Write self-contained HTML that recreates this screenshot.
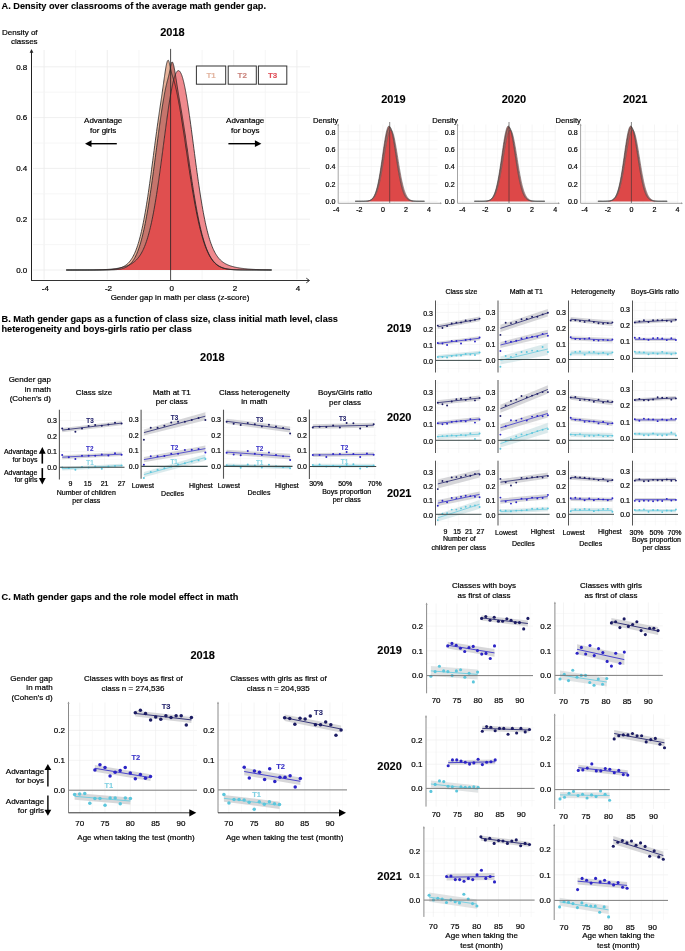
<!DOCTYPE html>
<html><head><meta charset="utf-8"><style>
html,body{margin:0;padding:0;background:#fff;}
svg{display:block;will-change:transform;}
text{font-family:"Liberation Sans", sans-serif;}
</style></head><body>
<svg width="685" height="951" viewBox="0 0 685 951">
<rect width="685" height="951" fill="#fff"/>
<text x="1.5" y="8.7" font-size="9.2" text-anchor="start" fill="#000" font-weight="bold" stroke="#000" stroke-width="0.1">A. Density over classrooms of the average math gender gap.</text>
<line x1="44.1" y1="50" x2="44.1" y2="279.5" stroke="#ebebeb" stroke-width="0.8"/>
<line x1="75.7" y1="50" x2="75.7" y2="279.5" stroke="#f4f4f4" stroke-width="0.8"/>
<line x1="107.3" y1="50" x2="107.3" y2="279.5" stroke="#ebebeb" stroke-width="0.8"/>
<line x1="138.9" y1="50" x2="138.9" y2="279.5" stroke="#f4f4f4" stroke-width="0.8"/>
<line x1="170.5" y1="50" x2="170.5" y2="279.5" stroke="#ebebeb" stroke-width="0.8"/>
<line x1="202.1" y1="50" x2="202.1" y2="279.5" stroke="#f4f4f4" stroke-width="0.8"/>
<line x1="233.7" y1="50" x2="233.7" y2="279.5" stroke="#ebebeb" stroke-width="0.8"/>
<line x1="265.3" y1="50" x2="265.3" y2="279.5" stroke="#f4f4f4" stroke-width="0.8"/>
<line x1="296.9" y1="50" x2="296.9" y2="279.5" stroke="#ebebeb" stroke-width="0.8"/>
<line x1="33" y1="270" x2="310" y2="270" stroke="#ebebeb" stroke-width="0.8"/>
<line x1="33" y1="244.6" x2="310" y2="244.6" stroke="#f4f4f4" stroke-width="0.8"/>
<line x1="33" y1="219.2" x2="310" y2="219.2" stroke="#ebebeb" stroke-width="0.8"/>
<line x1="33" y1="193.8" x2="310" y2="193.8" stroke="#f4f4f4" stroke-width="0.8"/>
<line x1="33" y1="168.4" x2="310" y2="168.4" stroke="#ebebeb" stroke-width="0.8"/>
<line x1="33" y1="143" x2="310" y2="143" stroke="#f4f4f4" stroke-width="0.8"/>
<line x1="33" y1="117.6" x2="310" y2="117.6" stroke="#ebebeb" stroke-width="0.8"/>
<line x1="33" y1="92.2" x2="310" y2="92.2" stroke="#f4f4f4" stroke-width="0.8"/>
<line x1="33" y1="66.8" x2="310" y2="66.8" stroke="#ebebeb" stroke-width="0.8"/>
<path d="M66.22,270 L66.85,270 L67.48,270 L68.12,270 L68.75,270 L69.38,270 L70.01,270 L70.64,270 L71.28,270 L71.91,270 L72.54,270 L73.17,270 L73.8,270 L74.44,270 L75.07,270 L75.7,270 L76.33,270 L76.96,270 L77.6,270 L78.23,270 L78.86,270 L79.49,270 L80.12,270 L80.76,270 L81.39,270 L82.02,270 L82.65,270 L83.28,270 L83.92,270 L84.55,270 L85.18,270 L85.81,270 L86.44,270 L87.08,270 L87.71,269.99 L88.34,269.99 L88.97,269.99 L89.6,269.99 L90.24,269.99 L90.87,269.99 L91.5,269.99 L92.13,269.99 L92.76,269.98 L93.4,269.98 L94.03,269.98 L94.66,269.98 L95.29,269.97 L95.92,269.97 L96.56,269.97 L97.19,269.96 L97.82,269.96 L98.45,269.95 L99.08,269.94 L99.72,269.94 L100.35,269.93 L100.98,269.92 L101.61,269.91 L102.24,269.9 L102.88,269.89 L103.51,269.87 L104.14,269.86 L104.77,269.84 L105.4,269.82 L106.04,269.8 L106.67,269.77 L107.3,269.75 L107.93,269.72 L108.56,269.69 L109.2,269.65 L109.83,269.61 L110.46,269.57 L111.09,269.52 L111.72,269.46 L112.36,269.4 L112.99,269.34 L113.62,269.27 L114.25,269.19 L114.88,269.1 L115.52,269 L116.15,268.9 L116.78,268.78 L117.41,268.65 L118.04,268.51 L118.68,268.36 L119.31,268.19 L119.94,268 L120.57,267.79 L121.2,267.57 L121.84,267.32 L122.47,267.05 L123.1,266.76 L123.73,266.43 L124.36,266.08 L125,265.69 L125.63,265.27 L126.26,264.81 L126.89,264.31 L127.52,263.76 L128.16,263.16 L128.79,262.51 L129.42,261.81 L130.05,261.04 L130.68,260.21 L131.32,259.31 L131.95,258.34 L132.58,257.29 L133.21,256.15 L133.84,254.92 L134.48,253.61 L135.11,252.19 L135.74,250.67 L136.37,249.04 L137,247.29 L137.64,245.43 L138.27,243.44 L138.9,241.32 L139.53,239.07 L140.16,236.68 L140.8,234.15 L141.43,231.48 L142.06,228.66 L142.69,225.7 L143.32,222.59 L143.96,219.32 L144.59,215.91 L145.22,212.35 L145.85,208.65 L146.48,204.81 L147.12,200.83 L147.75,196.72 L148.38,192.49 L149.01,188.14 L149.64,183.68 L150.28,179.13 L150.91,174.49 L151.54,169.79 L152.17,165.02 L152.8,160.22 L153.44,155.39 L154.07,150.55 L154.7,145.72 L155.33,140.91 L155.96,136.15 L156.6,131.46 L157.23,126.84 L157.86,122.31 L158.02,121.19 L158.18,120.07 L158.33,118.97 L158.49,117.87 L158.65,116.77 L158.81,115.68 L158.97,114.59 L159.12,113.51 L159.28,112.44 L159.44,111.37 L159.6,110.3 L159.76,109.23 L159.91,108.17 L160.07,107.11 L160.23,106.06 L160.39,105 L160.55,103.95 L160.7,102.89 L160.86,101.84 L161.02,100.78 L161.18,99.72 L161.34,98.66 L161.49,97.59 L161.65,96.52 L161.81,95.45 L161.97,94.37 L162.13,93.29 L162.28,92.2 L162.44,91.1 L162.6,90 L162.76,88.89 L162.92,87.77 L163.07,86.65 L163.23,85.53 L163.39,84.4 L163.55,83.27 L163.71,82.13 L163.86,81 L164.02,79.86 L164.18,78.73 L164.34,77.61 L164.5,76.49 L164.65,75.38 L164.81,74.28 L164.97,73.2 L165.13,72.14 L165.29,71.1 L165.44,70.09 L165.6,69.1 L165.76,68.15 L165.92,67.24 L166.08,66.37 L166.23,65.54 L166.39,64.76 L166.55,64.03 L166.71,63.35 L166.87,62.74 L167.02,62.18 L167.18,61.69 L167.34,61.27 L167.5,60.91 L167.66,60.62 L167.81,60.41 L167.97,60.27 L168.13,60.2 L168.29,60.22 L168.45,60.35 L168.6,60.6 L168.76,60.95 L168.92,61.41 L169.08,61.96 L169.24,62.59 L169.39,63.27 L169.55,64.01 L169.71,64.78 L169.87,65.57 L170.03,66.37 L170.18,67.17 L170.34,67.95 L170.5,68.71 L170.66,69.45 L170.82,70.16 L170.97,70.84 L171.13,71.48 L171.29,72.1 L171.45,72.68 L171.61,73.24 L171.76,73.78 L171.92,74.3 L172.08,74.8 L172.24,75.29 L172.4,75.78 L172.55,76.25 L172.71,76.73 L172.87,77.21 L173.03,77.7 L173.19,78.18 L173.34,78.68 L173.5,79.19 L173.66,79.7 L173.82,80.23 L173.98,80.76 L174.13,81.31 L174.29,81.87 L174.45,82.44 L174.61,83.02 L174.77,83.62 L174.92,84.23 L175.08,84.85 L175.24,85.48 L175.4,86.12 L175.56,86.78 L175.71,87.45 L175.87,88.13 L176.03,88.82 L176.19,89.52 L176.35,90.24 L176.5,90.96 L176.66,91.7 L176.82,92.44 L176.98,93.2 L177.14,93.97 L177.29,94.74 L177.45,95.53 L177.61,96.33 L177.77,97.14 L177.93,97.95 L178.08,98.78 L178.24,99.62 L178.4,100.46 L178.56,101.31 L178.72,102.18 L178.87,103.05 L179.03,103.92 L179.19,104.81 L179.35,105.71 L179.51,106.61 L179.66,107.52 L179.82,108.44 L179.98,109.36 L180.14,110.3 L180.3,111.24 L180.45,112.18 L180.61,113.13 L180.77,114.09 L180.93,115.06 L181.09,116.03 L181.24,117 L181.4,117.99 L181.56,118.97 L181.72,119.97 L181.88,120.96 L182.03,121.97 L182.19,122.97 L182.35,123.99 L182.51,125 L182.67,126.02 L182.82,127.04 L182.98,128.07 L183.14,129.1 L183.3,130.14 L183.46,131.18 L183.61,132.22 L183.77,133.26 L183.93,134.3 L184.09,135.35 L184.25,136.4 L184.4,137.46 L184.56,138.51 L184.72,139.57 L184.88,140.62 L185.04,141.68 L185.19,142.74 L185.35,143.8 L185.51,144.87 L185.67,145.93 L185.83,146.99 L185.98,148.05 L186.14,149.12 L186.3,150.18 L186.46,151.24 L186.62,152.31 L186.77,153.37 L186.93,154.43 L187.09,155.49 L187.25,156.55 L187.41,157.61 L187.56,158.67 L187.72,159.72 L187.88,160.78 L188.04,161.83 L188.2,162.88 L188.35,163.93 L188.51,164.98 L188.67,166.02 L188.83,167.06 L188.99,168.1 L189.14,169.14 L189.3,170.17 L189.46,171.2 L190.09,175.29 L190.72,179.33 L191.36,183.29 L191.99,187.19 L192.62,191.01 L193.25,194.75 L193.88,198.39 L194.52,201.95 L195.15,205.4 L195.78,208.76 L196.41,212.01 L197.04,215.16 L197.68,218.2 L198.31,221.13 L198.94,223.95 L199.57,226.67 L200.2,229.27 L200.84,231.76 L201.47,234.14 L202.1,236.42 L202.73,238.59 L203.36,240.66 L204,242.62 L204.63,244.48 L205.26,246.25 L205.89,247.92 L206.52,249.5 L207.16,250.98 L207.79,252.38 L208.42,253.7 L209.05,254.94 L209.68,256.1 L210.32,257.19 L210.95,258.2 L211.58,259.15 L212.21,260.03 L212.84,260.86 L213.48,261.62 L214.11,262.33 L214.74,262.99 L215.37,263.6 L216,264.16 L216.64,264.68 L217.27,265.16 L217.9,265.61 L218.53,266.01 L219.16,266.38 L219.8,266.73 L220.43,267.04 L221.06,267.33 L221.69,267.59 L222.32,267.83 L222.96,268.04 L223.59,268.24 L224.22,268.42 L224.85,268.58 L225.48,268.73 L226.12,268.86 L226.75,268.98 L227.38,269.09 L228.01,269.19 L228.64,269.28 L229.28,269.36 L229.91,269.43 L230.54,269.49 L231.17,269.55 L231.8,269.6 L232.44,269.65 L233.07,269.69 L233.7,269.73 L234.33,269.76 L234.96,269.79 L235.6,269.81 L236.23,269.84 L236.86,269.86 L237.49,269.87 L238.12,269.89 L238.76,269.9 L239.39,269.92 L240.02,269.93 L240.65,269.94 L241.28,269.94 L241.92,269.95 L242.55,269.96 L243.18,269.96 L243.81,269.97 L244.44,269.97 L245.08,269.98 L245.71,269.98 L246.34,269.98 L246.97,269.98 L247.6,269.99 L248.24,269.99 L248.87,269.99 L249.5,269.99 L250.13,269.99 L250.76,269.99 L251.4,269.99 L252.03,270 L252.66,270 L253.29,270 L253.92,270 L254.56,270 L255.19,270 L255.82,270 L256.45,270 L257.08,270 L257.72,270 L258.35,270 L258.98,270 L259.61,270 L260.24,270 L260.88,270 L261.51,270 L262.14,270 L262.77,270 L263.4,270 L264.04,270 L264.67,270 L265.3,270 L265.93,270 L266.56,270 L267.2,270 L267.83,270 L268.46,270 L269.09,270 L269.72,270 L270.36,270 L270.99,270 L271.62,270 L271.62,270 L66.22,270 Z" fill="#e8b39b" stroke="none" stroke-width="1"/>
<path d="M66.22,270 L66.85,270 L67.48,270 L68.12,270 L68.75,270 L69.38,270 L70.01,270 L70.64,270 L71.28,270 L71.91,270 L72.54,270 L73.17,270 L73.8,270 L74.44,270 L75.07,270 L75.7,270 L76.33,270 L76.96,270 L77.6,270 L78.23,270 L78.86,270 L79.49,270 L80.12,270 L80.76,270 L81.39,270 L82.02,270 L82.65,270 L83.28,270 L83.92,270 L84.55,270 L85.18,270 L85.81,270 L86.44,270 L87.08,270 L87.71,270 L88.34,270 L88.97,270 L89.6,270 L90.24,270 L90.87,270 L91.5,270 L92.13,270 L92.76,270 L93.4,270 L94.03,270 L94.66,270 L95.29,270 L95.92,270 L96.56,270 L97.19,270 L97.82,270 L98.45,270 L99.08,270 L99.72,269.99 L100.35,269.99 L100.98,269.99 L101.61,269.99 L102.24,269.99 L102.88,269.99 L103.51,269.98 L104.14,269.98 L104.77,269.98 L105.4,269.97 L106.04,269.97 L106.67,269.96 L107.3,269.96 L107.93,269.95 L108.56,269.94 L109.2,269.93 L109.83,269.92 L110.46,269.9 L111.09,269.89 L111.72,269.87 L112.36,269.84 L112.99,269.82 L113.62,269.79 L114.25,269.76 L114.88,269.72 L115.52,269.67 L116.15,269.62 L116.78,269.57 L117.41,269.5 L118.04,269.43 L118.68,269.35 L119.31,269.25 L119.94,269.15 L120.57,269.03 L121.2,268.89 L121.84,268.74 L122.47,268.57 L123.1,268.38 L123.73,268.17 L124.36,267.93 L125,267.67 L125.63,267.38 L126.26,267.05 L126.89,266.69 L127.52,266.29 L128.16,265.85 L128.79,265.37 L129.42,264.84 L130.05,264.25 L130.68,263.61 L131.32,262.91 L131.95,262.15 L132.58,261.32 L133.21,260.41 L133.84,259.43 L134.48,258.36 L135.11,257.21 L135.74,255.97 L136.37,254.63 L137,253.19 L137.64,251.64 L138.27,249.98 L138.9,248.21 L139.53,246.32 L140.16,244.31 L140.8,242.17 L141.43,239.9 L142.06,237.5 L142.69,234.96 L143.32,232.28 L143.96,229.46 L144.59,226.51 L145.22,223.41 L145.85,220.17 L146.48,216.79 L147.12,213.28 L147.75,209.63 L148.38,205.84 L149.01,201.93 L149.64,197.89 L150.28,193.74 L150.91,189.47 L151.54,185.11 L152.17,180.65 L152.8,176.11 L153.44,171.49 L154.07,166.81 L154.7,162.08 L155.33,157.32 L155.96,152.53 L156.6,147.74 L157.23,142.95 L157.86,138.19 L158.02,137 L158.18,135.82 L158.33,134.64 L158.49,133.47 L158.65,132.29 L158.81,131.13 L158.97,129.96 L159.12,128.8 L159.28,127.65 L159.44,126.5 L159.6,125.35 L159.76,124.21 L159.91,123.08 L160.07,121.95 L160.23,120.83 L160.39,119.71 L160.55,118.6 L160.7,117.5 L160.86,116.4 L161.02,115.32 L161.18,114.24 L161.34,113.17 L161.49,112.11 L161.65,111.05 L161.81,110.01 L161.97,108.97 L162.13,107.95 L162.28,106.93 L162.44,105.93 L162.6,104.93 L162.76,103.94 L162.92,102.97 L163.07,102.01 L163.23,101.06 L163.39,100.12 L163.55,99.19 L163.71,98.27 L163.86,97.37 L164.02,96.48 L164.18,95.6 L164.34,94.73 L164.5,93.88 L164.65,93.04 L164.81,92.22 L164.97,91.4 L165.13,90.61 L165.29,89.83 L165.44,89.06 L165.6,88.3 L165.76,87.57 L165.92,86.84 L166.08,86.13 L166.23,85.44 L166.39,84.76 L166.55,84.09 L166.71,83.44 L166.87,82.8 L167.02,82.18 L167.18,81.56 L167.34,80.96 L167.5,80.36 L167.66,79.77 L167.81,79.18 L167.97,78.59 L168.13,78 L168.29,77.4 L168.45,76.8 L168.6,76.18 L168.76,75.54 L168.92,74.88 L169.08,74.2 L169.24,73.49 L169.39,72.76 L169.55,72 L169.71,71.21 L169.87,70.4 L170.03,69.57 L170.18,68.73 L170.34,67.89 L170.5,67.05 L170.66,66.24 L170.82,65.45 L170.97,64.72 L171.13,64.04 L171.29,63.44 L171.45,62.93 L171.61,62.52 L171.76,62.22 L171.92,62.04 L172.08,61.97 L172.24,62.01 L172.4,62.11 L172.55,62.29 L172.71,62.53 L172.87,62.84 L173.03,63.21 L173.19,63.65 L173.34,64.14 L173.5,64.7 L173.66,65.31 L173.82,65.97 L173.98,66.68 L174.13,67.44 L174.29,68.24 L174.45,69.07 L174.61,69.94 L174.77,70.85 L174.92,71.77 L175.08,72.73 L175.24,73.7 L175.4,74.69 L175.56,75.69 L175.71,76.71 L175.87,77.73 L176.03,78.75 L176.19,79.78 L176.35,80.81 L176.5,81.84 L176.66,82.87 L176.82,83.89 L176.98,84.91 L177.14,85.92 L177.29,86.92 L177.45,87.92 L177.61,88.9 L177.77,89.88 L177.93,90.85 L178.08,91.81 L178.24,92.77 L178.4,93.71 L178.56,94.65 L178.72,95.58 L178.87,96.51 L179.03,97.43 L179.19,98.35 L179.35,99.26 L179.51,100.17 L179.66,101.07 L179.82,101.98 L179.98,102.88 L180.14,103.79 L180.3,104.69 L180.45,105.6 L180.61,106.51 L180.77,107.42 L180.93,108.33 L181.09,109.25 L181.24,110.17 L181.4,111.09 L181.56,112.02 L181.72,112.96 L181.88,113.9 L182.03,114.85 L182.19,115.8 L182.35,116.75 L182.51,117.72 L182.67,118.69 L182.82,119.66 L182.98,120.64 L183.14,121.63 L183.3,122.63 L183.46,123.62 L183.61,124.63 L183.77,125.64 L183.93,126.66 L184.09,127.68 L184.25,128.71 L184.4,129.74 L184.56,130.78 L184.72,131.82 L184.88,132.87 L185.04,133.92 L185.19,134.97 L185.35,136.03 L185.51,137.1 L185.67,138.16 L185.83,139.23 L185.98,140.31 L186.14,141.38 L186.3,142.46 L186.46,143.54 L186.62,144.63 L186.77,145.71 L186.93,146.8 L187.09,147.89 L187.25,148.98 L187.41,150.07 L187.56,151.16 L187.72,152.25 L187.88,153.35 L188.04,154.44 L188.2,155.53 L188.35,156.63 L188.51,157.72 L188.67,158.81 L188.83,159.91 L188.99,161 L189.14,162.09 L189.3,163.17 L189.46,164.26 L190.09,168.59 L190.72,172.88 L191.36,177.11 L191.99,181.29 L192.62,185.4 L193.25,189.43 L193.88,193.37 L194.52,197.21 L195.15,200.96 L195.78,204.6 L196.41,208.14 L197.04,211.55 L197.68,214.86 L198.31,218.04 L198.94,221.1 L199.57,224.04 L200.2,226.86 L200.84,229.55 L201.47,232.12 L202.1,234.58 L202.73,236.91 L203.36,239.12 L204,241.23 L204.63,243.22 L205.26,245.1 L205.89,246.87 L206.52,248.54 L207.16,250.12 L207.79,251.59 L208.42,252.98 L209.05,254.28 L209.68,255.49 L210.32,256.63 L210.95,257.69 L211.58,258.67 L212.21,259.59 L212.84,260.44 L213.48,261.23 L214.11,261.97 L214.74,262.64 L215.37,263.27 L216,263.85 L216.64,264.39 L217.27,264.88 L217.9,265.33 L218.53,265.75 L219.16,266.13 L219.8,266.48 L220.43,266.81 L221.06,267.1 L221.69,267.37 L222.32,267.62 L222.96,267.84 L223.59,268.05 L224.22,268.24 L224.85,268.41 L225.48,268.56 L226.12,268.71 L226.75,268.83 L227.38,268.95 L228.01,269.06 L228.64,269.15 L229.28,269.24 L229.91,269.32 L230.54,269.39 L231.17,269.45 L231.8,269.51 L232.44,269.56 L233.07,269.61 L233.7,269.65 L234.33,269.69 L234.96,269.72 L235.6,269.75 L236.23,269.78 L236.86,269.8 L237.49,269.83 L238.12,269.85 L238.76,269.86 L239.39,269.88 L240.02,269.89 L240.65,269.91 L241.28,269.92 L241.92,269.93 L242.55,269.93 L243.18,269.94 L243.81,269.95 L244.44,269.96 L245.08,269.96 L245.71,269.97 L246.34,269.97 L246.97,269.97 L247.6,269.98 L248.24,269.98 L248.87,269.98 L249.5,269.98 L250.13,269.99 L250.76,269.99 L251.4,269.99 L252.03,269.99 L252.66,269.99 L253.29,269.99 L253.92,269.99 L254.56,270 L255.19,270 L255.82,270 L256.45,270 L257.08,270 L257.72,270 L258.35,270 L258.98,270 L259.61,270 L260.24,270 L260.88,270 L261.51,270 L262.14,270 L262.77,270 L263.4,270 L264.04,270 L264.67,270 L265.3,270 L265.93,270 L266.56,270 L267.2,270 L267.83,270 L268.46,270 L269.09,270 L269.72,270 L270.36,270 L270.99,270 L271.62,270 L271.62,270 L66.22,270 Z" fill="#c6756c" stroke="none" stroke-width="1"/>
<path d="M66.22,270 L66.85,270 L67.48,270 L68.12,270 L68.75,270 L69.38,270 L70.01,270 L70.64,270 L71.28,270 L71.91,270 L72.54,270 L73.17,269.99 L73.8,269.99 L74.44,269.99 L75.07,269.99 L75.7,269.99 L76.33,269.99 L76.96,269.99 L77.6,269.99 L78.23,269.99 L78.86,269.99 L79.49,269.99 L80.12,269.98 L80.76,269.98 L81.39,269.98 L82.02,269.98 L82.65,269.98 L83.28,269.97 L83.92,269.97 L84.55,269.97 L85.18,269.97 L85.81,269.96 L86.44,269.96 L87.08,269.96 L87.71,269.95 L88.34,269.95 L88.97,269.94 L89.6,269.94 L90.24,269.93 L90.87,269.93 L91.5,269.92 L92.13,269.91 L92.76,269.9 L93.4,269.9 L94.03,269.89 L94.66,269.88 L95.29,269.87 L95.92,269.85 L96.56,269.84 L97.19,269.83 L97.82,269.81 L98.45,269.8 L99.08,269.78 L99.72,269.76 L100.35,269.75 L100.98,269.72 L101.61,269.7 L102.24,269.68 L102.88,269.65 L103.51,269.63 L104.14,269.6 L104.77,269.57 L105.4,269.54 L106.04,269.5 L106.67,269.47 L107.3,269.43 L107.93,269.38 L108.56,269.34 L109.2,269.29 L109.83,269.24 L110.46,269.19 L111.09,269.13 L111.72,269.07 L112.36,269.01 L112.99,268.94 L113.62,268.87 L114.25,268.79 L114.88,268.71 L115.52,268.63 L116.15,268.54 L116.78,268.45 L117.41,268.35 L118.04,268.24 L118.68,268.13 L119.31,268.01 L119.94,267.88 L120.57,267.75 L121.2,267.61 L121.84,267.47 L122.47,267.31 L123.1,267.14 L123.73,266.97 L124.36,266.79 L125,266.59 L125.63,266.38 L126.26,266.16 L126.89,265.93 L127.52,265.68 L128.16,265.42 L128.79,265.14 L129.42,264.84 L130.05,264.53 L130.68,264.19 L131.32,263.83 L131.95,263.44 L132.58,263.03 L133.21,262.6 L133.84,262.13 L134.48,261.63 L135.11,261.09 L135.74,260.51 L136.37,259.9 L137,259.24 L137.64,258.53 L138.27,257.77 L138.9,256.95 L139.53,256.08 L140.16,255.14 L140.8,254.14 L141.43,253.06 L142.06,251.91 L142.69,250.68 L143.32,249.36 L143.96,247.95 L144.59,246.44 L145.22,244.84 L145.85,243.13 L146.48,241.3 L147.12,239.37 L147.75,237.31 L148.38,235.13 L149.01,232.83 L149.64,230.39 L150.28,227.82 L150.91,225.1 L151.54,222.25 L152.17,219.26 L152.8,216.13 L153.44,212.85 L154.07,209.43 L154.7,205.87 L155.33,202.16 L155.96,198.33 L156.6,194.36 L157.23,190.26 L157.86,186.05 L158.02,184.98 L158.18,183.9 L158.33,182.81 L158.49,181.72 L158.65,180.62 L158.81,179.51 L158.97,178.4 L159.12,177.29 L159.28,176.16 L159.44,175.03 L159.6,173.9 L159.76,172.76 L159.91,171.61 L160.07,170.46 L160.23,169.31 L160.39,168.15 L160.55,166.98 L160.7,165.81 L160.86,164.64 L161.02,163.46 L161.18,162.28 L161.34,161.09 L161.49,159.91 L161.65,158.72 L161.81,157.52 L161.97,156.33 L162.13,155.13 L162.28,153.93 L162.44,152.72 L162.6,151.52 L162.76,150.31 L162.92,149.11 L163.07,147.9 L163.23,146.69 L163.39,145.48 L163.55,144.27 L163.71,143.06 L163.86,141.85 L164.02,140.64 L164.18,139.44 L164.34,138.23 L164.5,137.03 L164.65,135.82 L164.81,134.62 L164.97,133.43 L165.13,132.23 L165.29,131.04 L165.44,129.85 L165.6,128.66 L165.76,127.48 L165.92,126.3 L166.08,125.13 L166.23,123.96 L166.39,122.8 L166.55,121.64 L166.71,120.48 L166.87,119.34 L167.02,118.2 L167.18,117.06 L167.34,115.94 L167.5,114.82 L167.66,113.7 L167.81,112.6 L167.97,111.5 L168.13,110.41 L168.29,109.33 L168.45,108.26 L168.6,107.2 L168.76,106.15 L168.92,105.11 L169.08,104.08 L169.24,103.06 L169.39,102.05 L169.55,101.05 L169.71,100.06 L169.87,99.08 L170.03,98.12 L170.18,97.17 L170.34,96.23 L170.5,95.3 L170.66,94.39 L170.82,93.49 L170.97,92.61 L171.13,91.74 L171.29,90.88 L171.45,90.04 L171.61,89.21 L171.76,88.39 L171.92,87.6 L172.08,86.82 L172.24,86.05 L172.4,85.3 L172.55,84.57 L172.71,83.85 L172.87,83.15 L173.03,82.47 L173.19,81.8 L173.34,81.15 L173.5,80.52 L173.66,79.91 L173.82,79.31 L173.98,78.73 L174.13,78.18 L174.29,77.64 L174.45,77.12 L174.61,76.61 L174.77,76.13 L174.92,75.67 L175.08,75.22 L175.24,74.8 L175.4,74.4 L175.56,74.01 L175.71,73.65 L175.87,73.3 L176.03,72.98 L176.19,72.68 L176.35,72.39 L176.5,72.13 L176.66,71.89 L176.82,71.67 L176.98,71.47 L177.14,71.29 L177.29,71.13 L177.45,70.99 L177.61,70.87 L177.77,70.78 L177.93,70.71 L178.08,70.65 L178.24,70.62 L178.4,70.61 L178.56,70.62 L178.72,70.65 L178.87,70.7 L179.03,70.78 L179.19,70.87 L179.35,70.99 L179.51,71.12 L179.66,71.28 L179.82,71.46 L179.98,71.65 L180.14,71.87 L180.3,72.11 L180.45,72.37 L180.61,72.65 L180.77,72.95 L180.93,73.27 L181.09,73.61 L181.24,73.97 L181.4,74.35 L181.56,74.75 L181.72,75.17 L181.88,75.61 L182.03,76.06 L182.19,76.54 L182.35,77.04 L182.51,77.55 L182.67,78.09 L182.82,78.64 L182.98,79.21 L183.14,79.8 L183.3,80.4 L183.46,81.03 L183.61,81.67 L183.77,82.33 L183.93,83 L184.09,83.69 L184.25,84.4 L184.4,85.13 L184.56,85.87 L184.72,86.63 L184.88,87.4 L185.04,88.19 L185.19,89 L185.35,89.82 L185.51,90.65 L185.67,91.5 L185.83,92.36 L185.98,93.24 L186.14,94.13 L186.3,95.04 L186.46,95.95 L186.62,96.89 L186.77,97.83 L186.93,98.78 L187.09,99.75 L187.25,100.73 L187.41,101.72 L187.56,102.72 L187.72,103.74 L187.88,104.76 L188.04,105.79 L188.2,106.84 L188.35,107.89 L188.51,108.96 L188.67,110.03 L188.83,111.11 L188.99,112.2 L189.14,113.3 L189.3,114.4 L189.46,115.52 L190.09,120.04 L190.72,124.66 L191.36,129.37 L191.99,134.13 L192.62,138.93 L193.25,143.76 L193.88,148.59 L194.52,153.42 L195.15,158.21 L195.78,162.97 L196.41,167.67 L197.04,172.3 L197.68,176.86 L198.31,181.32 L198.94,185.67 L199.57,189.92 L200.2,194.05 L200.84,198.06 L201.47,201.93 L202.1,205.68 L202.73,209.28 L203.36,212.74 L204,216.06 L204.63,219.23 L205.26,222.26 L205.89,225.15 L206.52,227.9 L207.16,230.5 L207.79,232.97 L208.42,235.31 L209.05,237.51 L209.68,239.59 L210.32,241.55 L210.95,243.38 L211.58,245.11 L212.21,246.72 L212.84,248.23 L213.48,249.65 L214.11,250.96 L214.74,252.19 L215.37,253.34 L216,254.4 L216.64,255.4 L217.27,256.32 L217.9,257.18 L218.53,257.97 L219.16,258.71 L219.8,259.4 L220.43,260.03 L221.06,260.63 L221.69,261.18 L222.32,261.69 L222.96,262.16 L223.59,262.6 L224.22,263.02 L224.85,263.4 L225.48,263.76 L226.12,264.09 L226.75,264.4 L227.38,264.69 L228.01,264.97 L228.64,265.23 L229.28,265.47 L229.91,265.69 L230.54,265.91 L231.17,266.11 L231.8,266.3 L232.44,266.48 L233.07,266.65 L233.7,266.81 L234.33,266.97 L234.96,267.11 L235.6,267.25 L236.23,267.39 L236.86,267.51 L237.49,267.63 L238.12,267.75 L238.76,267.86 L239.39,267.96 L240.02,268.06 L240.65,268.16 L241.28,268.25 L241.92,268.33 L242.55,268.42 L243.18,268.5 L243.81,268.57 L244.44,268.65 L245.08,268.72 L245.71,268.78 L246.34,268.85 L246.97,268.91 L247.6,268.96 L248.24,269.02 L248.87,269.07 L249.5,269.12 L250.13,269.17 L250.76,269.22 L251.4,269.26 L252.03,269.3 L252.66,269.34 L253.29,269.38 L253.92,269.41 L254.56,269.45 L255.19,269.48 L255.82,269.51 L256.45,269.54 L257.08,269.57 L257.72,269.59 L258.35,269.62 L258.98,269.64 L259.61,269.66 L260.24,269.68 L260.88,269.7 L261.51,269.72 L262.14,269.74 L262.77,269.76 L263.4,269.77 L264.04,269.79 L264.67,269.8 L265.3,269.81 L265.93,269.83 L266.56,269.84 L267.2,269.85 L267.83,269.86 L268.46,269.87 L269.09,269.88 L269.72,269.89 L270.36,269.89 L270.99,269.9 L271.62,269.91 L271.62,270 L66.22,270 Z" fill="#f08a8e" stroke="none" stroke-width="1"/>
<path d="M66.22,270 L66.85,270 L67.48,270 L68.12,270 L68.75,270 L69.38,270 L70.01,270 L70.64,270 L71.28,270 L71.91,270 L72.54,270 L73.17,270 L73.8,270 L74.44,270 L75.07,270 L75.7,270 L76.33,270 L76.96,270 L77.6,270 L78.23,270 L78.86,270 L79.49,270 L80.12,270 L80.76,270 L81.39,270 L82.02,270 L82.65,270 L83.28,270 L83.92,270 L84.55,270 L85.18,270 L85.81,270 L86.44,270 L87.08,270 L87.71,270 L88.34,270 L88.97,270 L89.6,270 L90.24,270 L90.87,270 L91.5,270 L92.13,270 L92.76,270 L93.4,270 L94.03,270 L94.66,270 L95.29,270 L95.92,270 L96.56,270 L97.19,270 L97.82,270 L98.45,270 L99.08,270 L99.72,269.99 L100.35,269.99 L100.98,269.99 L101.61,269.99 L102.24,269.99 L102.88,269.99 L103.51,269.98 L104.14,269.98 L104.77,269.98 L105.4,269.97 L106.04,269.97 L106.67,269.96 L107.3,269.96 L107.93,269.95 L108.56,269.94 L109.2,269.93 L109.83,269.92 L110.46,269.9 L111.09,269.89 L111.72,269.87 L112.36,269.84 L112.99,269.82 L113.62,269.79 L114.25,269.76 L114.88,269.72 L115.52,269.67 L116.15,269.62 L116.78,269.57 L117.41,269.5 L118.04,269.43 L118.68,269.35 L119.31,269.25 L119.94,269.15 L120.57,269.03 L121.2,268.89 L121.84,268.74 L122.47,268.57 L123.1,268.38 L123.73,268.17 L124.36,267.93 L125,267.67 L125.63,267.38 L126.26,267.05 L126.89,266.69 L127.52,266.29 L128.16,265.85 L128.79,265.37 L129.42,264.84 L130.05,264.53 L130.68,264.19 L131.32,263.83 L131.95,263.44 L132.58,263.03 L133.21,262.6 L133.84,262.13 L134.48,261.63 L135.11,261.09 L135.74,260.51 L136.37,259.9 L137,259.24 L137.64,258.53 L138.27,257.77 L138.9,256.95 L139.53,256.08 L140.16,255.14 L140.8,254.14 L141.43,253.06 L142.06,251.91 L142.69,250.68 L143.32,249.36 L143.96,247.95 L144.59,246.44 L145.22,244.84 L145.85,243.13 L146.48,241.3 L147.12,239.37 L147.75,237.31 L148.38,235.13 L149.01,232.83 L149.64,230.39 L150.28,227.82 L150.91,225.1 L151.54,222.25 L152.17,219.26 L152.8,216.13 L153.44,212.85 L154.07,209.43 L154.7,205.87 L155.33,202.16 L155.96,198.33 L156.6,194.36 L157.23,190.26 L157.86,186.05 L158.02,184.98 L158.18,183.9 L158.33,182.81 L158.49,181.72 L158.65,180.62 L158.81,179.51 L158.97,178.4 L159.12,177.29 L159.28,176.16 L159.44,175.03 L159.6,173.9 L159.76,172.76 L159.91,171.61 L160.07,170.46 L160.23,169.31 L160.39,168.15 L160.55,166.98 L160.7,165.81 L160.86,164.64 L161.02,163.46 L161.18,162.28 L161.34,161.09 L161.49,159.91 L161.65,158.72 L161.81,157.52 L161.97,156.33 L162.13,155.13 L162.28,153.93 L162.44,152.72 L162.6,151.52 L162.76,150.31 L162.92,149.11 L163.07,147.9 L163.23,146.69 L163.39,145.48 L163.55,144.27 L163.71,143.06 L163.86,141.85 L164.02,140.64 L164.18,139.44 L164.34,138.23 L164.5,137.03 L164.65,135.82 L164.81,134.62 L164.97,133.43 L165.13,132.23 L165.29,131.04 L165.44,129.85 L165.6,128.66 L165.76,127.48 L165.92,126.3 L166.08,125.13 L166.23,123.96 L166.39,122.8 L166.55,121.64 L166.71,120.48 L166.87,119.34 L167.02,118.2 L167.18,117.06 L167.34,115.94 L167.5,114.82 L167.66,113.7 L167.81,112.6 L167.97,111.5 L168.13,110.41 L168.29,109.33 L168.45,108.26 L168.6,107.2 L168.76,106.15 L168.92,105.11 L169.08,104.08 L169.24,103.06 L169.39,102.05 L169.55,101.05 L169.71,100.06 L169.87,99.08 L170.03,98.12 L170.18,97.17 L170.34,96.23 L170.5,95.3 L170.66,94.39 L170.82,93.49 L170.97,92.61 L171.13,91.74 L171.29,90.88 L171.45,90.04 L171.61,89.21 L171.76,88.39 L171.92,87.6 L172.08,86.82 L172.24,86.05 L172.4,85.3 L172.55,84.57 L172.71,83.85 L172.87,83.15 L173.03,82.47 L173.19,81.8 L173.34,81.15 L173.5,80.52 L173.66,79.91 L173.82,79.31 L173.98,78.73 L174.13,78.18 L174.29,77.64 L174.45,77.12 L174.61,76.61 L174.77,76.13 L174.92,75.67 L175.08,75.22 L175.24,74.8 L175.4,74.69 L175.56,75.69 L175.71,76.71 L175.87,77.73 L176.03,78.75 L176.19,79.78 L176.35,80.81 L176.5,81.84 L176.66,82.87 L176.82,83.89 L176.98,84.91 L177.14,85.92 L177.29,86.92 L177.45,87.92 L177.61,88.9 L177.77,89.88 L177.93,90.85 L178.08,91.81 L178.24,92.77 L178.4,93.71 L178.56,94.65 L178.72,95.58 L178.87,96.51 L179.03,97.43 L179.19,98.35 L179.35,99.26 L179.51,100.17 L179.66,101.07 L179.82,101.98 L179.98,102.88 L180.14,103.79 L180.3,104.69 L180.45,105.6 L180.61,106.51 L180.77,107.42 L180.93,108.33 L181.09,109.25 L181.24,110.17 L181.4,111.09 L181.56,112.02 L181.72,112.96 L181.88,113.9 L182.03,114.85 L182.19,115.8 L182.35,116.75 L182.51,117.72 L182.67,118.69 L182.82,119.66 L182.98,120.64 L183.14,121.63 L183.3,122.63 L183.46,123.62 L183.61,124.63 L183.77,125.64 L183.93,126.66 L184.09,127.68 L184.25,128.71 L184.4,129.74 L184.56,130.78 L184.72,131.82 L184.88,132.87 L185.04,133.92 L185.19,134.97 L185.35,136.03 L185.51,137.1 L185.67,138.16 L185.83,139.23 L185.98,140.31 L186.14,141.38 L186.3,142.46 L186.46,143.54 L186.62,144.63 L186.77,145.71 L186.93,146.8 L187.09,147.89 L187.25,148.98 L187.41,150.07 L187.56,151.16 L187.72,152.25 L187.88,153.35 L188.04,154.44 L188.2,155.53 L188.35,156.63 L188.51,157.72 L188.67,158.81 L188.83,159.91 L188.99,161 L189.14,162.09 L189.3,163.17 L189.46,164.26 L190.09,168.59 L190.72,172.88 L191.36,177.11 L191.99,181.29 L192.62,185.4 L193.25,189.43 L193.88,193.37 L194.52,197.21 L195.15,200.96 L195.78,204.6 L196.41,208.14 L197.04,211.55 L197.68,214.86 L198.31,218.04 L198.94,221.1 L199.57,224.04 L200.2,226.86 L200.84,229.55 L201.47,232.12 L202.1,234.58 L202.73,236.91 L203.36,239.12 L204,241.23 L204.63,243.22 L205.26,245.1 L205.89,246.87 L206.52,248.54 L207.16,250.12 L207.79,251.59 L208.42,252.98 L209.05,254.28 L209.68,255.49 L210.32,256.63 L210.95,257.69 L211.58,258.67 L212.21,259.59 L212.84,260.44 L213.48,261.23 L214.11,261.97 L214.74,262.64 L215.37,263.27 L216,263.85 L216.64,264.39 L217.27,264.88 L217.9,265.33 L218.53,265.75 L219.16,266.13 L219.8,266.48 L220.43,266.81 L221.06,267.1 L221.69,267.37 L222.32,267.62 L222.96,267.84 L223.59,268.05 L224.22,268.24 L224.85,268.41 L225.48,268.56 L226.12,268.71 L226.75,268.83 L227.38,268.95 L228.01,269.06 L228.64,269.15 L229.28,269.24 L229.91,269.32 L230.54,269.39 L231.17,269.45 L231.8,269.51 L232.44,269.56 L233.07,269.61 L233.7,269.65 L234.33,269.69 L234.96,269.72 L235.6,269.75 L236.23,269.78 L236.86,269.8 L237.49,269.83 L238.12,269.85 L238.76,269.86 L239.39,269.88 L240.02,269.89 L240.65,269.91 L241.28,269.92 L241.92,269.93 L242.55,269.93 L243.18,269.94 L243.81,269.95 L244.44,269.96 L245.08,269.96 L245.71,269.97 L246.34,269.97 L246.97,269.97 L247.6,269.98 L248.24,269.98 L248.87,269.98 L249.5,269.98 L250.13,269.99 L250.76,269.99 L251.4,269.99 L252.03,269.99 L252.66,269.99 L253.29,269.99 L253.92,269.99 L254.56,270 L255.19,270 L255.82,270 L256.45,270 L257.08,270 L257.72,270 L258.35,270 L258.98,270 L259.61,270 L260.24,270 L260.88,270 L261.51,270 L262.14,270 L262.77,270 L263.4,270 L264.04,270 L264.67,270 L265.3,270 L265.93,270 L266.56,270 L267.2,270 L267.83,270 L268.46,270 L269.09,270 L269.72,270 L270.36,270 L270.99,270 L271.62,270 L271.62,270 L66.22,270 Z" fill="#e04f4f" stroke="none" stroke-width="1"/>
<path d="M66.22,270 L66.85,270 L67.48,270 L68.12,270 L68.75,270 L69.38,270 L70.01,270 L70.64,270 L71.28,270 L71.91,270 L72.54,270 L73.17,270 L73.8,270 L74.44,270 L75.07,270 L75.7,270 L76.33,270 L76.96,270 L77.6,270 L78.23,270 L78.86,270 L79.49,270 L80.12,270 L80.76,270 L81.39,270 L82.02,270 L82.65,270 L83.28,270 L83.92,270 L84.55,270 L85.18,270 L85.81,270 L86.44,270 L87.08,270 L87.71,269.99 L88.34,269.99 L88.97,269.99 L89.6,269.99 L90.24,269.99 L90.87,269.99 L91.5,269.99 L92.13,269.99 L92.76,269.98 L93.4,269.98 L94.03,269.98 L94.66,269.98 L95.29,269.97 L95.92,269.97 L96.56,269.97 L97.19,269.96 L97.82,269.96 L98.45,269.95 L99.08,269.94 L99.72,269.94 L100.35,269.93 L100.98,269.92 L101.61,269.91 L102.24,269.9 L102.88,269.89 L103.51,269.87 L104.14,269.86 L104.77,269.84 L105.4,269.82 L106.04,269.8 L106.67,269.77 L107.3,269.75 L107.93,269.72 L108.56,269.69 L109.2,269.65 L109.83,269.61 L110.46,269.57 L111.09,269.52 L111.72,269.46 L112.36,269.4 L112.99,269.34 L113.62,269.27 L114.25,269.19 L114.88,269.1 L115.52,269 L116.15,268.9 L116.78,268.78 L117.41,268.65 L118.04,268.51 L118.68,268.36 L119.31,268.19 L119.94,268 L120.57,267.79 L121.2,267.57 L121.84,267.32 L122.47,267.05 L123.1,266.76 L123.73,266.43 L124.36,266.08 L125,265.69 L125.63,265.27 L126.26,264.81 L126.89,264.31 L127.52,263.76 L128.16,263.16 L128.79,262.51 L129.42,261.81 L130.05,261.04 L130.68,260.21 L131.32,259.31 L131.95,258.34 L132.58,257.29 L133.21,256.15 L133.84,254.92 L134.48,253.61 L135.11,252.19 L135.74,250.67 L136.37,249.04 L137,247.29 L137.64,245.43 L138.27,243.44 L138.9,241.32 L139.53,239.07 L140.16,236.68 L140.8,234.15 L141.43,231.48 L142.06,228.66 L142.69,225.7 L143.32,222.59 L143.96,219.32 L144.59,215.91 L145.22,212.35 L145.85,208.65 L146.48,204.81 L147.12,200.83 L147.75,196.72 L148.38,192.49 L149.01,188.14 L149.64,183.68 L150.28,179.13 L150.91,174.49 L151.54,169.79 L152.17,165.02 L152.8,160.22 L153.44,155.39 L154.07,150.55 L154.7,145.72 L155.33,140.91 L155.96,136.15 L156.6,131.46 L157.23,126.84 L157.86,122.31 L158.02,121.19 L158.18,120.07 L158.33,118.97 L158.49,117.87 L158.65,116.77 L158.81,115.68 L158.97,114.59 L159.12,113.51 L159.28,112.44 L159.44,111.37 L159.6,110.3 L159.76,109.23 L159.91,108.17 L160.07,107.11 L160.23,106.06 L160.39,105 L160.55,103.95 L160.7,102.89 L160.86,101.84 L161.02,100.78 L161.18,99.72 L161.34,98.66 L161.49,97.59 L161.65,96.52 L161.81,95.45 L161.97,94.37 L162.13,93.29 L162.28,92.2 L162.44,91.1 L162.6,90 L162.76,88.89 L162.92,87.77 L163.07,86.65 L163.23,85.53 L163.39,84.4 L163.55,83.27 L163.71,82.13 L163.86,81 L164.02,79.86 L164.18,78.73 L164.34,77.61 L164.5,76.49 L164.65,75.38 L164.81,74.28 L164.97,73.2 L165.13,72.14 L165.29,71.1 L165.44,70.09 L165.6,69.1 L165.76,68.15 L165.92,67.24 L166.08,66.37 L166.23,65.54 L166.39,64.76 L166.55,64.03 L166.71,63.35 L166.87,62.74 L167.02,62.18 L167.18,61.69 L167.34,61.27 L167.5,60.91 L167.66,60.62 L167.81,60.41 L167.97,60.27 L168.13,60.2 L168.29,60.22 L168.45,60.35 L168.6,60.6 L168.76,60.95 L168.92,61.41 L169.08,61.96 L169.24,62.59 L169.39,63.27 L169.55,64.01 L169.71,64.78 L169.87,65.57 L170.03,66.37 L170.18,67.17 L170.34,67.95 L170.5,68.71 L170.66,69.45 L170.82,70.16 L170.97,70.84 L171.13,71.48 L171.29,72.1 L171.45,72.68 L171.61,73.24 L171.76,73.78 L171.92,74.3 L172.08,74.8 L172.24,75.29 L172.4,75.78 L172.55,76.25 L172.71,76.73 L172.87,77.21 L173.03,77.7 L173.19,78.18 L173.34,78.68 L173.5,79.19 L173.66,79.7 L173.82,80.23 L173.98,80.76 L174.13,81.31 L174.29,81.87 L174.45,82.44 L174.61,83.02 L174.77,83.62 L174.92,84.23 L175.08,84.85 L175.24,85.48 L175.4,86.12 L175.56,86.78 L175.71,87.45 L175.87,88.13 L176.03,88.82 L176.19,89.52 L176.35,90.24 L176.5,90.96 L176.66,91.7 L176.82,92.44 L176.98,93.2 L177.14,93.97 L177.29,94.74 L177.45,95.53 L177.61,96.33 L177.77,97.14 L177.93,97.95 L178.08,98.78 L178.24,99.62 L178.4,100.46 L178.56,101.31 L178.72,102.18 L178.87,103.05 L179.03,103.92 L179.19,104.81 L179.35,105.71 L179.51,106.61 L179.66,107.52 L179.82,108.44 L179.98,109.36 L180.14,110.3 L180.3,111.24 L180.45,112.18 L180.61,113.13 L180.77,114.09 L180.93,115.06 L181.09,116.03 L181.24,117 L181.4,117.99 L181.56,118.97 L181.72,119.97 L181.88,120.96 L182.03,121.97 L182.19,122.97 L182.35,123.99 L182.51,125 L182.67,126.02 L182.82,127.04 L182.98,128.07 L183.14,129.1 L183.3,130.14 L183.46,131.18 L183.61,132.22 L183.77,133.26 L183.93,134.3 L184.09,135.35 L184.25,136.4 L184.4,137.46 L184.56,138.51 L184.72,139.57 L184.88,140.62 L185.04,141.68 L185.19,142.74 L185.35,143.8 L185.51,144.87 L185.67,145.93 L185.83,146.99 L185.98,148.05 L186.14,149.12 L186.3,150.18 L186.46,151.24 L186.62,152.31 L186.77,153.37 L186.93,154.43 L187.09,155.49 L187.25,156.55 L187.41,157.61 L187.56,158.67 L187.72,159.72 L187.88,160.78 L188.04,161.83 L188.2,162.88 L188.35,163.93 L188.51,164.98 L188.67,166.02 L188.83,167.06 L188.99,168.1 L189.14,169.14 L189.3,170.17 L189.46,171.2 L190.09,175.29 L190.72,179.33 L191.36,183.29 L191.99,187.19 L192.62,191.01 L193.25,194.75 L193.88,198.39 L194.52,201.95 L195.15,205.4 L195.78,208.76 L196.41,212.01 L197.04,215.16 L197.68,218.2 L198.31,221.13 L198.94,223.95 L199.57,226.67 L200.2,229.27 L200.84,231.76 L201.47,234.14 L202.1,236.42 L202.73,238.59 L203.36,240.66 L204,242.62 L204.63,244.48 L205.26,246.25 L205.89,247.92 L206.52,249.5 L207.16,250.98 L207.79,252.38 L208.42,253.7 L209.05,254.94 L209.68,256.1 L210.32,257.19 L210.95,258.2 L211.58,259.15 L212.21,260.03 L212.84,260.86 L213.48,261.62 L214.11,262.33 L214.74,262.99 L215.37,263.6 L216,264.16 L216.64,264.68 L217.27,265.16 L217.9,265.61 L218.53,266.01 L219.16,266.38 L219.8,266.73 L220.43,267.04 L221.06,267.33 L221.69,267.59 L222.32,267.83 L222.96,268.04 L223.59,268.24 L224.22,268.42 L224.85,268.58 L225.48,268.73 L226.12,268.86 L226.75,268.98 L227.38,269.09 L228.01,269.19 L228.64,269.28 L229.28,269.36 L229.91,269.43 L230.54,269.49 L231.17,269.55 L231.8,269.6 L232.44,269.65 L233.07,269.69 L233.7,269.73 L234.33,269.76 L234.96,269.79 L235.6,269.81 L236.23,269.84 L236.86,269.86 L237.49,269.87 L238.12,269.89 L238.76,269.9 L239.39,269.92 L240.02,269.93 L240.65,269.94 L241.28,269.94 L241.92,269.95 L242.55,269.96 L243.18,269.96 L243.81,269.97 L244.44,269.97 L245.08,269.98 L245.71,269.98 L246.34,269.98 L246.97,269.98 L247.6,269.99 L248.24,269.99 L248.87,269.99 L249.5,269.99 L250.13,269.99 L250.76,269.99 L251.4,269.99 L252.03,270 L252.66,270 L253.29,270 L253.92,270 L254.56,270 L255.19,270 L255.82,270 L256.45,270 L257.08,270 L257.72,270 L258.35,270 L258.98,270 L259.61,270 L260.24,270 L260.88,270 L261.51,270 L262.14,270 L262.77,270 L263.4,270 L264.04,270 L264.67,270 L265.3,270 L265.93,270 L266.56,270 L267.2,270 L267.83,270 L268.46,270 L269.09,270 L269.72,270 L270.36,270 L270.99,270 L271.62,270" fill="none" stroke="#222" stroke-width="0.8"/>
<path d="M66.22,270 L66.85,270 L67.48,270 L68.12,270 L68.75,270 L69.38,270 L70.01,270 L70.64,270 L71.28,270 L71.91,270 L72.54,270 L73.17,270 L73.8,270 L74.44,270 L75.07,270 L75.7,270 L76.33,270 L76.96,270 L77.6,270 L78.23,270 L78.86,270 L79.49,270 L80.12,270 L80.76,270 L81.39,270 L82.02,270 L82.65,270 L83.28,270 L83.92,270 L84.55,270 L85.18,270 L85.81,270 L86.44,270 L87.08,270 L87.71,270 L88.34,270 L88.97,270 L89.6,270 L90.24,270 L90.87,270 L91.5,270 L92.13,270 L92.76,270 L93.4,270 L94.03,270 L94.66,270 L95.29,270 L95.92,270 L96.56,270 L97.19,270 L97.82,270 L98.45,270 L99.08,270 L99.72,269.99 L100.35,269.99 L100.98,269.99 L101.61,269.99 L102.24,269.99 L102.88,269.99 L103.51,269.98 L104.14,269.98 L104.77,269.98 L105.4,269.97 L106.04,269.97 L106.67,269.96 L107.3,269.96 L107.93,269.95 L108.56,269.94 L109.2,269.93 L109.83,269.92 L110.46,269.9 L111.09,269.89 L111.72,269.87 L112.36,269.84 L112.99,269.82 L113.62,269.79 L114.25,269.76 L114.88,269.72 L115.52,269.67 L116.15,269.62 L116.78,269.57 L117.41,269.5 L118.04,269.43 L118.68,269.35 L119.31,269.25 L119.94,269.15 L120.57,269.03 L121.2,268.89 L121.84,268.74 L122.47,268.57 L123.1,268.38 L123.73,268.17 L124.36,267.93 L125,267.67 L125.63,267.38 L126.26,267.05 L126.89,266.69 L127.52,266.29 L128.16,265.85 L128.79,265.37 L129.42,264.84 L130.05,264.25 L130.68,263.61 L131.32,262.91 L131.95,262.15 L132.58,261.32 L133.21,260.41 L133.84,259.43 L134.48,258.36 L135.11,257.21 L135.74,255.97 L136.37,254.63 L137,253.19 L137.64,251.64 L138.27,249.98 L138.9,248.21 L139.53,246.32 L140.16,244.31 L140.8,242.17 L141.43,239.9 L142.06,237.5 L142.69,234.96 L143.32,232.28 L143.96,229.46 L144.59,226.51 L145.22,223.41 L145.85,220.17 L146.48,216.79 L147.12,213.28 L147.75,209.63 L148.38,205.84 L149.01,201.93 L149.64,197.89 L150.28,193.74 L150.91,189.47 L151.54,185.11 L152.17,180.65 L152.8,176.11 L153.44,171.49 L154.07,166.81 L154.7,162.08 L155.33,157.32 L155.96,152.53 L156.6,147.74 L157.23,142.95 L157.86,138.19 L158.02,137 L158.18,135.82 L158.33,134.64 L158.49,133.47 L158.65,132.29 L158.81,131.13 L158.97,129.96 L159.12,128.8 L159.28,127.65 L159.44,126.5 L159.6,125.35 L159.76,124.21 L159.91,123.08 L160.07,121.95 L160.23,120.83 L160.39,119.71 L160.55,118.6 L160.7,117.5 L160.86,116.4 L161.02,115.32 L161.18,114.24 L161.34,113.17 L161.49,112.11 L161.65,111.05 L161.81,110.01 L161.97,108.97 L162.13,107.95 L162.28,106.93 L162.44,105.93 L162.6,104.93 L162.76,103.94 L162.92,102.97 L163.07,102.01 L163.23,101.06 L163.39,100.12 L163.55,99.19 L163.71,98.27 L163.86,97.37 L164.02,96.48 L164.18,95.6 L164.34,94.73 L164.5,93.88 L164.65,93.04 L164.81,92.22 L164.97,91.4 L165.13,90.61 L165.29,89.83 L165.44,89.06 L165.6,88.3 L165.76,87.57 L165.92,86.84 L166.08,86.13 L166.23,85.44 L166.39,84.76 L166.55,84.09 L166.71,83.44 L166.87,82.8 L167.02,82.18 L167.18,81.56 L167.34,80.96 L167.5,80.36 L167.66,79.77 L167.81,79.18 L167.97,78.59 L168.13,78 L168.29,77.4 L168.45,76.8 L168.6,76.18 L168.76,75.54 L168.92,74.88 L169.08,74.2 L169.24,73.49 L169.39,72.76 L169.55,72 L169.71,71.21 L169.87,70.4 L170.03,69.57 L170.18,68.73 L170.34,67.89 L170.5,67.05 L170.66,66.24 L170.82,65.45 L170.97,64.72 L171.13,64.04 L171.29,63.44 L171.45,62.93 L171.61,62.52 L171.76,62.22 L171.92,62.04 L172.08,61.97 L172.24,62.01 L172.4,62.11 L172.55,62.29 L172.71,62.53 L172.87,62.84 L173.03,63.21 L173.19,63.65 L173.34,64.14 L173.5,64.7 L173.66,65.31 L173.82,65.97 L173.98,66.68 L174.13,67.44 L174.29,68.24 L174.45,69.07 L174.61,69.94 L174.77,70.85 L174.92,71.77 L175.08,72.73 L175.24,73.7 L175.4,74.69 L175.56,75.69 L175.71,76.71 L175.87,77.73 L176.03,78.75 L176.19,79.78 L176.35,80.81 L176.5,81.84 L176.66,82.87 L176.82,83.89 L176.98,84.91 L177.14,85.92 L177.29,86.92 L177.45,87.92 L177.61,88.9 L177.77,89.88 L177.93,90.85 L178.08,91.81 L178.24,92.77 L178.4,93.71 L178.56,94.65 L178.72,95.58 L178.87,96.51 L179.03,97.43 L179.19,98.35 L179.35,99.26 L179.51,100.17 L179.66,101.07 L179.82,101.98 L179.98,102.88 L180.14,103.79 L180.3,104.69 L180.45,105.6 L180.61,106.51 L180.77,107.42 L180.93,108.33 L181.09,109.25 L181.24,110.17 L181.4,111.09 L181.56,112.02 L181.72,112.96 L181.88,113.9 L182.03,114.85 L182.19,115.8 L182.35,116.75 L182.51,117.72 L182.67,118.69 L182.82,119.66 L182.98,120.64 L183.14,121.63 L183.3,122.63 L183.46,123.62 L183.61,124.63 L183.77,125.64 L183.93,126.66 L184.09,127.68 L184.25,128.71 L184.4,129.74 L184.56,130.78 L184.72,131.82 L184.88,132.87 L185.04,133.92 L185.19,134.97 L185.35,136.03 L185.51,137.1 L185.67,138.16 L185.83,139.23 L185.98,140.31 L186.14,141.38 L186.3,142.46 L186.46,143.54 L186.62,144.63 L186.77,145.71 L186.93,146.8 L187.09,147.89 L187.25,148.98 L187.41,150.07 L187.56,151.16 L187.72,152.25 L187.88,153.35 L188.04,154.44 L188.2,155.53 L188.35,156.63 L188.51,157.72 L188.67,158.81 L188.83,159.91 L188.99,161 L189.14,162.09 L189.3,163.17 L189.46,164.26 L190.09,168.59 L190.72,172.88 L191.36,177.11 L191.99,181.29 L192.62,185.4 L193.25,189.43 L193.88,193.37 L194.52,197.21 L195.15,200.96 L195.78,204.6 L196.41,208.14 L197.04,211.55 L197.68,214.86 L198.31,218.04 L198.94,221.1 L199.57,224.04 L200.2,226.86 L200.84,229.55 L201.47,232.12 L202.1,234.58 L202.73,236.91 L203.36,239.12 L204,241.23 L204.63,243.22 L205.26,245.1 L205.89,246.87 L206.52,248.54 L207.16,250.12 L207.79,251.59 L208.42,252.98 L209.05,254.28 L209.68,255.49 L210.32,256.63 L210.95,257.69 L211.58,258.67 L212.21,259.59 L212.84,260.44 L213.48,261.23 L214.11,261.97 L214.74,262.64 L215.37,263.27 L216,263.85 L216.64,264.39 L217.27,264.88 L217.9,265.33 L218.53,265.75 L219.16,266.13 L219.8,266.48 L220.43,266.81 L221.06,267.1 L221.69,267.37 L222.32,267.62 L222.96,267.84 L223.59,268.05 L224.22,268.24 L224.85,268.41 L225.48,268.56 L226.12,268.71 L226.75,268.83 L227.38,268.95 L228.01,269.06 L228.64,269.15 L229.28,269.24 L229.91,269.32 L230.54,269.39 L231.17,269.45 L231.8,269.51 L232.44,269.56 L233.07,269.61 L233.7,269.65 L234.33,269.69 L234.96,269.72 L235.6,269.75 L236.23,269.78 L236.86,269.8 L237.49,269.83 L238.12,269.85 L238.76,269.86 L239.39,269.88 L240.02,269.89 L240.65,269.91 L241.28,269.92 L241.92,269.93 L242.55,269.93 L243.18,269.94 L243.81,269.95 L244.44,269.96 L245.08,269.96 L245.71,269.97 L246.34,269.97 L246.97,269.97 L247.6,269.98 L248.24,269.98 L248.87,269.98 L249.5,269.98 L250.13,269.99 L250.76,269.99 L251.4,269.99 L252.03,269.99 L252.66,269.99 L253.29,269.99 L253.92,269.99 L254.56,270 L255.19,270 L255.82,270 L256.45,270 L257.08,270 L257.72,270 L258.35,270 L258.98,270 L259.61,270 L260.24,270 L260.88,270 L261.51,270 L262.14,270 L262.77,270 L263.4,270 L264.04,270 L264.67,270 L265.3,270 L265.93,270 L266.56,270 L267.2,270 L267.83,270 L268.46,270 L269.09,270 L269.72,270 L270.36,270 L270.99,270 L271.62,270" fill="none" stroke="#222" stroke-width="0.8"/>
<path d="M66.22,270 L66.85,270 L67.48,270 L68.12,270 L68.75,270 L69.38,270 L70.01,270 L70.64,270 L71.28,270 L71.91,270 L72.54,270 L73.17,269.99 L73.8,269.99 L74.44,269.99 L75.07,269.99 L75.7,269.99 L76.33,269.99 L76.96,269.99 L77.6,269.99 L78.23,269.99 L78.86,269.99 L79.49,269.99 L80.12,269.98 L80.76,269.98 L81.39,269.98 L82.02,269.98 L82.65,269.98 L83.28,269.97 L83.92,269.97 L84.55,269.97 L85.18,269.97 L85.81,269.96 L86.44,269.96 L87.08,269.96 L87.71,269.95 L88.34,269.95 L88.97,269.94 L89.6,269.94 L90.24,269.93 L90.87,269.93 L91.5,269.92 L92.13,269.91 L92.76,269.9 L93.4,269.9 L94.03,269.89 L94.66,269.88 L95.29,269.87 L95.92,269.85 L96.56,269.84 L97.19,269.83 L97.82,269.81 L98.45,269.8 L99.08,269.78 L99.72,269.76 L100.35,269.75 L100.98,269.72 L101.61,269.7 L102.24,269.68 L102.88,269.65 L103.51,269.63 L104.14,269.6 L104.77,269.57 L105.4,269.54 L106.04,269.5 L106.67,269.47 L107.3,269.43 L107.93,269.38 L108.56,269.34 L109.2,269.29 L109.83,269.24 L110.46,269.19 L111.09,269.13 L111.72,269.07 L112.36,269.01 L112.99,268.94 L113.62,268.87 L114.25,268.79 L114.88,268.71 L115.52,268.63 L116.15,268.54 L116.78,268.45 L117.41,268.35 L118.04,268.24 L118.68,268.13 L119.31,268.01 L119.94,267.88 L120.57,267.75 L121.2,267.61 L121.84,267.47 L122.47,267.31 L123.1,267.14 L123.73,266.97 L124.36,266.79 L125,266.59 L125.63,266.38 L126.26,266.16 L126.89,265.93 L127.52,265.68 L128.16,265.42 L128.79,265.14 L129.42,264.84 L130.05,264.53 L130.68,264.19 L131.32,263.83 L131.95,263.44 L132.58,263.03 L133.21,262.6 L133.84,262.13 L134.48,261.63 L135.11,261.09 L135.74,260.51 L136.37,259.9 L137,259.24 L137.64,258.53 L138.27,257.77 L138.9,256.95 L139.53,256.08 L140.16,255.14 L140.8,254.14 L141.43,253.06 L142.06,251.91 L142.69,250.68 L143.32,249.36 L143.96,247.95 L144.59,246.44 L145.22,244.84 L145.85,243.13 L146.48,241.3 L147.12,239.37 L147.75,237.31 L148.38,235.13 L149.01,232.83 L149.64,230.39 L150.28,227.82 L150.91,225.1 L151.54,222.25 L152.17,219.26 L152.8,216.13 L153.44,212.85 L154.07,209.43 L154.7,205.87 L155.33,202.16 L155.96,198.33 L156.6,194.36 L157.23,190.26 L157.86,186.05 L158.02,184.98 L158.18,183.9 L158.33,182.81 L158.49,181.72 L158.65,180.62 L158.81,179.51 L158.97,178.4 L159.12,177.29 L159.28,176.16 L159.44,175.03 L159.6,173.9 L159.76,172.76 L159.91,171.61 L160.07,170.46 L160.23,169.31 L160.39,168.15 L160.55,166.98 L160.7,165.81 L160.86,164.64 L161.02,163.46 L161.18,162.28 L161.34,161.09 L161.49,159.91 L161.65,158.72 L161.81,157.52 L161.97,156.33 L162.13,155.13 L162.28,153.93 L162.44,152.72 L162.6,151.52 L162.76,150.31 L162.92,149.11 L163.07,147.9 L163.23,146.69 L163.39,145.48 L163.55,144.27 L163.71,143.06 L163.86,141.85 L164.02,140.64 L164.18,139.44 L164.34,138.23 L164.5,137.03 L164.65,135.82 L164.81,134.62 L164.97,133.43 L165.13,132.23 L165.29,131.04 L165.44,129.85 L165.6,128.66 L165.76,127.48 L165.92,126.3 L166.08,125.13 L166.23,123.96 L166.39,122.8 L166.55,121.64 L166.71,120.48 L166.87,119.34 L167.02,118.2 L167.18,117.06 L167.34,115.94 L167.5,114.82 L167.66,113.7 L167.81,112.6 L167.97,111.5 L168.13,110.41 L168.29,109.33 L168.45,108.26 L168.6,107.2 L168.76,106.15 L168.92,105.11 L169.08,104.08 L169.24,103.06 L169.39,102.05 L169.55,101.05 L169.71,100.06 L169.87,99.08 L170.03,98.12 L170.18,97.17 L170.34,96.23 L170.5,95.3 L170.66,94.39 L170.82,93.49 L170.97,92.61 L171.13,91.74 L171.29,90.88 L171.45,90.04 L171.61,89.21 L171.76,88.39 L171.92,87.6 L172.08,86.82 L172.24,86.05 L172.4,85.3 L172.55,84.57 L172.71,83.85 L172.87,83.15 L173.03,82.47 L173.19,81.8 L173.34,81.15 L173.5,80.52 L173.66,79.91 L173.82,79.31 L173.98,78.73 L174.13,78.18 L174.29,77.64 L174.45,77.12 L174.61,76.61 L174.77,76.13 L174.92,75.67 L175.08,75.22 L175.24,74.8 L175.4,74.4 L175.56,74.01 L175.71,73.65 L175.87,73.3 L176.03,72.98 L176.19,72.68 L176.35,72.39 L176.5,72.13 L176.66,71.89 L176.82,71.67 L176.98,71.47 L177.14,71.29 L177.29,71.13 L177.45,70.99 L177.61,70.87 L177.77,70.78 L177.93,70.71 L178.08,70.65 L178.24,70.62 L178.4,70.61 L178.56,70.62 L178.72,70.65 L178.87,70.7 L179.03,70.78 L179.19,70.87 L179.35,70.99 L179.51,71.12 L179.66,71.28 L179.82,71.46 L179.98,71.65 L180.14,71.87 L180.3,72.11 L180.45,72.37 L180.61,72.65 L180.77,72.95 L180.93,73.27 L181.09,73.61 L181.24,73.97 L181.4,74.35 L181.56,74.75 L181.72,75.17 L181.88,75.61 L182.03,76.06 L182.19,76.54 L182.35,77.04 L182.51,77.55 L182.67,78.09 L182.82,78.64 L182.98,79.21 L183.14,79.8 L183.3,80.4 L183.46,81.03 L183.61,81.67 L183.77,82.33 L183.93,83 L184.09,83.69 L184.25,84.4 L184.4,85.13 L184.56,85.87 L184.72,86.63 L184.88,87.4 L185.04,88.19 L185.19,89 L185.35,89.82 L185.51,90.65 L185.67,91.5 L185.83,92.36 L185.98,93.24 L186.14,94.13 L186.3,95.04 L186.46,95.95 L186.62,96.89 L186.77,97.83 L186.93,98.78 L187.09,99.75 L187.25,100.73 L187.41,101.72 L187.56,102.72 L187.72,103.74 L187.88,104.76 L188.04,105.79 L188.2,106.84 L188.35,107.89 L188.51,108.96 L188.67,110.03 L188.83,111.11 L188.99,112.2 L189.14,113.3 L189.3,114.4 L189.46,115.52 L190.09,120.04 L190.72,124.66 L191.36,129.37 L191.99,134.13 L192.62,138.93 L193.25,143.76 L193.88,148.59 L194.52,153.42 L195.15,158.21 L195.78,162.97 L196.41,167.67 L197.04,172.3 L197.68,176.86 L198.31,181.32 L198.94,185.67 L199.57,189.92 L200.2,194.05 L200.84,198.06 L201.47,201.93 L202.1,205.68 L202.73,209.28 L203.36,212.74 L204,216.06 L204.63,219.23 L205.26,222.26 L205.89,225.15 L206.52,227.9 L207.16,230.5 L207.79,232.97 L208.42,235.31 L209.05,237.51 L209.68,239.59 L210.32,241.55 L210.95,243.38 L211.58,245.11 L212.21,246.72 L212.84,248.23 L213.48,249.65 L214.11,250.96 L214.74,252.19 L215.37,253.34 L216,254.4 L216.64,255.4 L217.27,256.32 L217.9,257.18 L218.53,257.97 L219.16,258.71 L219.8,259.4 L220.43,260.03 L221.06,260.63 L221.69,261.18 L222.32,261.69 L222.96,262.16 L223.59,262.6 L224.22,263.02 L224.85,263.4 L225.48,263.76 L226.12,264.09 L226.75,264.4 L227.38,264.69 L228.01,264.97 L228.64,265.23 L229.28,265.47 L229.91,265.69 L230.54,265.91 L231.17,266.11 L231.8,266.3 L232.44,266.48 L233.07,266.65 L233.7,266.81 L234.33,266.97 L234.96,267.11 L235.6,267.25 L236.23,267.39 L236.86,267.51 L237.49,267.63 L238.12,267.75 L238.76,267.86 L239.39,267.96 L240.02,268.06 L240.65,268.16 L241.28,268.25 L241.92,268.33 L242.55,268.42 L243.18,268.5 L243.81,268.57 L244.44,268.65 L245.08,268.72 L245.71,268.78 L246.34,268.85 L246.97,268.91 L247.6,268.96 L248.24,269.02 L248.87,269.07 L249.5,269.12 L250.13,269.17 L250.76,269.22 L251.4,269.26 L252.03,269.3 L252.66,269.34 L253.29,269.38 L253.92,269.41 L254.56,269.45 L255.19,269.48 L255.82,269.51 L256.45,269.54 L257.08,269.57 L257.72,269.59 L258.35,269.62 L258.98,269.64 L259.61,269.66 L260.24,269.68 L260.88,269.7 L261.51,269.72 L262.14,269.74 L262.77,269.76 L263.4,269.77 L264.04,269.79 L264.67,269.8 L265.3,269.81 L265.93,269.83 L266.56,269.84 L267.2,269.85 L267.83,269.86 L268.46,269.87 L269.09,269.88 L269.72,269.89 L270.36,269.89 L270.99,269.9 L271.62,269.91" fill="none" stroke="#222" stroke-width="0.8"/>
<line x1="170.6" y1="48.9" x2="170.6" y2="280" stroke="#222" stroke-width="0.8"/>
<line x1="31.5" y1="281" x2="31.5" y2="52" stroke="#222" stroke-width="1"/>
<path d="M31.5,49 L33.4,52.8 L29.6,52.8 Z" fill="#222" stroke="none" stroke-width="1"/>
<line x1="31" y1="280.5" x2="309.3" y2="280.5" stroke="#333" stroke-width="1"/>
<path d="M306.3,278.2 L309.5,280.5 L306.3,282.8" fill="none" stroke="#333" stroke-width="1"/>
<text x="27.3" y="272.86" font-size="8" text-anchor="end" fill="#000" stroke="#000" stroke-width="0.2">0.0</text>
<text x="27.3" y="222.06" font-size="8" text-anchor="end" fill="#000" stroke="#000" stroke-width="0.2">0.2</text>
<text x="27.3" y="171.26" font-size="8" text-anchor="end" fill="#000" stroke="#000" stroke-width="0.2">0.4</text>
<text x="27.3" y="120.46" font-size="8" text-anchor="end" fill="#000" stroke="#000" stroke-width="0.2">0.6</text>
<text x="27.3" y="69.66" font-size="8" text-anchor="end" fill="#000" stroke="#000" stroke-width="0.2">0.8</text>
<text x="45.3" y="291.36" font-size="8" text-anchor="middle" fill="#000" stroke="#000" stroke-width="0.2">-4</text>
<text x="108.5" y="291.36" font-size="8" text-anchor="middle" fill="#000" stroke="#000" stroke-width="0.2">-2</text>
<text x="171.7" y="291.36" font-size="8" text-anchor="middle" fill="#000" stroke="#000" stroke-width="0.2">0</text>
<text x="234.9" y="291.36" font-size="8" text-anchor="middle" fill="#000" stroke="#000" stroke-width="0.2">2</text>
<text x="298.1" y="291.36" font-size="8" text-anchor="middle" fill="#000" stroke="#000" stroke-width="0.2">4</text>
<text x="180" y="300.2" font-size="8" text-anchor="middle" fill="#000" stroke="#000" stroke-width="0.2">Gender gap in math per class (z-score)</text>
<text x="37.6" y="34.5" font-size="8" text-anchor="end" fill="#000" stroke="#000" stroke-width="0.2">Density of</text>
<text x="37.6" y="43.7" font-size="8" text-anchor="end" fill="#000" stroke="#000" stroke-width="0.2">classes</text>
<text x="172.4" y="35.8" font-size="11" text-anchor="middle" fill="#000" font-weight="bold" stroke="#000" stroke-width="0.1">2018</text>
<rect x="196.4" y="66" width="29.3" height="18.2" fill="#fff" stroke="#333" stroke-width="1"/>
<text x="211.05" y="77.96" font-size="8" text-anchor="middle" fill="#e2b39e" font-weight="bold" stroke="#e2b39e" stroke-width="0.1">T1</text>
<rect x="228.2" y="66" width="28.1" height="18.2" fill="#fff" stroke="#333" stroke-width="1"/>
<text x="242.25" y="77.96" font-size="8" text-anchor="middle" fill="#c98079" font-weight="bold" stroke="#c98079" stroke-width="0.1">T2</text>
<rect x="258.4" y="66" width="28.4" height="18.2" fill="#fff" stroke="#333" stroke-width="1"/>
<text x="272.6" y="77.96" font-size="8" text-anchor="middle" fill="#e0505a" font-weight="bold" stroke="#e0505a" stroke-width="0.1">T3</text>
<text x="103.2" y="123" font-size="8" text-anchor="middle" fill="#000" stroke="#000" stroke-width="0.2">Advantage</text>
<text x="103.2" y="132.5" font-size="8" text-anchor="middle" fill="#000" stroke="#000" stroke-width="0.2">for girls</text>
<line x1="90" y1="143.7" x2="116.8" y2="143.7" stroke="#000" stroke-width="1.4"/>
<path d="M85,143.7 L91.5,140.3 L91.5,147.1 Z" fill="#000" stroke="none" stroke-width="1"/>
<text x="245.2" y="123" font-size="8" text-anchor="middle" fill="#000" stroke="#000" stroke-width="0.2">Advantage</text>
<text x="245.2" y="132.5" font-size="8" text-anchor="middle" fill="#000" stroke="#000" stroke-width="0.2">for boys</text>
<line x1="228.4" y1="143.7" x2="256" y2="143.7" stroke="#000" stroke-width="1.4"/>
<path d="M261.4,143.7 L254.9,147.1 L254.9,140.3 Z" fill="#000" stroke="none" stroke-width="1"/>
<line x1="348.25" y1="124.5" x2="348.25" y2="203" stroke="#f5f5f5" stroke-width="0.6"/>
<line x1="359.8" y1="124.5" x2="359.8" y2="203" stroke="#eeeeee" stroke-width="0.6"/>
<line x1="371.35" y1="124.5" x2="371.35" y2="203" stroke="#f5f5f5" stroke-width="0.6"/>
<line x1="382.9" y1="124.5" x2="382.9" y2="203" stroke="#eeeeee" stroke-width="0.6"/>
<line x1="394.45" y1="124.5" x2="394.45" y2="203" stroke="#f5f5f5" stroke-width="0.6"/>
<line x1="406" y1="124.5" x2="406" y2="203" stroke="#eeeeee" stroke-width="0.6"/>
<line x1="417.55" y1="124.5" x2="417.55" y2="203" stroke="#f5f5f5" stroke-width="0.6"/>
<line x1="429.1" y1="124.5" x2="429.1" y2="203" stroke="#eeeeee" stroke-width="0.6"/>
<line x1="339.2" y1="201.3" x2="437.5" y2="201.3" stroke="#eeeeee" stroke-width="0.6"/>
<line x1="339.2" y1="192.6" x2="437.5" y2="192.6" stroke="#f5f5f5" stroke-width="0.6"/>
<line x1="339.2" y1="183.9" x2="437.5" y2="183.9" stroke="#eeeeee" stroke-width="0.6"/>
<line x1="339.2" y1="175.2" x2="437.5" y2="175.2" stroke="#f5f5f5" stroke-width="0.6"/>
<line x1="339.2" y1="166.5" x2="437.5" y2="166.5" stroke="#eeeeee" stroke-width="0.6"/>
<line x1="339.2" y1="157.8" x2="437.5" y2="157.8" stroke="#f5f5f5" stroke-width="0.6"/>
<line x1="339.2" y1="149.1" x2="437.5" y2="149.1" stroke="#eeeeee" stroke-width="0.6"/>
<line x1="339.2" y1="140.4" x2="437.5" y2="140.4" stroke="#f5f5f5" stroke-width="0.6"/>
<line x1="339.2" y1="131.7" x2="437.5" y2="131.7" stroke="#eeeeee" stroke-width="0.6"/>
<path d="M355.18,201.3 L355.41,201.3 L355.64,201.3 L355.87,201.3 L356.1,201.3 L356.33,201.3 L356.57,201.3 L356.8,201.3 L357.03,201.3 L357.26,201.3 L357.49,201.3 L357.72,201.3 L357.95,201.3 L358.18,201.3 L358.41,201.3 L358.64,201.3 L358.88,201.3 L359.11,201.3 L359.34,201.3 L359.57,201.3 L359.8,201.3 L360.03,201.3 L360.26,201.3 L360.49,201.3 L360.72,201.29 L360.95,201.29 L361.19,201.29 L361.42,201.29 L361.65,201.29 L361.88,201.29 L362.11,201.29 L362.34,201.28 L362.57,201.28 L362.8,201.28 L363.03,201.28 L363.26,201.27 L363.5,201.27 L363.73,201.26 L363.96,201.26 L364.19,201.25 L364.42,201.25 L364.65,201.24 L364.88,201.23 L365.11,201.22 L365.34,201.21 L365.57,201.19 L365.81,201.18 L366.04,201.16 L366.27,201.15 L366.5,201.12 L366.73,201.1 L366.96,201.08 L367.19,201.05 L367.42,201.01 L367.65,200.98 L367.88,200.94 L368.12,200.89 L368.35,200.85 L368.58,200.79 L368.81,200.73 L369.04,200.66 L369.27,200.59 L369.5,200.51 L369.73,200.42 L369.96,200.32 L370.19,200.21 L370.43,200.09 L370.66,199.96 L370.89,199.82 L371.12,199.67 L371.35,199.5 L371.58,199.32 L371.81,199.12 L372.04,198.9 L372.27,198.67 L372.5,198.41 L372.74,198.14 L372.97,197.84 L373.2,197.53 L373.43,197.18 L373.66,196.82 L373.89,196.42 L374.12,196 L374.35,195.55 L374.58,195.07 L374.81,194.56 L375.05,194.01 L375.28,193.43 L375.51,192.81 L375.74,192.16 L375.97,191.47 L376.2,190.75 L376.43,189.98 L376.66,189.17 L376.89,188.32 L377.12,187.43 L377.36,186.5 L377.59,185.53 L377.82,184.51 L378.05,183.45 L378.28,182.35 L378.51,181.2 L378.74,180.02 L378.97,178.79 L379.2,177.52 L379.44,176.21 L379.67,174.86 L379.9,173.48 L380.13,172.06 L380.36,170.61 L380.59,169.12 L380.82,167.61 L381.05,166.07 L381.28,164.51 L381.51,162.93 L381.75,161.33 L381.98,159.72 L382.21,158.1 L382.44,156.47 L382.67,154.84 L382.9,153.21 L383.13,151.59 L383.36,149.98 L383.59,148.39 L383.82,146.81 L384.05,145.26 L384.29,143.74 L384.52,142.25 L384.75,140.8 L384.98,139.4 L385.21,138.04 L385.44,136.74 L385.67,135.49 L385.9,134.3 L386.13,133.18 L386.37,132.13 L386.6,131.15 L386.83,130.25 L387.06,129.43 L387.29,128.7 L387.52,128.05 L387.75,127.48 L387.98,127.01 L388.21,126.63 L388.44,126.34 L388.67,126.15 L388.91,126.06 L389.14,126.06 L389.37,126.14 L389.6,126.31 L389.83,126.56 L390.06,126.89 L390.29,127.3 L390.52,127.79 L390.75,128.36 L390.98,129.01 L391.22,129.73 L391.45,130.52 L391.68,131.38 L391.91,132.3 L392.14,133.29 L392.37,134.34 L392.6,135.45 L392.83,136.61 L393.06,137.82 L393.29,139.08 L393.53,140.38 L393.76,141.71 L393.99,143.09 L394.22,144.49 L394.45,145.93 L394.68,147.38 L394.91,148.86 L395.14,150.36 L395.37,151.86 L395.6,153.38 L395.84,154.89 L396.07,156.42 L396.3,157.94 L396.53,159.45 L396.76,160.96 L396.99,162.45 L397.22,163.93 L397.45,165.4 L397.68,166.85 L397.91,168.27 L398.15,169.67 L398.38,171.05 L398.61,172.39 L398.84,173.71 L399.07,175 L399.3,176.25 L399.53,177.47 L399.76,178.66 L399.99,179.81 L400.22,180.93 L400.46,182.01 L400.69,183.05 L400.92,184.06 L401.15,185.02 L401.38,185.96 L401.61,186.85 L401.84,187.71 L402.07,188.53 L402.3,189.31 L402.53,190.06 L402.77,190.77 L403,191.45 L403.23,192.1 L403.46,192.71 L403.69,193.29 L403.92,193.84 L404.15,194.36 L404.38,194.85 L404.61,195.31 L404.84,195.75 L405.08,196.16 L405.31,196.54 L405.54,196.9 L405.77,197.24 L406,197.56 L406.23,197.85 L406.46,198.13 L406.69,198.39 L406.92,198.62 L407.15,198.85 L407.39,199.05 L407.62,199.24 L407.85,199.42 L408.08,199.58 L408.31,199.74 L408.54,199.88 L408.77,200 L409,200.12 L409.23,200.23 L409.46,200.33 L409.7,200.42 L409.93,200.5 L410.16,200.58 L410.39,200.65 L410.62,200.71 L410.85,200.77 L411.08,200.83 L411.31,200.87 L411.54,200.92 L411.77,200.96 L412.01,200.99 L412.24,201.02 L412.47,201.05 L412.7,201.08 L412.93,201.1 L413.16,201.13 L413.39,201.14 L413.62,201.16 L413.85,201.18 L414.08,201.19 L414.32,201.2 L414.55,201.21 L414.78,201.22 L415.01,201.23 L415.24,201.24 L415.47,201.25 L415.7,201.25 L415.93,201.26 L416.16,201.26 L416.39,201.27 L416.63,201.27 L416.86,201.28 L417.09,201.28 L417.32,201.28 L417.55,201.28 L417.78,201.29 L418.01,201.29 L418.24,201.29 L418.47,201.29 L418.7,201.29 L418.94,201.29 L419.17,201.29 L419.4,201.29 L419.63,201.3 L419.86,201.3 L420.09,201.3 L420.32,201.3 L420.55,201.3 L420.78,201.3 L421.01,201.3 L421.25,201.3 L421.48,201.3 L421.71,201.3 L421.94,201.3 L422.17,201.3 L422.4,201.3 L422.63,201.3 L422.86,201.3 L423.09,201.3 L423.32,201.3 L423.56,201.3 L423.79,201.3 L424.02,201.3 L424.25,201.3 L424.48,201.3 L424.48,201.3 L355.18,201.3 Z" fill="#b86a64" stroke="none" stroke-width="1"/>
<path d="M355.18,201.3 L355.41,201.3 L355.64,201.3 L355.87,201.3 L356.1,201.3 L356.33,201.3 L356.57,201.3 L356.8,201.3 L357.03,201.3 L357.26,201.3 L357.49,201.3 L357.72,201.3 L357.95,201.3 L358.18,201.3 L358.41,201.3 L358.64,201.3 L358.88,201.3 L359.11,201.3 L359.34,201.3 L359.57,201.3 L359.8,201.3 L360.03,201.3 L360.26,201.3 L360.49,201.3 L360.72,201.29 L360.95,201.29 L361.19,201.29 L361.42,201.29 L361.65,201.29 L361.88,201.29 L362.11,201.29 L362.34,201.29 L362.57,201.28 L362.8,201.28 L363.03,201.28 L363.26,201.27 L363.5,201.27 L363.73,201.27 L363.96,201.26 L364.19,201.26 L364.42,201.25 L364.65,201.24 L364.88,201.24 L365.11,201.23 L365.34,201.22 L365.57,201.21 L365.81,201.2 L366.04,201.18 L366.27,201.17 L366.5,201.15 L366.73,201.13 L366.96,201.11 L367.19,201.09 L367.42,201.07 L367.65,201.04 L367.88,201.01 L368.12,200.97 L368.35,200.94 L368.58,200.9 L368.81,200.85 L369.04,200.8 L369.27,200.75 L369.5,200.68 L369.73,200.62 L369.96,200.55 L370.19,200.47 L370.43,200.38 L370.66,200.29 L370.89,200.18 L371.12,200.07 L371.35,199.95 L371.58,199.82 L371.81,199.67 L372.04,199.52 L372.27,199.35 L372.5,199.17 L372.74,198.97 L372.97,198.76 L373.2,198.54 L373.43,198.29 L373.66,198.03 L373.89,197.75 L374.12,197.45 L374.35,197.13 L374.58,196.79 L374.81,196.43 L375.05,196.04 L375.28,195.62 L375.51,195.19 L375.74,194.72 L375.97,194.23 L376.2,193.71 L376.43,193.16 L376.66,192.57 L376.89,191.96 L377.12,191.32 L377.36,190.64 L377.59,189.93 L377.82,189.19 L378.05,188.41 L378.28,187.6 L378.51,186.75 L378.74,185.87 L378.97,184.95 L379.2,184 L379.44,183.01 L379.67,181.99 L379.9,180.93 L380.13,179.84 L380.36,178.71 L380.59,177.56 L380.82,176.37 L381.05,175.15 L381.28,173.9 L381.51,172.62 L381.75,171.32 L381.98,169.99 L382.21,168.64 L382.44,167.27 L382.67,165.88 L382.9,164.47 L383.13,163.06 L383.36,161.63 L383.59,160.19 L383.82,158.75 L384.05,157.31 L384.29,155.87 L384.52,154.43 L384.75,153.01 L384.98,151.59 L385.21,150.19 L385.44,148.81 L385.67,147.45 L385.9,146.12 L386.13,144.81 L386.37,143.55 L386.6,142.31 L386.83,141.12 L387.06,139.97 L387.29,138.87 L387.52,137.82 L387.75,136.83 L387.98,135.89 L388.21,135.01 L388.44,134.2 L388.67,133.45 L388.91,132.77 L389.14,132.15 L389.37,131.62 L389.6,131.15 L389.83,130.76 L390.06,130.44 L390.29,130.21 L390.52,130.05 L390.75,129.97 L390.98,129.97 L391.22,130.05 L391.45,130.21 L391.68,130.44 L391.91,130.76 L392.14,131.15 L392.37,131.62 L392.6,132.15 L392.83,132.77 L393.06,133.45 L393.29,134.2 L393.53,135.01 L393.76,135.89 L393.99,136.83 L394.22,137.82 L394.45,138.87 L394.68,139.97 L394.91,141.12 L395.14,142.31 L395.37,143.55 L395.6,144.81 L395.84,146.12 L396.07,147.45 L396.3,148.81 L396.53,150.19 L396.76,151.59 L396.99,153.01 L397.22,154.43 L397.45,155.87 L397.68,157.31 L397.91,158.75 L398.15,160.19 L398.38,161.63 L398.61,163.06 L398.84,164.47 L399.07,165.88 L399.3,167.27 L399.53,168.64 L399.76,169.99 L399.99,171.32 L400.22,172.62 L400.46,173.9 L400.69,175.15 L400.92,176.37 L401.15,177.56 L401.38,178.71 L401.61,179.84 L401.84,180.93 L402.07,181.99 L402.3,183.01 L402.53,184 L402.77,184.95 L403,185.87 L403.23,186.75 L403.46,187.6 L403.69,188.41 L403.92,189.19 L404.15,189.93 L404.38,190.64 L404.61,191.32 L404.84,191.96 L405.08,192.57 L405.31,193.16 L405.54,193.71 L405.77,194.23 L406,194.72 L406.23,195.19 L406.46,195.62 L406.69,196.04 L406.92,196.43 L407.15,196.79 L407.39,197.13 L407.62,197.45 L407.85,197.75 L408.08,198.03 L408.31,198.29 L408.54,198.54 L408.77,198.76 L409,198.97 L409.23,199.17 L409.46,199.35 L409.7,199.52 L409.93,199.67 L410.16,199.82 L410.39,199.95 L410.62,200.07 L410.85,200.18 L411.08,200.29 L411.31,200.38 L411.54,200.47 L411.77,200.55 L412.01,200.62 L412.24,200.68 L412.47,200.75 L412.7,200.8 L412.93,200.85 L413.16,200.9 L413.39,200.94 L413.62,200.97 L413.85,201.01 L414.08,201.04 L414.32,201.07 L414.55,201.09 L414.78,201.11 L415.01,201.13 L415.24,201.15 L415.47,201.17 L415.7,201.18 L415.93,201.2 L416.16,201.21 L416.39,201.22 L416.63,201.23 L416.86,201.24 L417.09,201.24 L417.32,201.25 L417.55,201.26 L417.78,201.26 L418.01,201.27 L418.24,201.27 L418.47,201.27 L418.7,201.28 L418.94,201.28 L419.17,201.28 L419.4,201.29 L419.63,201.29 L419.86,201.29 L420.09,201.29 L420.32,201.29 L420.55,201.29 L420.78,201.29 L421.01,201.29 L421.25,201.3 L421.48,201.3 L421.71,201.3 L421.94,201.3 L422.17,201.3 L422.4,201.3 L422.63,201.3 L422.86,201.3 L423.09,201.3 L423.32,201.3 L423.56,201.3 L423.79,201.3 L424.02,201.3 L424.25,201.3 L424.48,201.3 L424.48,201.3 L355.18,201.3 Z" fill="#e88a8a" stroke="none" stroke-width="1"/>
<path d="M355.18,201.3 L355.41,201.3 L355.64,201.3 L355.87,201.3 L356.1,201.3 L356.33,201.3 L356.57,201.3 L356.8,201.3 L357.03,201.3 L357.26,201.3 L357.49,201.3 L357.72,201.3 L357.95,201.3 L358.18,201.3 L358.41,201.3 L358.64,201.3 L358.88,201.3 L359.11,201.3 L359.34,201.3 L359.57,201.3 L359.8,201.3 L360.03,201.3 L360.26,201.3 L360.49,201.3 L360.72,201.29 L360.95,201.29 L361.19,201.29 L361.42,201.29 L361.65,201.29 L361.88,201.29 L362.11,201.29 L362.34,201.29 L362.57,201.28 L362.8,201.28 L363.03,201.28 L363.26,201.27 L363.5,201.27 L363.73,201.27 L363.96,201.26 L364.19,201.26 L364.42,201.25 L364.65,201.24 L364.88,201.24 L365.11,201.23 L365.34,201.22 L365.57,201.21 L365.81,201.2 L366.04,201.18 L366.27,201.17 L366.5,201.15 L366.73,201.13 L366.96,201.11 L367.19,201.09 L367.42,201.07 L367.65,201.04 L367.88,201.01 L368.12,200.97 L368.35,200.94 L368.58,200.9 L368.81,200.85 L369.04,200.8 L369.27,200.75 L369.5,200.68 L369.73,200.62 L369.96,200.55 L370.19,200.47 L370.43,200.38 L370.66,200.29 L370.89,200.18 L371.12,200.07 L371.35,199.95 L371.58,199.82 L371.81,199.67 L372.04,199.52 L372.27,199.35 L372.5,199.17 L372.74,198.97 L372.97,198.76 L373.2,198.54 L373.43,198.29 L373.66,198.03 L373.89,197.75 L374.12,197.45 L374.35,197.13 L374.58,196.79 L374.81,196.43 L375.05,196.04 L375.28,195.62 L375.51,195.19 L375.74,194.72 L375.97,194.23 L376.2,193.71 L376.43,193.16 L376.66,192.57 L376.89,191.96 L377.12,191.32 L377.36,190.64 L377.59,189.93 L377.82,189.19 L378.05,188.41 L378.28,187.6 L378.51,186.75 L378.74,185.87 L378.97,184.95 L379.2,184 L379.44,183.01 L379.67,181.99 L379.9,180.93 L380.13,179.84 L380.36,178.71 L380.59,177.56 L380.82,176.37 L381.05,175.15 L381.28,173.9 L381.51,172.62 L381.75,171.32 L381.98,169.99 L382.21,168.64 L382.44,167.27 L382.67,165.88 L382.9,164.47 L383.13,163.06 L383.36,161.63 L383.59,160.19 L383.82,158.75 L384.05,157.31 L384.29,155.87 L384.52,154.43 L384.75,153.01 L384.98,151.59 L385.21,150.19 L385.44,148.81 L385.67,147.45 L385.9,146.12 L386.13,144.81 L386.37,143.55 L386.6,142.31 L386.83,141.12 L387.06,139.97 L387.29,138.87 L387.52,137.82 L387.75,136.83 L387.98,135.89 L388.21,135.01 L388.44,134.2 L388.67,133.45 L388.91,132.77 L389.14,132.15 L389.37,131.62 L389.6,131.15 L389.83,130.76 L390.06,130.44 L390.29,130.21 L390.52,130.05 L390.75,129.97 L390.98,129.97 L391.22,130.05 L391.45,130.52 L391.68,131.38 L391.91,132.3 L392.14,133.29 L392.37,134.34 L392.6,135.45 L392.83,136.61 L393.06,137.82 L393.29,139.08 L393.53,140.38 L393.76,141.71 L393.99,143.09 L394.22,144.49 L394.45,145.93 L394.68,147.38 L394.91,148.86 L395.14,150.36 L395.37,151.86 L395.6,153.38 L395.84,154.89 L396.07,156.42 L396.3,157.94 L396.53,159.45 L396.76,160.96 L396.99,162.45 L397.22,163.93 L397.45,165.4 L397.68,166.85 L397.91,168.27 L398.15,169.67 L398.38,171.05 L398.61,172.39 L398.84,173.71 L399.07,175 L399.3,176.25 L399.53,177.47 L399.76,178.66 L399.99,179.81 L400.22,180.93 L400.46,182.01 L400.69,183.05 L400.92,184.06 L401.15,185.02 L401.38,185.96 L401.61,186.85 L401.84,187.71 L402.07,188.53 L402.3,189.31 L402.53,190.06 L402.77,190.77 L403,191.45 L403.23,192.1 L403.46,192.71 L403.69,193.29 L403.92,193.84 L404.15,194.36 L404.38,194.85 L404.61,195.31 L404.84,195.75 L405.08,196.16 L405.31,196.54 L405.54,196.9 L405.77,197.24 L406,197.56 L406.23,197.85 L406.46,198.13 L406.69,198.39 L406.92,198.62 L407.15,198.85 L407.39,199.05 L407.62,199.24 L407.85,199.42 L408.08,199.58 L408.31,199.74 L408.54,199.88 L408.77,200 L409,200.12 L409.23,200.23 L409.46,200.33 L409.7,200.42 L409.93,200.5 L410.16,200.58 L410.39,200.65 L410.62,200.71 L410.85,200.77 L411.08,200.83 L411.31,200.87 L411.54,200.92 L411.77,200.96 L412.01,200.99 L412.24,201.02 L412.47,201.05 L412.7,201.08 L412.93,201.1 L413.16,201.13 L413.39,201.14 L413.62,201.16 L413.85,201.18 L414.08,201.19 L414.32,201.2 L414.55,201.21 L414.78,201.22 L415.01,201.23 L415.24,201.24 L415.47,201.25 L415.7,201.25 L415.93,201.26 L416.16,201.26 L416.39,201.27 L416.63,201.27 L416.86,201.28 L417.09,201.28 L417.32,201.28 L417.55,201.28 L417.78,201.29 L418.01,201.29 L418.24,201.29 L418.47,201.29 L418.7,201.29 L418.94,201.29 L419.17,201.29 L419.4,201.29 L419.63,201.3 L419.86,201.3 L420.09,201.3 L420.32,201.3 L420.55,201.3 L420.78,201.3 L421.01,201.3 L421.25,201.3 L421.48,201.3 L421.71,201.3 L421.94,201.3 L422.17,201.3 L422.4,201.3 L422.63,201.3 L422.86,201.3 L423.09,201.3 L423.32,201.3 L423.56,201.3 L423.79,201.3 L424.02,201.3 L424.25,201.3 L424.48,201.3 L424.48,201.3 L355.18,201.3 Z" fill="#dd4848" stroke="none" stroke-width="1"/>
<path d="M355.18,201.3 L355.41,201.3 L355.64,201.3 L355.87,201.3 L356.1,201.3 L356.33,201.3 L356.57,201.3 L356.8,201.3 L357.03,201.3 L357.26,201.3 L357.49,201.3 L357.72,201.3 L357.95,201.3 L358.18,201.3 L358.41,201.3 L358.64,201.3 L358.88,201.3 L359.11,201.3 L359.34,201.3 L359.57,201.3 L359.8,201.3 L360.03,201.3 L360.26,201.3 L360.49,201.3 L360.72,201.29 L360.95,201.29 L361.19,201.29 L361.42,201.29 L361.65,201.29 L361.88,201.29 L362.11,201.29 L362.34,201.28 L362.57,201.28 L362.8,201.28 L363.03,201.28 L363.26,201.27 L363.5,201.27 L363.73,201.26 L363.96,201.26 L364.19,201.25 L364.42,201.25 L364.65,201.24 L364.88,201.23 L365.11,201.22 L365.34,201.21 L365.57,201.19 L365.81,201.18 L366.04,201.16 L366.27,201.15 L366.5,201.12 L366.73,201.1 L366.96,201.08 L367.19,201.05 L367.42,201.01 L367.65,200.98 L367.88,200.94 L368.12,200.89 L368.35,200.85 L368.58,200.79 L368.81,200.73 L369.04,200.66 L369.27,200.59 L369.5,200.51 L369.73,200.42 L369.96,200.32 L370.19,200.21 L370.43,200.09 L370.66,199.96 L370.89,199.82 L371.12,199.67 L371.35,199.5 L371.58,199.32 L371.81,199.12 L372.04,198.9 L372.27,198.67 L372.5,198.41 L372.74,198.14 L372.97,197.84 L373.2,197.53 L373.43,197.18 L373.66,196.82 L373.89,196.42 L374.12,196 L374.35,195.55 L374.58,195.07 L374.81,194.56 L375.05,194.01 L375.28,193.43 L375.51,192.81 L375.74,192.16 L375.97,191.47 L376.2,190.75 L376.43,189.98 L376.66,189.17 L376.89,188.32 L377.12,187.43 L377.36,186.5 L377.59,185.53 L377.82,184.51 L378.05,183.45 L378.28,182.35 L378.51,181.2 L378.74,180.02 L378.97,178.79 L379.2,177.52 L379.44,176.21 L379.67,174.86 L379.9,173.48 L380.13,172.06 L380.36,170.61 L380.59,169.12 L380.82,167.61 L381.05,166.07 L381.28,164.51 L381.51,162.93 L381.75,161.33 L381.98,159.72 L382.21,158.1 L382.44,156.47 L382.67,154.84 L382.9,153.21 L383.13,151.59 L383.36,149.98 L383.59,148.39 L383.82,146.81 L384.05,145.26 L384.29,143.74 L384.52,142.25 L384.75,140.8 L384.98,139.4 L385.21,138.04 L385.44,136.74 L385.67,135.49 L385.9,134.3 L386.13,133.18 L386.37,132.13 L386.6,131.15 L386.83,130.25 L387.06,129.43 L387.29,128.7 L387.52,128.05 L387.75,127.48 L387.98,127.01 L388.21,126.63 L388.44,126.34 L388.67,126.15 L388.91,126.06 L389.14,126.06 L389.37,126.14 L389.6,126.31 L389.83,126.56 L390.06,126.89 L390.29,127.3 L390.52,127.79 L390.75,128.36 L390.98,129.01 L391.22,129.73 L391.45,130.52 L391.68,131.38 L391.91,132.3 L392.14,133.29 L392.37,134.34 L392.6,135.45 L392.83,136.61 L393.06,137.82 L393.29,139.08 L393.53,140.38 L393.76,141.71 L393.99,143.09 L394.22,144.49 L394.45,145.93 L394.68,147.38 L394.91,148.86 L395.14,150.36 L395.37,151.86 L395.6,153.38 L395.84,154.89 L396.07,156.42 L396.3,157.94 L396.53,159.45 L396.76,160.96 L396.99,162.45 L397.22,163.93 L397.45,165.4 L397.68,166.85 L397.91,168.27 L398.15,169.67 L398.38,171.05 L398.61,172.39 L398.84,173.71 L399.07,175 L399.3,176.25 L399.53,177.47 L399.76,178.66 L399.99,179.81 L400.22,180.93 L400.46,182.01 L400.69,183.05 L400.92,184.06 L401.15,185.02 L401.38,185.96 L401.61,186.85 L401.84,187.71 L402.07,188.53 L402.3,189.31 L402.53,190.06 L402.77,190.77 L403,191.45 L403.23,192.1 L403.46,192.71 L403.69,193.29 L403.92,193.84 L404.15,194.36 L404.38,194.85 L404.61,195.31 L404.84,195.75 L405.08,196.16 L405.31,196.54 L405.54,196.9 L405.77,197.24 L406,197.56 L406.23,197.85 L406.46,198.13 L406.69,198.39 L406.92,198.62 L407.15,198.85 L407.39,199.05 L407.62,199.24 L407.85,199.42 L408.08,199.58 L408.31,199.74 L408.54,199.88 L408.77,200 L409,200.12 L409.23,200.23 L409.46,200.33 L409.7,200.42 L409.93,200.5 L410.16,200.58 L410.39,200.65 L410.62,200.71 L410.85,200.77 L411.08,200.83 L411.31,200.87 L411.54,200.92 L411.77,200.96 L412.01,200.99 L412.24,201.02 L412.47,201.05 L412.7,201.08 L412.93,201.1 L413.16,201.13 L413.39,201.14 L413.62,201.16 L413.85,201.18 L414.08,201.19 L414.32,201.2 L414.55,201.21 L414.78,201.22 L415.01,201.23 L415.24,201.24 L415.47,201.25 L415.7,201.25 L415.93,201.26 L416.16,201.26 L416.39,201.27 L416.63,201.27 L416.86,201.28 L417.09,201.28 L417.32,201.28 L417.55,201.28 L417.78,201.29 L418.01,201.29 L418.24,201.29 L418.47,201.29 L418.7,201.29 L418.94,201.29 L419.17,201.29 L419.4,201.29 L419.63,201.3 L419.86,201.3 L420.09,201.3 L420.32,201.3 L420.55,201.3 L420.78,201.3 L421.01,201.3 L421.25,201.3 L421.48,201.3 L421.71,201.3 L421.94,201.3 L422.17,201.3 L422.4,201.3 L422.63,201.3 L422.86,201.3 L423.09,201.3 L423.32,201.3 L423.56,201.3 L423.79,201.3 L424.02,201.3 L424.25,201.3 L424.48,201.3" fill="none" stroke="#444" stroke-width="0.6"/>
<path d="M355.18,201.3 L355.41,201.3 L355.64,201.3 L355.87,201.3 L356.1,201.3 L356.33,201.3 L356.57,201.3 L356.8,201.3 L357.03,201.3 L357.26,201.3 L357.49,201.3 L357.72,201.3 L357.95,201.3 L358.18,201.3 L358.41,201.3 L358.64,201.3 L358.88,201.3 L359.11,201.3 L359.34,201.3 L359.57,201.3 L359.8,201.3 L360.03,201.3 L360.26,201.3 L360.49,201.29 L360.72,201.29 L360.95,201.29 L361.19,201.29 L361.42,201.29 L361.65,201.29 L361.88,201.29 L362.11,201.28 L362.34,201.28 L362.57,201.28 L362.8,201.28 L363.03,201.27 L363.26,201.27 L363.5,201.27 L363.73,201.26 L363.96,201.25 L364.19,201.25 L364.42,201.24 L364.65,201.23 L364.88,201.22 L365.11,201.21 L365.34,201.2 L365.57,201.19 L365.81,201.17 L366.04,201.16 L366.27,201.14 L366.5,201.12 L366.73,201.09 L366.96,201.07 L367.19,201.04 L367.42,201.01 L367.65,200.97 L367.88,200.93 L368.12,200.89 L368.35,200.84 L368.58,200.79 L368.81,200.73 L369.04,200.67 L369.27,200.6 L369.5,200.52 L369.73,200.44 L369.96,200.34 L370.19,200.24 L370.43,200.13 L370.66,200.01 L370.89,199.87 L371.12,199.73 L371.35,199.57 L371.58,199.4 L371.81,199.22 L372.04,199.02 L372.27,198.8 L372.5,198.57 L372.74,198.32 L372.97,198.05 L373.2,197.76 L373.43,197.45 L373.66,197.11 L373.89,196.76 L374.12,196.37 L374.35,195.97 L374.58,195.53 L374.81,195.07 L375.05,194.57 L375.28,194.05 L375.51,193.5 L375.74,192.91 L375.97,192.29 L376.2,191.63 L376.43,190.94 L376.66,190.22 L376.89,189.45 L377.12,188.65 L377.36,187.81 L377.59,186.94 L377.82,186.02 L378.05,185.06 L378.28,184.07 L378.51,183.04 L378.74,181.96 L378.97,180.85 L379.2,179.7 L379.44,178.52 L379.67,177.29 L379.9,176.03 L380.13,174.74 L380.36,173.41 L380.59,172.05 L380.82,170.66 L381.05,169.25 L381.28,167.81 L381.51,166.34 L381.75,164.86 L381.98,163.35 L382.21,161.83 L382.44,160.3 L382.67,158.76 L382.9,157.22 L383.13,155.67 L383.36,154.13 L383.59,152.59 L383.82,151.06 L384.05,149.54 L384.29,148.05 L384.52,146.57 L384.75,145.12 L384.98,143.7 L385.21,142.31 L385.44,140.97 L385.67,139.66 L385.9,138.4 L386.13,137.19 L386.37,136.04 L386.6,134.94 L386.83,133.91 L387.06,132.94 L387.29,132.04 L387.52,131.21 L387.75,130.46 L387.98,129.78 L388.21,129.18 L388.44,128.67 L388.67,128.23 L388.91,127.89 L389.14,127.62 L389.37,127.45 L389.6,127.36 L389.83,127.36 L390.06,127.44 L390.29,127.61 L390.52,127.85 L390.75,128.18 L390.98,128.58 L391.22,129.07 L391.45,129.63 L391.68,130.26 L391.91,130.97 L392.14,131.74 L392.37,132.59 L392.6,133.5 L392.83,134.47 L393.06,135.5 L393.29,136.59 L393.53,137.73 L393.76,138.92 L393.99,140.15 L394.22,141.43 L394.45,142.75 L394.68,144.1 L394.91,145.48 L395.14,146.89 L395.37,148.32 L395.6,149.77 L395.84,151.24 L396.07,152.72 L396.3,154.21 L396.53,155.7 L396.76,157.19 L396.99,158.69 L397.22,160.18 L397.45,161.66 L397.68,163.13 L397.91,164.58 L398.15,166.02 L398.38,167.44 L398.61,168.84 L398.84,170.22 L399.07,171.57 L399.3,172.89 L399.53,174.19 L399.76,175.45 L399.99,176.69 L400.22,177.89 L400.46,179.05 L400.69,180.19 L400.92,181.28 L401.15,182.34 L401.38,183.37 L401.61,184.36 L401.84,185.31 L402.07,186.22 L402.3,187.1 L402.53,187.94 L402.77,188.75 L403,189.52 L403.23,190.25 L403.46,190.95 L403.69,191.62 L403.92,192.26 L404.15,192.86 L404.38,193.43 L404.61,193.97 L404.84,194.48 L405.08,194.96 L405.31,195.42 L405.54,195.84 L405.77,196.25 L406,196.63 L406.23,196.98 L406.46,197.31 L406.69,197.62 L406.92,197.91 L407.15,198.18 L407.39,198.44 L407.62,198.67 L407.85,198.89 L408.08,199.09 L408.31,199.28 L408.54,199.45 L408.77,199.61 L409,199.76 L409.23,199.9 L409.46,200.03 L409.7,200.14 L409.93,200.25 L410.16,200.35 L410.39,200.44 L410.62,200.52 L410.85,200.59 L411.08,200.66 L411.31,200.73 L411.54,200.78 L411.77,200.83 L412.01,200.88 L412.24,200.92 L412.47,200.96 L412.7,201 L412.93,201.03 L413.16,201.06 L413.39,201.08 L413.62,201.11 L413.85,201.13 L414.08,201.15 L414.32,201.16 L414.55,201.18 L414.78,201.19 L415.01,201.21 L415.24,201.22 L415.47,201.23 L415.7,201.23 L415.93,201.24 L416.16,201.25 L416.39,201.26 L416.63,201.26 L416.86,201.27 L417.09,201.27 L417.32,201.27 L417.55,201.28 L417.78,201.28 L418.01,201.28 L418.24,201.28 L418.47,201.29 L418.7,201.29 L418.94,201.29 L419.17,201.29 L419.4,201.29 L419.63,201.29 L419.86,201.29 L420.09,201.3 L420.32,201.3 L420.55,201.3 L420.78,201.3 L421.01,201.3 L421.25,201.3 L421.48,201.3 L421.71,201.3 L421.94,201.3 L422.17,201.3 L422.4,201.3 L422.63,201.3 L422.86,201.3 L423.09,201.3 L423.32,201.3 L423.56,201.3 L423.79,201.3 L424.02,201.3 L424.25,201.3 L424.48,201.3" fill="none" stroke="#444" stroke-width="0.6"/>
<path d="M355.18,201.3 L355.41,201.3 L355.64,201.3 L355.87,201.3 L356.1,201.3 L356.33,201.3 L356.57,201.3 L356.8,201.3 L357.03,201.3 L357.26,201.3 L357.49,201.3 L357.72,201.3 L357.95,201.3 L358.18,201.3 L358.41,201.3 L358.64,201.3 L358.88,201.3 L359.11,201.3 L359.34,201.3 L359.57,201.3 L359.8,201.3 L360.03,201.3 L360.26,201.3 L360.49,201.3 L360.72,201.29 L360.95,201.29 L361.19,201.29 L361.42,201.29 L361.65,201.29 L361.88,201.29 L362.11,201.29 L362.34,201.29 L362.57,201.28 L362.8,201.28 L363.03,201.28 L363.26,201.27 L363.5,201.27 L363.73,201.27 L363.96,201.26 L364.19,201.26 L364.42,201.25 L364.65,201.24 L364.88,201.24 L365.11,201.23 L365.34,201.22 L365.57,201.21 L365.81,201.2 L366.04,201.18 L366.27,201.17 L366.5,201.15 L366.73,201.13 L366.96,201.11 L367.19,201.09 L367.42,201.07 L367.65,201.04 L367.88,201.01 L368.12,200.97 L368.35,200.94 L368.58,200.9 L368.81,200.85 L369.04,200.8 L369.27,200.75 L369.5,200.68 L369.73,200.62 L369.96,200.55 L370.19,200.47 L370.43,200.38 L370.66,200.29 L370.89,200.18 L371.12,200.07 L371.35,199.95 L371.58,199.82 L371.81,199.67 L372.04,199.52 L372.27,199.35 L372.5,199.17 L372.74,198.97 L372.97,198.76 L373.2,198.54 L373.43,198.29 L373.66,198.03 L373.89,197.75 L374.12,197.45 L374.35,197.13 L374.58,196.79 L374.81,196.43 L375.05,196.04 L375.28,195.62 L375.51,195.19 L375.74,194.72 L375.97,194.23 L376.2,193.71 L376.43,193.16 L376.66,192.57 L376.89,191.96 L377.12,191.32 L377.36,190.64 L377.59,189.93 L377.82,189.19 L378.05,188.41 L378.28,187.6 L378.51,186.75 L378.74,185.87 L378.97,184.95 L379.2,184 L379.44,183.01 L379.67,181.99 L379.9,180.93 L380.13,179.84 L380.36,178.71 L380.59,177.56 L380.82,176.37 L381.05,175.15 L381.28,173.9 L381.51,172.62 L381.75,171.32 L381.98,169.99 L382.21,168.64 L382.44,167.27 L382.67,165.88 L382.9,164.47 L383.13,163.06 L383.36,161.63 L383.59,160.19 L383.82,158.75 L384.05,157.31 L384.29,155.87 L384.52,154.43 L384.75,153.01 L384.98,151.59 L385.21,150.19 L385.44,148.81 L385.67,147.45 L385.9,146.12 L386.13,144.81 L386.37,143.55 L386.6,142.31 L386.83,141.12 L387.06,139.97 L387.29,138.87 L387.52,137.82 L387.75,136.83 L387.98,135.89 L388.21,135.01 L388.44,134.2 L388.67,133.45 L388.91,132.77 L389.14,132.15 L389.37,131.62 L389.6,131.15 L389.83,130.76 L390.06,130.44 L390.29,130.21 L390.52,130.05 L390.75,129.97 L390.98,129.97 L391.22,130.05 L391.45,130.21 L391.68,130.44 L391.91,130.76 L392.14,131.15 L392.37,131.62 L392.6,132.15 L392.83,132.77 L393.06,133.45 L393.29,134.2 L393.53,135.01 L393.76,135.89 L393.99,136.83 L394.22,137.82 L394.45,138.87 L394.68,139.97 L394.91,141.12 L395.14,142.31 L395.37,143.55 L395.6,144.81 L395.84,146.12 L396.07,147.45 L396.3,148.81 L396.53,150.19 L396.76,151.59 L396.99,153.01 L397.22,154.43 L397.45,155.87 L397.68,157.31 L397.91,158.75 L398.15,160.19 L398.38,161.63 L398.61,163.06 L398.84,164.47 L399.07,165.88 L399.3,167.27 L399.53,168.64 L399.76,169.99 L399.99,171.32 L400.22,172.62 L400.46,173.9 L400.69,175.15 L400.92,176.37 L401.15,177.56 L401.38,178.71 L401.61,179.84 L401.84,180.93 L402.07,181.99 L402.3,183.01 L402.53,184 L402.77,184.95 L403,185.87 L403.23,186.75 L403.46,187.6 L403.69,188.41 L403.92,189.19 L404.15,189.93 L404.38,190.64 L404.61,191.32 L404.84,191.96 L405.08,192.57 L405.31,193.16 L405.54,193.71 L405.77,194.23 L406,194.72 L406.23,195.19 L406.46,195.62 L406.69,196.04 L406.92,196.43 L407.15,196.79 L407.39,197.13 L407.62,197.45 L407.85,197.75 L408.08,198.03 L408.31,198.29 L408.54,198.54 L408.77,198.76 L409,198.97 L409.23,199.17 L409.46,199.35 L409.7,199.52 L409.93,199.67 L410.16,199.82 L410.39,199.95 L410.62,200.07 L410.85,200.18 L411.08,200.29 L411.31,200.38 L411.54,200.47 L411.77,200.55 L412.01,200.62 L412.24,200.68 L412.47,200.75 L412.7,200.8 L412.93,200.85 L413.16,200.9 L413.39,200.94 L413.62,200.97 L413.85,201.01 L414.08,201.04 L414.32,201.07 L414.55,201.09 L414.78,201.11 L415.01,201.13 L415.24,201.15 L415.47,201.17 L415.7,201.18 L415.93,201.2 L416.16,201.21 L416.39,201.22 L416.63,201.23 L416.86,201.24 L417.09,201.24 L417.32,201.25 L417.55,201.26 L417.78,201.26 L418.01,201.27 L418.24,201.27 L418.47,201.27 L418.7,201.28 L418.94,201.28 L419.17,201.28 L419.4,201.29 L419.63,201.29 L419.86,201.29 L420.09,201.29 L420.32,201.29 L420.55,201.29 L420.78,201.29 L421.01,201.29 L421.25,201.3 L421.48,201.3 L421.71,201.3 L421.94,201.3 L422.17,201.3 L422.4,201.3 L422.63,201.3 L422.86,201.3 L423.09,201.3 L423.32,201.3 L423.56,201.3 L423.79,201.3 L424.02,201.3 L424.25,201.3 L424.48,201.3" fill="none" stroke="#555" stroke-width="0.6"/>
<line x1="389.71" y1="122" x2="389.71" y2="203" stroke="#333" stroke-width="0.6"/>
<line x1="338.2" y1="203.3" x2="338.2" y2="125" stroke="#9a9a9a" stroke-width="0.9"/>
<line x1="338.2" y1="203.3" x2="440.5" y2="203.3" stroke="#9a9a9a" stroke-width="0.9"/>
<path d="M338.2,123.5 L339.2,125.5 L337.2,125.5 Z" fill="#9a9a9a" stroke="none" stroke-width="1"/>
<path d="M442,203.3 L440,204.3 L440,202.3 Z" fill="#9a9a9a" stroke="none" stroke-width="1"/>
<text x="335.4" y="204.14" font-size="7.1" text-anchor="end" fill="#000" stroke="#000" stroke-width="0.2">0.0</text>
<text x="335.4" y="186.74" font-size="7.1" text-anchor="end" fill="#000" stroke="#000" stroke-width="0.2">0.2</text>
<text x="335.4" y="169.34" font-size="7.1" text-anchor="end" fill="#000" stroke="#000" stroke-width="0.2">0.4</text>
<text x="335.4" y="151.94" font-size="7.1" text-anchor="end" fill="#000" stroke="#000" stroke-width="0.2">0.6</text>
<text x="335.4" y="134.54" font-size="7.1" text-anchor="end" fill="#000" stroke="#000" stroke-width="0.2">0.8</text>
<text x="336.2" y="212.44" font-size="7.1" text-anchor="middle" fill="#000" stroke="#000" stroke-width="0.2">-4</text>
<text x="359.3" y="212.44" font-size="7.1" text-anchor="middle" fill="#000" stroke="#000" stroke-width="0.2">-2</text>
<text x="382.9" y="212.44" font-size="7.1" text-anchor="middle" fill="#000" stroke="#000" stroke-width="0.2">0</text>
<text x="406" y="212.44" font-size="7.1" text-anchor="middle" fill="#000" stroke="#000" stroke-width="0.2">2</text>
<text x="429.1" y="212.44" font-size="7.1" text-anchor="middle" fill="#000" stroke="#000" stroke-width="0.2">4</text>
<text x="338.4" y="123.2" font-size="7.6" text-anchor="end" fill="#000" stroke="#000" stroke-width="0.2">Density</text>
<text x="393.5" y="103" font-size="11" text-anchor="middle" fill="#000" font-weight="bold" stroke="#000" stroke-width="0.1">2019</text>
<line x1="462.8" y1="124.5" x2="462.8" y2="203" stroke="#eeeeee" stroke-width="0.6"/>
<line x1="474.35" y1="124.5" x2="474.35" y2="203" stroke="#f5f5f5" stroke-width="0.6"/>
<line x1="485.9" y1="124.5" x2="485.9" y2="203" stroke="#eeeeee" stroke-width="0.6"/>
<line x1="497.45" y1="124.5" x2="497.45" y2="203" stroke="#f5f5f5" stroke-width="0.6"/>
<line x1="509" y1="124.5" x2="509" y2="203" stroke="#eeeeee" stroke-width="0.6"/>
<line x1="520.55" y1="124.5" x2="520.55" y2="203" stroke="#f5f5f5" stroke-width="0.6"/>
<line x1="532.1" y1="124.5" x2="532.1" y2="203" stroke="#eeeeee" stroke-width="0.6"/>
<line x1="543.65" y1="124.5" x2="543.65" y2="203" stroke="#f5f5f5" stroke-width="0.6"/>
<line x1="555.2" y1="124.5" x2="555.2" y2="203" stroke="#eeeeee" stroke-width="0.6"/>
<line x1="458.5" y1="201.3" x2="555.5" y2="201.3" stroke="#eeeeee" stroke-width="0.6"/>
<line x1="458.5" y1="192.6" x2="555.5" y2="192.6" stroke="#f5f5f5" stroke-width="0.6"/>
<line x1="458.5" y1="183.9" x2="555.5" y2="183.9" stroke="#eeeeee" stroke-width="0.6"/>
<line x1="458.5" y1="175.2" x2="555.5" y2="175.2" stroke="#f5f5f5" stroke-width="0.6"/>
<line x1="458.5" y1="166.5" x2="555.5" y2="166.5" stroke="#eeeeee" stroke-width="0.6"/>
<line x1="458.5" y1="157.8" x2="555.5" y2="157.8" stroke="#f5f5f5" stroke-width="0.6"/>
<line x1="458.5" y1="149.1" x2="555.5" y2="149.1" stroke="#eeeeee" stroke-width="0.6"/>
<line x1="458.5" y1="140.4" x2="555.5" y2="140.4" stroke="#f5f5f5" stroke-width="0.6"/>
<line x1="458.5" y1="131.7" x2="555.5" y2="131.7" stroke="#eeeeee" stroke-width="0.6"/>
<path d="M474.35,201.3 L474.58,201.3 L474.81,201.3 L475.04,201.3 L475.27,201.3 L475.5,201.3 L475.74,201.3 L475.97,201.3 L476.2,201.3 L476.43,201.3 L476.66,201.3 L476.89,201.3 L477.12,201.3 L477.35,201.3 L477.58,201.3 L477.81,201.3 L478.05,201.3 L478.28,201.3 L478.51,201.3 L478.74,201.3 L478.97,201.3 L479.2,201.3 L479.43,201.3 L479.66,201.3 L479.89,201.3 L480.12,201.29 L480.36,201.29 L480.59,201.29 L480.82,201.29 L481.05,201.29 L481.28,201.29 L481.51,201.29 L481.74,201.28 L481.97,201.28 L482.2,201.28 L482.44,201.27 L482.67,201.27 L482.9,201.27 L483.13,201.26 L483.36,201.26 L483.59,201.25 L483.82,201.24 L484.05,201.23 L484.28,201.22 L484.51,201.21 L484.75,201.2 L484.98,201.19 L485.21,201.17 L485.44,201.15 L485.67,201.14 L485.9,201.11 L486.13,201.09 L486.36,201.06 L486.59,201.03 L486.82,201 L487.06,200.96 L487.29,200.92 L487.52,200.87 L487.75,200.82 L487.98,200.76 L488.21,200.7 L488.44,200.63 L488.67,200.55 L488.9,200.46 L489.13,200.37 L489.37,200.27 L489.6,200.15 L489.83,200.03 L490.06,199.89 L490.29,199.75 L490.52,199.58 L490.75,199.41 L490.98,199.22 L491.21,199.01 L491.44,198.78 L491.68,198.54 L491.91,198.28 L492.14,197.99 L492.37,197.69 L492.6,197.36 L492.83,197 L493.06,196.62 L493.29,196.21 L493.52,195.78 L493.75,195.31 L493.99,194.82 L494.22,194.29 L494.45,193.72 L494.68,193.13 L494.91,192.49 L495.14,191.82 L495.37,191.12 L495.6,190.37 L495.83,189.58 L496.06,188.75 L496.3,187.88 L496.53,186.97 L496.76,186.02 L496.99,185.02 L497.22,183.99 L497.45,182.9 L497.68,181.78 L497.91,180.61 L498.14,179.41 L498.37,178.16 L498.61,176.87 L498.84,175.54 L499.07,174.17 L499.3,172.77 L499.53,171.34 L499.76,169.87 L499.99,168.37 L500.22,166.85 L500.45,165.3 L500.68,163.72 L500.92,162.13 L501.15,160.53 L501.38,158.91 L501.61,157.29 L501.84,155.66 L502.07,154.03 L502.3,152.4 L502.53,150.78 L502.76,149.18 L502.99,147.59 L503.23,146.03 L503.46,144.49 L503.69,142.99 L503.92,141.52 L504.15,140.09 L504.38,138.71 L504.61,137.38 L504.84,136.1 L505.07,134.89 L505.3,133.73 L505.54,132.65 L505.77,131.63 L506,130.69 L506.23,129.83 L506.46,129.05 L506.69,128.36 L506.92,127.75 L507.15,127.24 L507.38,126.81 L507.61,126.48 L507.85,126.24 L508.08,126.09 L508.31,126.05 L508.54,126.09 L508.77,126.21 L509,126.42 L509.23,126.71 L509.46,127.08 L509.69,127.54 L509.92,128.07 L510.15,128.67 L510.39,129.36 L510.62,130.11 L510.85,130.94 L511.08,131.83 L511.31,132.79 L511.54,133.81 L511.77,134.89 L512,136.02 L512.23,137.21 L512.47,138.44 L512.7,139.72 L512.93,141.04 L513.16,142.4 L513.39,143.79 L513.62,145.21 L513.85,146.65 L514.08,148.12 L514.31,149.61 L514.54,151.11 L514.77,152.62 L515.01,154.13 L515.24,155.66 L515.47,157.18 L515.7,158.69 L515.93,160.21 L516.16,161.71 L516.39,163.2 L516.62,164.67 L516.85,166.13 L517.09,167.56 L517.32,168.97 L517.55,170.36 L517.78,171.72 L518.01,173.06 L518.24,174.36 L518.47,175.63 L518.7,176.87 L518.93,178.07 L519.16,179.24 L519.39,180.38 L519.63,181.47 L519.86,182.53 L520.09,183.56 L520.32,184.55 L520.55,185.49 L520.78,186.41 L521.01,187.28 L521.24,188.12 L521.47,188.92 L521.71,189.69 L521.94,190.42 L522.17,191.12 L522.4,191.78 L522.63,192.41 L522.86,193 L523.09,193.57 L523.32,194.1 L523.55,194.61 L523.78,195.08 L524.01,195.53 L524.25,195.96 L524.48,196.35 L524.71,196.73 L524.94,197.08 L525.17,197.4 L525.4,197.71 L525.63,197.99 L525.86,198.26 L526.09,198.51 L526.33,198.74 L526.56,198.95 L526.79,199.15 L527.02,199.33 L527.25,199.5 L527.48,199.66 L527.71,199.81 L527.94,199.94 L528.17,200.06 L528.4,200.18 L528.63,200.28 L528.87,200.38 L529.1,200.46 L529.33,200.54 L529.56,200.62 L529.79,200.68 L530.02,200.74 L530.25,200.8 L530.48,200.85 L530.71,200.9 L530.95,200.94 L531.18,200.98 L531.41,201.01 L531.64,201.04 L531.87,201.07 L532.1,201.09 L532.33,201.12 L532.56,201.14 L532.79,201.15 L533.02,201.17 L533.25,201.18 L533.49,201.2 L533.72,201.21 L533.95,201.22 L534.18,201.23 L534.41,201.24 L534.64,201.24 L534.87,201.25 L535.1,201.26 L535.33,201.26 L535.57,201.27 L535.8,201.27 L536.03,201.27 L536.26,201.28 L536.49,201.28 L536.72,201.28 L536.95,201.29 L537.18,201.29 L537.41,201.29 L537.64,201.29 L537.88,201.29 L538.11,201.29 L538.34,201.29 L538.57,201.29 L538.8,201.3 L539.03,201.3 L539.26,201.3 L539.49,201.3 L539.72,201.3 L539.95,201.3 L540.18,201.3 L540.42,201.3 L540.65,201.3 L540.88,201.3 L541.11,201.3 L541.34,201.3 L541.57,201.3 L541.8,201.3 L542.03,201.3 L542.26,201.3 L542.5,201.3 L542.73,201.3 L542.96,201.3 L543.19,201.3 L543.42,201.3 L543.65,201.3 L543.88,201.3 L544.11,201.3 L544.34,201.3 L544.57,201.3 L544.81,201.3 L544.81,201.3 L474.35,201.3 Z" fill="#b86a64" stroke="none" stroke-width="1"/>
<path d="M474.35,201.3 L474.58,201.3 L474.81,201.3 L475.04,201.3 L475.27,201.3 L475.5,201.3 L475.74,201.3 L475.97,201.3 L476.2,201.3 L476.43,201.3 L476.66,201.3 L476.89,201.3 L477.12,201.3 L477.35,201.3 L477.58,201.3 L477.81,201.3 L478.05,201.3 L478.28,201.3 L478.51,201.3 L478.74,201.3 L478.97,201.3 L479.2,201.3 L479.43,201.3 L479.66,201.3 L479.89,201.29 L480.12,201.29 L480.36,201.29 L480.59,201.29 L480.82,201.29 L481.05,201.29 L481.28,201.29 L481.51,201.29 L481.74,201.28 L481.97,201.28 L482.2,201.28 L482.44,201.28 L482.67,201.27 L482.9,201.27 L483.13,201.26 L483.36,201.26 L483.59,201.25 L483.82,201.25 L484.05,201.24 L484.28,201.23 L484.51,201.22 L484.75,201.21 L484.98,201.2 L485.21,201.19 L485.44,201.18 L485.67,201.16 L485.9,201.14 L486.13,201.12 L486.36,201.1 L486.59,201.08 L486.82,201.05 L487.06,201.02 L487.29,200.99 L487.52,200.96 L487.75,200.92 L487.98,200.87 L488.21,200.83 L488.44,200.77 L488.67,200.72 L488.9,200.65 L489.13,200.58 L489.37,200.51 L489.6,200.42 L489.83,200.33 L490.06,200.24 L490.29,200.13 L490.52,200.01 L490.75,199.88 L490.98,199.75 L491.21,199.6 L491.44,199.44 L491.68,199.26 L491.91,199.07 L492.14,198.87 L492.37,198.65 L492.6,198.42 L492.83,198.17 L493.06,197.9 L493.29,197.61 L493.52,197.3 L493.75,196.96 L493.99,196.61 L494.22,196.23 L494.45,195.83 L494.68,195.41 L494.91,194.96 L495.14,194.48 L495.37,193.97 L495.6,193.43 L495.83,192.87 L496.06,192.27 L496.3,191.65 L496.53,190.99 L496.76,190.29 L496.99,189.57 L497.22,188.81 L497.45,188.01 L497.68,187.18 L497.91,186.32 L498.14,185.42 L498.37,184.48 L498.61,183.51 L498.84,182.51 L499.07,181.46 L499.3,180.39 L499.53,179.28 L499.76,178.14 L499.99,176.97 L500.22,175.76 L500.45,174.53 L500.68,173.26 L500.92,171.97 L501.15,170.66 L501.38,169.32 L501.61,167.96 L501.84,166.58 L502.07,165.18 L502.3,163.77 L502.53,162.34 L502.76,160.91 L502.99,159.47 L503.23,158.03 L503.46,156.59 L503.69,155.15 L503.92,153.72 L504.15,152.3 L504.38,150.89 L504.61,149.5 L504.84,148.13 L505.07,146.78 L505.3,145.46 L505.54,144.18 L505.77,142.92 L506,141.71 L506.23,140.54 L506.46,139.42 L506.69,138.34 L506.92,137.32 L507.15,136.35 L507.38,135.44 L507.61,134.6 L507.85,133.82 L508.08,133.1 L508.31,132.45 L508.54,131.88 L508.77,131.37 L509,130.94 L509.23,130.59 L509.46,130.32 L509.69,130.12 L509.92,130 L510.15,129.96 L510.39,130 L510.62,130.12 L510.85,130.32 L511.08,130.59 L511.31,130.94 L511.54,131.37 L511.77,131.88 L512,132.45 L512.23,133.1 L512.47,133.82 L512.7,134.6 L512.93,135.44 L513.16,136.35 L513.39,137.32 L513.62,138.34 L513.85,139.42 L514.08,140.54 L514.31,141.71 L514.54,142.92 L514.77,144.18 L515.01,145.46 L515.24,146.78 L515.47,148.13 L515.7,149.5 L515.93,150.89 L516.16,152.3 L516.39,153.72 L516.62,155.15 L516.85,156.59 L517.09,158.03 L517.32,159.47 L517.55,160.91 L517.78,162.34 L518.01,163.77 L518.24,165.18 L518.47,166.58 L518.7,167.96 L518.93,169.32 L519.16,170.66 L519.39,171.97 L519.63,173.26 L519.86,174.53 L520.09,175.76 L520.32,176.97 L520.55,178.14 L520.78,179.28 L521.01,180.39 L521.24,181.46 L521.47,182.51 L521.71,183.51 L521.94,184.48 L522.17,185.42 L522.4,186.32 L522.63,187.18 L522.86,188.01 L523.09,188.81 L523.32,189.57 L523.55,190.29 L523.78,190.99 L524.01,191.65 L524.25,192.27 L524.48,192.87 L524.71,193.43 L524.94,193.97 L525.17,194.48 L525.4,194.96 L525.63,195.41 L525.86,195.83 L526.09,196.23 L526.33,196.61 L526.56,196.96 L526.79,197.3 L527.02,197.61 L527.25,197.9 L527.48,198.17 L527.71,198.42 L527.94,198.65 L528.17,198.87 L528.4,199.07 L528.63,199.26 L528.87,199.44 L529.1,199.6 L529.33,199.75 L529.56,199.88 L529.79,200.01 L530.02,200.13 L530.25,200.24 L530.48,200.33 L530.71,200.42 L530.95,200.51 L531.18,200.58 L531.41,200.65 L531.64,200.72 L531.87,200.77 L532.1,200.83 L532.33,200.87 L532.56,200.92 L532.79,200.96 L533.02,200.99 L533.25,201.02 L533.49,201.05 L533.72,201.08 L533.95,201.1 L534.18,201.12 L534.41,201.14 L534.64,201.16 L534.87,201.18 L535.1,201.19 L535.33,201.2 L535.57,201.21 L535.8,201.22 L536.03,201.23 L536.26,201.24 L536.49,201.25 L536.72,201.25 L536.95,201.26 L537.18,201.26 L537.41,201.27 L537.64,201.27 L537.88,201.28 L538.11,201.28 L538.34,201.28 L538.57,201.28 L538.8,201.29 L539.03,201.29 L539.26,201.29 L539.49,201.29 L539.72,201.29 L539.95,201.29 L540.18,201.29 L540.42,201.29 L540.65,201.3 L540.88,201.3 L541.11,201.3 L541.34,201.3 L541.57,201.3 L541.8,201.3 L542.03,201.3 L542.26,201.3 L542.5,201.3 L542.73,201.3 L542.96,201.3 L543.19,201.3 L543.42,201.3 L543.65,201.3 L543.88,201.3 L544.11,201.3 L544.34,201.3 L544.57,201.3 L544.81,201.3 L544.81,201.3 L474.35,201.3 Z" fill="#e88a8a" stroke="none" stroke-width="1"/>
<path d="M474.35,201.3 L474.58,201.3 L474.81,201.3 L475.04,201.3 L475.27,201.3 L475.5,201.3 L475.74,201.3 L475.97,201.3 L476.2,201.3 L476.43,201.3 L476.66,201.3 L476.89,201.3 L477.12,201.3 L477.35,201.3 L477.58,201.3 L477.81,201.3 L478.05,201.3 L478.28,201.3 L478.51,201.3 L478.74,201.3 L478.97,201.3 L479.2,201.3 L479.43,201.3 L479.66,201.3 L479.89,201.3 L480.12,201.29 L480.36,201.29 L480.59,201.29 L480.82,201.29 L481.05,201.29 L481.28,201.29 L481.51,201.29 L481.74,201.28 L481.97,201.28 L482.2,201.28 L482.44,201.28 L482.67,201.27 L482.9,201.27 L483.13,201.26 L483.36,201.26 L483.59,201.25 L483.82,201.25 L484.05,201.24 L484.28,201.23 L484.51,201.22 L484.75,201.21 L484.98,201.2 L485.21,201.19 L485.44,201.18 L485.67,201.16 L485.9,201.14 L486.13,201.12 L486.36,201.1 L486.59,201.08 L486.82,201.05 L487.06,201.02 L487.29,200.99 L487.52,200.96 L487.75,200.92 L487.98,200.87 L488.21,200.83 L488.44,200.77 L488.67,200.72 L488.9,200.65 L489.13,200.58 L489.37,200.51 L489.6,200.42 L489.83,200.33 L490.06,200.24 L490.29,200.13 L490.52,200.01 L490.75,199.88 L490.98,199.75 L491.21,199.6 L491.44,199.44 L491.68,199.26 L491.91,199.07 L492.14,198.87 L492.37,198.65 L492.6,198.42 L492.83,198.17 L493.06,197.9 L493.29,197.61 L493.52,197.3 L493.75,196.96 L493.99,196.61 L494.22,196.23 L494.45,195.83 L494.68,195.41 L494.91,194.96 L495.14,194.48 L495.37,193.97 L495.6,193.43 L495.83,192.87 L496.06,192.27 L496.3,191.65 L496.53,190.99 L496.76,190.29 L496.99,189.57 L497.22,188.81 L497.45,188.01 L497.68,187.18 L497.91,186.32 L498.14,185.42 L498.37,184.48 L498.61,183.51 L498.84,182.51 L499.07,181.46 L499.3,180.39 L499.53,179.28 L499.76,178.14 L499.99,176.97 L500.22,175.76 L500.45,174.53 L500.68,173.26 L500.92,171.97 L501.15,170.66 L501.38,169.32 L501.61,167.96 L501.84,166.58 L502.07,165.18 L502.3,163.77 L502.53,162.34 L502.76,160.91 L502.99,159.47 L503.23,158.03 L503.46,156.59 L503.69,155.15 L503.92,153.72 L504.15,152.3 L504.38,150.89 L504.61,149.5 L504.84,148.13 L505.07,146.78 L505.3,145.46 L505.54,144.18 L505.77,142.92 L506,141.71 L506.23,140.54 L506.46,139.42 L506.69,138.34 L506.92,137.32 L507.15,136.35 L507.38,135.44 L507.61,134.6 L507.85,133.82 L508.08,133.1 L508.31,132.45 L508.54,131.88 L508.77,131.37 L509,130.94 L509.23,130.59 L509.46,130.32 L509.69,130.12 L509.92,130 L510.15,129.96 L510.39,130 L510.62,130.12 L510.85,130.94 L511.08,131.83 L511.31,132.79 L511.54,133.81 L511.77,134.89 L512,136.02 L512.23,137.21 L512.47,138.44 L512.7,139.72 L512.93,141.04 L513.16,142.4 L513.39,143.79 L513.62,145.21 L513.85,146.65 L514.08,148.12 L514.31,149.61 L514.54,151.11 L514.77,152.62 L515.01,154.13 L515.24,155.66 L515.47,157.18 L515.7,158.69 L515.93,160.21 L516.16,161.71 L516.39,163.2 L516.62,164.67 L516.85,166.13 L517.09,167.56 L517.32,168.97 L517.55,170.36 L517.78,171.72 L518.01,173.06 L518.24,174.36 L518.47,175.63 L518.7,176.87 L518.93,178.07 L519.16,179.24 L519.39,180.38 L519.63,181.47 L519.86,182.53 L520.09,183.56 L520.32,184.55 L520.55,185.49 L520.78,186.41 L521.01,187.28 L521.24,188.12 L521.47,188.92 L521.71,189.69 L521.94,190.42 L522.17,191.12 L522.4,191.78 L522.63,192.41 L522.86,193 L523.09,193.57 L523.32,194.1 L523.55,194.61 L523.78,195.08 L524.01,195.53 L524.25,195.96 L524.48,196.35 L524.71,196.73 L524.94,197.08 L525.17,197.4 L525.4,197.71 L525.63,197.99 L525.86,198.26 L526.09,198.51 L526.33,198.74 L526.56,198.95 L526.79,199.15 L527.02,199.33 L527.25,199.5 L527.48,199.66 L527.71,199.81 L527.94,199.94 L528.17,200.06 L528.4,200.18 L528.63,200.28 L528.87,200.38 L529.1,200.46 L529.33,200.54 L529.56,200.62 L529.79,200.68 L530.02,200.74 L530.25,200.8 L530.48,200.85 L530.71,200.9 L530.95,200.94 L531.18,200.98 L531.41,201.01 L531.64,201.04 L531.87,201.07 L532.1,201.09 L532.33,201.12 L532.56,201.14 L532.79,201.15 L533.02,201.17 L533.25,201.18 L533.49,201.2 L533.72,201.21 L533.95,201.22 L534.18,201.23 L534.41,201.24 L534.64,201.24 L534.87,201.25 L535.1,201.26 L535.33,201.26 L535.57,201.27 L535.8,201.27 L536.03,201.27 L536.26,201.28 L536.49,201.28 L536.72,201.28 L536.95,201.29 L537.18,201.29 L537.41,201.29 L537.64,201.29 L537.88,201.29 L538.11,201.29 L538.34,201.29 L538.57,201.29 L538.8,201.3 L539.03,201.3 L539.26,201.3 L539.49,201.3 L539.72,201.3 L539.95,201.3 L540.18,201.3 L540.42,201.3 L540.65,201.3 L540.88,201.3 L541.11,201.3 L541.34,201.3 L541.57,201.3 L541.8,201.3 L542.03,201.3 L542.26,201.3 L542.5,201.3 L542.73,201.3 L542.96,201.3 L543.19,201.3 L543.42,201.3 L543.65,201.3 L543.88,201.3 L544.11,201.3 L544.34,201.3 L544.57,201.3 L544.81,201.3 L544.81,201.3 L474.35,201.3 Z" fill="#dd4848" stroke="none" stroke-width="1"/>
<path d="M474.35,201.3 L474.58,201.3 L474.81,201.3 L475.04,201.3 L475.27,201.3 L475.5,201.3 L475.74,201.3 L475.97,201.3 L476.2,201.3 L476.43,201.3 L476.66,201.3 L476.89,201.3 L477.12,201.3 L477.35,201.3 L477.58,201.3 L477.81,201.3 L478.05,201.3 L478.28,201.3 L478.51,201.3 L478.74,201.3 L478.97,201.3 L479.2,201.3 L479.43,201.3 L479.66,201.3 L479.89,201.3 L480.12,201.29 L480.36,201.29 L480.59,201.29 L480.82,201.29 L481.05,201.29 L481.28,201.29 L481.51,201.29 L481.74,201.28 L481.97,201.28 L482.2,201.28 L482.44,201.27 L482.67,201.27 L482.9,201.27 L483.13,201.26 L483.36,201.26 L483.59,201.25 L483.82,201.24 L484.05,201.23 L484.28,201.22 L484.51,201.21 L484.75,201.2 L484.98,201.19 L485.21,201.17 L485.44,201.15 L485.67,201.14 L485.9,201.11 L486.13,201.09 L486.36,201.06 L486.59,201.03 L486.82,201 L487.06,200.96 L487.29,200.92 L487.52,200.87 L487.75,200.82 L487.98,200.76 L488.21,200.7 L488.44,200.63 L488.67,200.55 L488.9,200.46 L489.13,200.37 L489.37,200.27 L489.6,200.15 L489.83,200.03 L490.06,199.89 L490.29,199.75 L490.52,199.58 L490.75,199.41 L490.98,199.22 L491.21,199.01 L491.44,198.78 L491.68,198.54 L491.91,198.28 L492.14,197.99 L492.37,197.69 L492.6,197.36 L492.83,197 L493.06,196.62 L493.29,196.21 L493.52,195.78 L493.75,195.31 L493.99,194.82 L494.22,194.29 L494.45,193.72 L494.68,193.13 L494.91,192.49 L495.14,191.82 L495.37,191.12 L495.6,190.37 L495.83,189.58 L496.06,188.75 L496.3,187.88 L496.53,186.97 L496.76,186.02 L496.99,185.02 L497.22,183.99 L497.45,182.9 L497.68,181.78 L497.91,180.61 L498.14,179.41 L498.37,178.16 L498.61,176.87 L498.84,175.54 L499.07,174.17 L499.3,172.77 L499.53,171.34 L499.76,169.87 L499.99,168.37 L500.22,166.85 L500.45,165.3 L500.68,163.72 L500.92,162.13 L501.15,160.53 L501.38,158.91 L501.61,157.29 L501.84,155.66 L502.07,154.03 L502.3,152.4 L502.53,150.78 L502.76,149.18 L502.99,147.59 L503.23,146.03 L503.46,144.49 L503.69,142.99 L503.92,141.52 L504.15,140.09 L504.38,138.71 L504.61,137.38 L504.84,136.1 L505.07,134.89 L505.3,133.73 L505.54,132.65 L505.77,131.63 L506,130.69 L506.23,129.83 L506.46,129.05 L506.69,128.36 L506.92,127.75 L507.15,127.24 L507.38,126.81 L507.61,126.48 L507.85,126.24 L508.08,126.09 L508.31,126.05 L508.54,126.09 L508.77,126.21 L509,126.42 L509.23,126.71 L509.46,127.08 L509.69,127.54 L509.92,128.07 L510.15,128.67 L510.39,129.36 L510.62,130.11 L510.85,130.94 L511.08,131.83 L511.31,132.79 L511.54,133.81 L511.77,134.89 L512,136.02 L512.23,137.21 L512.47,138.44 L512.7,139.72 L512.93,141.04 L513.16,142.4 L513.39,143.79 L513.62,145.21 L513.85,146.65 L514.08,148.12 L514.31,149.61 L514.54,151.11 L514.77,152.62 L515.01,154.13 L515.24,155.66 L515.47,157.18 L515.7,158.69 L515.93,160.21 L516.16,161.71 L516.39,163.2 L516.62,164.67 L516.85,166.13 L517.09,167.56 L517.32,168.97 L517.55,170.36 L517.78,171.72 L518.01,173.06 L518.24,174.36 L518.47,175.63 L518.7,176.87 L518.93,178.07 L519.16,179.24 L519.39,180.38 L519.63,181.47 L519.86,182.53 L520.09,183.56 L520.32,184.55 L520.55,185.49 L520.78,186.41 L521.01,187.28 L521.24,188.12 L521.47,188.92 L521.71,189.69 L521.94,190.42 L522.17,191.12 L522.4,191.78 L522.63,192.41 L522.86,193 L523.09,193.57 L523.32,194.1 L523.55,194.61 L523.78,195.08 L524.01,195.53 L524.25,195.96 L524.48,196.35 L524.71,196.73 L524.94,197.08 L525.17,197.4 L525.4,197.71 L525.63,197.99 L525.86,198.26 L526.09,198.51 L526.33,198.74 L526.56,198.95 L526.79,199.15 L527.02,199.33 L527.25,199.5 L527.48,199.66 L527.71,199.81 L527.94,199.94 L528.17,200.06 L528.4,200.18 L528.63,200.28 L528.87,200.38 L529.1,200.46 L529.33,200.54 L529.56,200.62 L529.79,200.68 L530.02,200.74 L530.25,200.8 L530.48,200.85 L530.71,200.9 L530.95,200.94 L531.18,200.98 L531.41,201.01 L531.64,201.04 L531.87,201.07 L532.1,201.09 L532.33,201.12 L532.56,201.14 L532.79,201.15 L533.02,201.17 L533.25,201.18 L533.49,201.2 L533.72,201.21 L533.95,201.22 L534.18,201.23 L534.41,201.24 L534.64,201.24 L534.87,201.25 L535.1,201.26 L535.33,201.26 L535.57,201.27 L535.8,201.27 L536.03,201.27 L536.26,201.28 L536.49,201.28 L536.72,201.28 L536.95,201.29 L537.18,201.29 L537.41,201.29 L537.64,201.29 L537.88,201.29 L538.11,201.29 L538.34,201.29 L538.57,201.29 L538.8,201.3 L539.03,201.3 L539.26,201.3 L539.49,201.3 L539.72,201.3 L539.95,201.3 L540.18,201.3 L540.42,201.3 L540.65,201.3 L540.88,201.3 L541.11,201.3 L541.34,201.3 L541.57,201.3 L541.8,201.3 L542.03,201.3 L542.26,201.3 L542.5,201.3 L542.73,201.3 L542.96,201.3 L543.19,201.3 L543.42,201.3 L543.65,201.3 L543.88,201.3 L544.11,201.3 L544.34,201.3 L544.57,201.3 L544.81,201.3" fill="none" stroke="#444" stroke-width="0.6"/>
<path d="M474.35,201.3 L474.58,201.3 L474.81,201.3 L475.04,201.3 L475.27,201.3 L475.5,201.3 L475.74,201.3 L475.97,201.3 L476.2,201.3 L476.43,201.3 L476.66,201.3 L476.89,201.3 L477.12,201.3 L477.35,201.3 L477.58,201.3 L477.81,201.3 L478.05,201.3 L478.28,201.3 L478.51,201.3 L478.74,201.3 L478.97,201.3 L479.2,201.3 L479.43,201.3 L479.66,201.29 L479.89,201.29 L480.12,201.29 L480.36,201.29 L480.59,201.29 L480.82,201.29 L481.05,201.29 L481.28,201.29 L481.51,201.28 L481.74,201.28 L481.97,201.28 L482.2,201.28 L482.44,201.27 L482.67,201.27 L482.9,201.26 L483.13,201.26 L483.36,201.25 L483.59,201.24 L483.82,201.24 L484.05,201.23 L484.28,201.22 L484.51,201.21 L484.75,201.19 L484.98,201.18 L485.21,201.17 L485.44,201.15 L485.67,201.13 L485.9,201.11 L486.13,201.08 L486.36,201.05 L486.59,201.02 L486.82,200.99 L487.06,200.95 L487.29,200.91 L487.52,200.87 L487.75,200.82 L487.98,200.76 L488.21,200.7 L488.44,200.63 L488.67,200.56 L488.9,200.48 L489.13,200.39 L489.37,200.29 L489.6,200.19 L489.83,200.07 L490.06,199.94 L490.29,199.8 L490.52,199.65 L490.75,199.49 L490.98,199.31 L491.21,199.12 L491.44,198.91 L491.68,198.69 L491.91,198.45 L492.14,198.19 L492.37,197.91 L492.6,197.61 L492.83,197.28 L493.06,196.94 L493.29,196.57 L493.52,196.17 L493.75,195.75 L493.99,195.3 L494.22,194.82 L494.45,194.32 L494.68,193.78 L494.91,193.21 L495.14,192.6 L495.37,191.96 L495.6,191.29 L495.83,190.58 L496.06,189.84 L496.3,189.06 L496.53,188.24 L496.76,187.38 L496.99,186.48 L497.22,185.55 L497.45,184.57 L497.68,183.56 L497.91,182.5 L498.14,181.41 L498.37,180.28 L498.61,179.11 L498.84,177.91 L499.07,176.67 L499.3,175.39 L499.53,174.08 L499.76,172.74 L499.99,171.36 L500.22,169.96 L500.45,168.53 L500.68,167.08 L500.92,165.6 L501.15,164.11 L501.38,162.6 L501.61,161.07 L501.84,159.54 L502.07,157.99 L502.3,156.45 L502.53,154.9 L502.76,153.36 L502.99,151.82 L503.23,150.3 L503.46,148.79 L503.69,147.31 L503.92,145.84 L504.15,144.41 L504.38,143 L504.61,141.63 L504.84,140.31 L505.07,139.02 L505.3,137.79 L505.54,136.61 L505.77,135.48 L506,134.42 L506.23,133.42 L506.46,132.48 L506.69,131.62 L506.92,130.83 L507.15,130.11 L507.38,129.47 L507.61,128.92 L507.85,128.44 L508.08,128.05 L508.31,127.74 L508.54,127.53 L508.77,127.39 L509,127.35 L509.23,127.39 L509.46,127.51 L509.69,127.72 L509.92,128 L510.15,128.37 L510.39,128.81 L510.62,129.34 L510.85,129.93 L511.08,130.6 L511.31,131.35 L511.54,132.16 L511.77,133.04 L512,133.98 L512.23,134.98 L512.47,136.04 L512.7,137.15 L512.93,138.32 L513.16,139.53 L513.39,140.79 L513.62,142.09 L513.85,143.42 L514.08,144.79 L514.31,146.18 L514.54,147.6 L514.77,149.04 L515.01,150.5 L515.24,151.98 L515.47,153.46 L515.7,154.95 L515.93,156.45 L516.16,157.94 L516.39,159.43 L516.62,160.92 L516.85,162.39 L517.09,163.86 L517.32,165.3 L517.55,166.74 L517.78,168.15 L518.01,169.53 L518.24,170.9 L518.47,172.24 L518.7,173.55 L518.93,174.83 L519.16,176.08 L519.39,177.29 L519.63,178.48 L519.86,179.62 L520.09,180.74 L520.32,181.82 L520.55,182.86 L520.78,183.87 L521.01,184.84 L521.24,185.77 L521.47,186.67 L521.71,187.53 L521.94,188.35 L522.17,189.14 L522.4,189.89 L522.63,190.61 L522.86,191.29 L523.09,191.94 L523.32,192.56 L523.55,193.15 L523.78,193.7 L524.01,194.23 L524.25,194.72 L524.48,195.19 L524.71,195.63 L524.94,196.05 L525.17,196.44 L525.4,196.81 L525.63,197.15 L525.86,197.47 L526.09,197.77 L526.33,198.05 L526.56,198.31 L526.79,198.56 L527.02,198.78 L527.25,198.99 L527.48,199.19 L527.71,199.37 L527.94,199.54 L528.17,199.69 L528.4,199.83 L528.63,199.96 L528.87,200.09 L529.1,200.2 L529.33,200.3 L529.56,200.39 L529.79,200.48 L530.02,200.56 L530.25,200.63 L530.48,200.69 L530.71,200.75 L530.95,200.81 L531.18,200.86 L531.41,200.9 L531.64,200.94 L531.87,200.98 L532.1,201.01 L532.33,201.04 L532.56,201.07 L532.79,201.1 L533.02,201.12 L533.25,201.14 L533.49,201.16 L533.72,201.17 L533.95,201.19 L534.18,201.2 L534.41,201.21 L534.64,201.22 L534.87,201.23 L535.1,201.24 L535.33,201.25 L535.57,201.25 L535.8,201.26 L536.03,201.26 L536.26,201.27 L536.49,201.27 L536.72,201.28 L536.95,201.28 L537.18,201.28 L537.41,201.28 L537.64,201.29 L537.88,201.29 L538.11,201.29 L538.34,201.29 L538.57,201.29 L538.8,201.29 L539.03,201.29 L539.26,201.29 L539.49,201.3 L539.72,201.3 L539.95,201.3 L540.18,201.3 L540.42,201.3 L540.65,201.3 L540.88,201.3 L541.11,201.3 L541.34,201.3 L541.57,201.3 L541.8,201.3 L542.03,201.3 L542.26,201.3 L542.5,201.3 L542.73,201.3 L542.96,201.3 L543.19,201.3 L543.42,201.3 L543.65,201.3 L543.88,201.3 L544.11,201.3 L544.34,201.3 L544.57,201.3 L544.81,201.3" fill="none" stroke="#444" stroke-width="0.6"/>
<path d="M474.35,201.3 L474.58,201.3 L474.81,201.3 L475.04,201.3 L475.27,201.3 L475.5,201.3 L475.74,201.3 L475.97,201.3 L476.2,201.3 L476.43,201.3 L476.66,201.3 L476.89,201.3 L477.12,201.3 L477.35,201.3 L477.58,201.3 L477.81,201.3 L478.05,201.3 L478.28,201.3 L478.51,201.3 L478.74,201.3 L478.97,201.3 L479.2,201.3 L479.43,201.3 L479.66,201.3 L479.89,201.29 L480.12,201.29 L480.36,201.29 L480.59,201.29 L480.82,201.29 L481.05,201.29 L481.28,201.29 L481.51,201.29 L481.74,201.28 L481.97,201.28 L482.2,201.28 L482.44,201.28 L482.67,201.27 L482.9,201.27 L483.13,201.26 L483.36,201.26 L483.59,201.25 L483.82,201.25 L484.05,201.24 L484.28,201.23 L484.51,201.22 L484.75,201.21 L484.98,201.2 L485.21,201.19 L485.44,201.18 L485.67,201.16 L485.9,201.14 L486.13,201.12 L486.36,201.1 L486.59,201.08 L486.82,201.05 L487.06,201.02 L487.29,200.99 L487.52,200.96 L487.75,200.92 L487.98,200.87 L488.21,200.83 L488.44,200.77 L488.67,200.72 L488.9,200.65 L489.13,200.58 L489.37,200.51 L489.6,200.42 L489.83,200.33 L490.06,200.24 L490.29,200.13 L490.52,200.01 L490.75,199.88 L490.98,199.75 L491.21,199.6 L491.44,199.44 L491.68,199.26 L491.91,199.07 L492.14,198.87 L492.37,198.65 L492.6,198.42 L492.83,198.17 L493.06,197.9 L493.29,197.61 L493.52,197.3 L493.75,196.96 L493.99,196.61 L494.22,196.23 L494.45,195.83 L494.68,195.41 L494.91,194.96 L495.14,194.48 L495.37,193.97 L495.6,193.43 L495.83,192.87 L496.06,192.27 L496.3,191.65 L496.53,190.99 L496.76,190.29 L496.99,189.57 L497.22,188.81 L497.45,188.01 L497.68,187.18 L497.91,186.32 L498.14,185.42 L498.37,184.48 L498.61,183.51 L498.84,182.51 L499.07,181.46 L499.3,180.39 L499.53,179.28 L499.76,178.14 L499.99,176.97 L500.22,175.76 L500.45,174.53 L500.68,173.26 L500.92,171.97 L501.15,170.66 L501.38,169.32 L501.61,167.96 L501.84,166.58 L502.07,165.18 L502.3,163.77 L502.53,162.34 L502.76,160.91 L502.99,159.47 L503.23,158.03 L503.46,156.59 L503.69,155.15 L503.92,153.72 L504.15,152.3 L504.38,150.89 L504.61,149.5 L504.84,148.13 L505.07,146.78 L505.3,145.46 L505.54,144.18 L505.77,142.92 L506,141.71 L506.23,140.54 L506.46,139.42 L506.69,138.34 L506.92,137.32 L507.15,136.35 L507.38,135.44 L507.61,134.6 L507.85,133.82 L508.08,133.1 L508.31,132.45 L508.54,131.88 L508.77,131.37 L509,130.94 L509.23,130.59 L509.46,130.32 L509.69,130.12 L509.92,130 L510.15,129.96 L510.39,130 L510.62,130.12 L510.85,130.32 L511.08,130.59 L511.31,130.94 L511.54,131.37 L511.77,131.88 L512,132.45 L512.23,133.1 L512.47,133.82 L512.7,134.6 L512.93,135.44 L513.16,136.35 L513.39,137.32 L513.62,138.34 L513.85,139.42 L514.08,140.54 L514.31,141.71 L514.54,142.92 L514.77,144.18 L515.01,145.46 L515.24,146.78 L515.47,148.13 L515.7,149.5 L515.93,150.89 L516.16,152.3 L516.39,153.72 L516.62,155.15 L516.85,156.59 L517.09,158.03 L517.32,159.47 L517.55,160.91 L517.78,162.34 L518.01,163.77 L518.24,165.18 L518.47,166.58 L518.7,167.96 L518.93,169.32 L519.16,170.66 L519.39,171.97 L519.63,173.26 L519.86,174.53 L520.09,175.76 L520.32,176.97 L520.55,178.14 L520.78,179.28 L521.01,180.39 L521.24,181.46 L521.47,182.51 L521.71,183.51 L521.94,184.48 L522.17,185.42 L522.4,186.32 L522.63,187.18 L522.86,188.01 L523.09,188.81 L523.32,189.57 L523.55,190.29 L523.78,190.99 L524.01,191.65 L524.25,192.27 L524.48,192.87 L524.71,193.43 L524.94,193.97 L525.17,194.48 L525.4,194.96 L525.63,195.41 L525.86,195.83 L526.09,196.23 L526.33,196.61 L526.56,196.96 L526.79,197.3 L527.02,197.61 L527.25,197.9 L527.48,198.17 L527.71,198.42 L527.94,198.65 L528.17,198.87 L528.4,199.07 L528.63,199.26 L528.87,199.44 L529.1,199.6 L529.33,199.75 L529.56,199.88 L529.79,200.01 L530.02,200.13 L530.25,200.24 L530.48,200.33 L530.71,200.42 L530.95,200.51 L531.18,200.58 L531.41,200.65 L531.64,200.72 L531.87,200.77 L532.1,200.83 L532.33,200.87 L532.56,200.92 L532.79,200.96 L533.02,200.99 L533.25,201.02 L533.49,201.05 L533.72,201.08 L533.95,201.1 L534.18,201.12 L534.41,201.14 L534.64,201.16 L534.87,201.18 L535.1,201.19 L535.33,201.2 L535.57,201.21 L535.8,201.22 L536.03,201.23 L536.26,201.24 L536.49,201.25 L536.72,201.25 L536.95,201.26 L537.18,201.26 L537.41,201.27 L537.64,201.27 L537.88,201.28 L538.11,201.28 L538.34,201.28 L538.57,201.28 L538.8,201.29 L539.03,201.29 L539.26,201.29 L539.49,201.29 L539.72,201.29 L539.95,201.29 L540.18,201.29 L540.42,201.29 L540.65,201.3 L540.88,201.3 L541.11,201.3 L541.34,201.3 L541.57,201.3 L541.8,201.3 L542.03,201.3 L542.26,201.3 L542.5,201.3 L542.73,201.3 L542.96,201.3 L543.19,201.3 L543.42,201.3 L543.65,201.3 L543.88,201.3 L544.11,201.3 L544.34,201.3 L544.57,201.3 L544.81,201.3" fill="none" stroke="#555" stroke-width="0.6"/>
<line x1="509" y1="122" x2="509" y2="203" stroke="#333" stroke-width="0.6"/>
<line x1="457.5" y1="203.3" x2="457.5" y2="125" stroke="#9a9a9a" stroke-width="0.9"/>
<line x1="457.5" y1="203.3" x2="558.5" y2="203.3" stroke="#9a9a9a" stroke-width="0.9"/>
<path d="M457.5,123.5 L458.5,125.5 L456.5,125.5 Z" fill="#9a9a9a" stroke="none" stroke-width="1"/>
<path d="M560,203.3 L558,204.3 L558,202.3 Z" fill="#9a9a9a" stroke="none" stroke-width="1"/>
<text x="454.7" y="204.14" font-size="7.1" text-anchor="end" fill="#000" stroke="#000" stroke-width="0.2">0.0</text>
<text x="454.7" y="186.74" font-size="7.1" text-anchor="end" fill="#000" stroke="#000" stroke-width="0.2">0.2</text>
<text x="454.7" y="169.34" font-size="7.1" text-anchor="end" fill="#000" stroke="#000" stroke-width="0.2">0.4</text>
<text x="454.7" y="151.94" font-size="7.1" text-anchor="end" fill="#000" stroke="#000" stroke-width="0.2">0.6</text>
<text x="454.7" y="134.54" font-size="7.1" text-anchor="end" fill="#000" stroke="#000" stroke-width="0.2">0.8</text>
<text x="462.3" y="212.44" font-size="7.1" text-anchor="middle" fill="#000" stroke="#000" stroke-width="0.2">-4</text>
<text x="485.4" y="212.44" font-size="7.1" text-anchor="middle" fill="#000" stroke="#000" stroke-width="0.2">-2</text>
<text x="509" y="212.44" font-size="7.1" text-anchor="middle" fill="#000" stroke="#000" stroke-width="0.2">0</text>
<text x="532.1" y="212.44" font-size="7.1" text-anchor="middle" fill="#000" stroke="#000" stroke-width="0.2">2</text>
<text x="555.2" y="212.44" font-size="7.1" text-anchor="middle" fill="#000" stroke="#000" stroke-width="0.2">4</text>
<text x="457.7" y="123.2" font-size="7.6" text-anchor="end" fill="#000" stroke="#000" stroke-width="0.2">Density</text>
<text x="514" y="103" font-size="11" text-anchor="middle" fill="#000" font-weight="bold" stroke="#000" stroke-width="0.1">2020</text>
<line x1="585.2" y1="124.5" x2="585.2" y2="203" stroke="#eeeeee" stroke-width="0.6"/>
<line x1="596.75" y1="124.5" x2="596.75" y2="203" stroke="#f5f5f5" stroke-width="0.6"/>
<line x1="608.3" y1="124.5" x2="608.3" y2="203" stroke="#eeeeee" stroke-width="0.6"/>
<line x1="619.85" y1="124.5" x2="619.85" y2="203" stroke="#f5f5f5" stroke-width="0.6"/>
<line x1="631.4" y1="124.5" x2="631.4" y2="203" stroke="#eeeeee" stroke-width="0.6"/>
<line x1="642.95" y1="124.5" x2="642.95" y2="203" stroke="#f5f5f5" stroke-width="0.6"/>
<line x1="654.5" y1="124.5" x2="654.5" y2="203" stroke="#eeeeee" stroke-width="0.6"/>
<line x1="666.05" y1="124.5" x2="666.05" y2="203" stroke="#f5f5f5" stroke-width="0.6"/>
<line x1="677.6" y1="124.5" x2="677.6" y2="203" stroke="#eeeeee" stroke-width="0.6"/>
<line x1="581.6" y1="201.3" x2="678.5" y2="201.3" stroke="#eeeeee" stroke-width="0.6"/>
<line x1="581.6" y1="192.6" x2="678.5" y2="192.6" stroke="#f5f5f5" stroke-width="0.6"/>
<line x1="581.6" y1="183.9" x2="678.5" y2="183.9" stroke="#eeeeee" stroke-width="0.6"/>
<line x1="581.6" y1="175.2" x2="678.5" y2="175.2" stroke="#f5f5f5" stroke-width="0.6"/>
<line x1="581.6" y1="166.5" x2="678.5" y2="166.5" stroke="#eeeeee" stroke-width="0.6"/>
<line x1="581.6" y1="157.8" x2="678.5" y2="157.8" stroke="#f5f5f5" stroke-width="0.6"/>
<line x1="581.6" y1="149.1" x2="678.5" y2="149.1" stroke="#eeeeee" stroke-width="0.6"/>
<line x1="581.6" y1="140.4" x2="678.5" y2="140.4" stroke="#f5f5f5" stroke-width="0.6"/>
<line x1="581.6" y1="131.7" x2="678.5" y2="131.7" stroke="#eeeeee" stroke-width="0.6"/>
<path d="M597.9,201.3 L598.14,201.3 L598.37,201.3 L598.6,201.3 L598.83,201.3 L599.06,201.3 L599.29,201.3 L599.52,201.3 L599.75,201.3 L599.98,201.3 L600.22,201.3 L600.45,201.3 L600.68,201.3 L600.91,201.3 L601.14,201.3 L601.37,201.3 L601.6,201.3 L601.83,201.3 L602.06,201.3 L602.29,201.3 L602.52,201.29 L602.76,201.29 L602.99,201.29 L603.22,201.29 L603.45,201.29 L603.68,201.29 L603.91,201.29 L604.14,201.28 L604.37,201.28 L604.6,201.28 L604.83,201.27 L605.07,201.27 L605.3,201.27 L605.53,201.26 L605.76,201.26 L605.99,201.25 L606.22,201.24 L606.45,201.23 L606.68,201.22 L606.91,201.21 L607.14,201.2 L607.38,201.19 L607.61,201.17 L607.84,201.15 L608.07,201.14 L608.3,201.11 L608.53,201.09 L608.76,201.06 L608.99,201.03 L609.22,201 L609.45,200.96 L609.69,200.92 L609.92,200.87 L610.15,200.82 L610.38,200.76 L610.61,200.7 L610.84,200.63 L611.07,200.55 L611.3,200.46 L611.53,200.37 L611.76,200.27 L612,200.15 L612.23,200.03 L612.46,199.89 L612.69,199.75 L612.92,199.58 L613.15,199.41 L613.38,199.22 L613.61,199.01 L613.84,198.78 L614.07,198.54 L614.31,198.28 L614.54,197.99 L614.77,197.69 L615,197.36 L615.23,197 L615.46,196.62 L615.69,196.21 L615.92,195.78 L616.15,195.31 L616.38,194.82 L616.62,194.29 L616.85,193.72 L617.08,193.13 L617.31,192.49 L617.54,191.82 L617.77,191.12 L618,190.37 L618.23,189.58 L618.46,188.75 L618.69,187.88 L618.93,186.97 L619.16,186.02 L619.39,185.02 L619.62,183.99 L619.85,182.9 L620.08,181.78 L620.31,180.61 L620.54,179.41 L620.77,178.16 L621,176.87 L621.24,175.54 L621.47,174.17 L621.7,172.77 L621.93,171.34 L622.16,169.87 L622.39,168.37 L622.62,166.85 L622.85,165.3 L623.08,163.72 L623.31,162.13 L623.55,160.53 L623.78,158.91 L624.01,157.29 L624.24,155.66 L624.47,154.03 L624.7,152.4 L624.93,150.78 L625.16,149.18 L625.39,147.59 L625.62,146.03 L625.86,144.49 L626.09,142.99 L626.32,141.52 L626.55,140.09 L626.78,138.71 L627.01,137.38 L627.24,136.1 L627.47,134.89 L627.7,133.73 L627.93,132.65 L628.17,131.63 L628.4,130.69 L628.63,129.83 L628.86,129.05 L629.09,128.36 L629.32,127.75 L629.55,127.24 L629.78,126.81 L630.01,126.48 L630.25,126.24 L630.48,126.09 L630.71,126.05 L630.94,126.09 L631.17,126.21 L631.4,126.42 L631.63,126.71 L631.86,127.08 L632.09,127.54 L632.32,128.07 L632.55,128.67 L632.79,129.36 L633.02,130.11 L633.25,130.94 L633.48,131.83 L633.71,132.79 L633.94,133.81 L634.17,134.89 L634.4,136.02 L634.63,137.21 L634.87,138.44 L635.1,139.72 L635.33,141.04 L635.56,142.4 L635.79,143.79 L636.02,145.21 L636.25,146.65 L636.48,148.12 L636.71,149.61 L636.94,151.11 L637.17,152.62 L637.41,154.13 L637.64,155.66 L637.87,157.18 L638.1,158.69 L638.33,160.21 L638.56,161.71 L638.79,163.2 L639.02,164.67 L639.25,166.13 L639.49,167.56 L639.72,168.97 L639.95,170.36 L640.18,171.72 L640.41,173.06 L640.64,174.36 L640.87,175.63 L641.1,176.87 L641.33,178.07 L641.56,179.24 L641.79,180.38 L642.03,181.47 L642.26,182.53 L642.49,183.56 L642.72,184.55 L642.95,185.49 L643.18,186.41 L643.41,187.28 L643.64,188.12 L643.87,188.92 L644.11,189.69 L644.34,190.42 L644.57,191.12 L644.8,191.78 L645.03,192.41 L645.26,193 L645.49,193.57 L645.72,194.1 L645.95,194.61 L646.18,195.08 L646.41,195.53 L646.65,195.96 L646.88,196.35 L647.11,196.73 L647.34,197.08 L647.57,197.4 L647.8,197.71 L648.03,197.99 L648.26,198.26 L648.49,198.51 L648.73,198.74 L648.96,198.95 L649.19,199.15 L649.42,199.33 L649.65,199.5 L649.88,199.66 L650.11,199.81 L650.34,199.94 L650.57,200.06 L650.8,200.18 L651.03,200.28 L651.27,200.38 L651.5,200.46 L651.73,200.54 L651.96,200.62 L652.19,200.68 L652.42,200.74 L652.65,200.8 L652.88,200.85 L653.11,200.9 L653.35,200.94 L653.58,200.98 L653.81,201.01 L654.04,201.04 L654.27,201.07 L654.5,201.09 L654.73,201.12 L654.96,201.14 L655.19,201.15 L655.42,201.17 L655.65,201.18 L655.89,201.2 L656.12,201.21 L656.35,201.22 L656.58,201.23 L656.81,201.24 L657.04,201.24 L657.27,201.25 L657.5,201.26 L657.73,201.26 L657.97,201.27 L658.2,201.27 L658.43,201.27 L658.66,201.28 L658.89,201.28 L659.12,201.28 L659.35,201.29 L659.58,201.29 L659.81,201.29 L660.04,201.29 L660.27,201.29 L660.51,201.29 L660.74,201.29 L660.97,201.29 L661.2,201.3 L661.43,201.3 L661.66,201.3 L661.89,201.3 L662.12,201.3 L662.35,201.3 L662.59,201.3 L662.82,201.3 L663.05,201.3 L663.28,201.3 L663.51,201.3 L663.74,201.3 L663.97,201.3 L664.2,201.3 L664.43,201.3 L664.66,201.3 L664.89,201.3 L665.13,201.3 L665.36,201.3 L665.59,201.3 L665.82,201.3 L666.05,201.3 L666.28,201.3 L666.51,201.3 L666.74,201.3 L666.97,201.3 L667.2,201.3 L667.2,201.3 L597.9,201.3 Z" fill="#b86a64" stroke="none" stroke-width="1"/>
<path d="M597.9,201.3 L598.14,201.3 L598.37,201.3 L598.6,201.3 L598.83,201.3 L599.06,201.3 L599.29,201.3 L599.52,201.3 L599.75,201.3 L599.98,201.3 L600.22,201.3 L600.45,201.3 L600.68,201.3 L600.91,201.3 L601.14,201.3 L601.37,201.3 L601.6,201.3 L601.83,201.3 L602.06,201.3 L602.29,201.29 L602.52,201.29 L602.76,201.29 L602.99,201.29 L603.22,201.29 L603.45,201.29 L603.68,201.29 L603.91,201.29 L604.14,201.28 L604.37,201.28 L604.6,201.28 L604.83,201.28 L605.07,201.27 L605.3,201.27 L605.53,201.26 L605.76,201.26 L605.99,201.25 L606.22,201.25 L606.45,201.24 L606.68,201.23 L606.91,201.22 L607.14,201.21 L607.38,201.2 L607.61,201.19 L607.84,201.18 L608.07,201.16 L608.3,201.14 L608.53,201.12 L608.76,201.1 L608.99,201.08 L609.22,201.05 L609.45,201.02 L609.69,200.99 L609.92,200.96 L610.15,200.92 L610.38,200.87 L610.61,200.83 L610.84,200.77 L611.07,200.72 L611.3,200.65 L611.53,200.58 L611.76,200.51 L612,200.42 L612.23,200.33 L612.46,200.24 L612.69,200.13 L612.92,200.01 L613.15,199.88 L613.38,199.75 L613.61,199.6 L613.84,199.44 L614.07,199.26 L614.31,199.07 L614.54,198.87 L614.77,198.65 L615,198.42 L615.23,198.17 L615.46,197.9 L615.69,197.61 L615.92,197.3 L616.15,196.96 L616.38,196.61 L616.62,196.23 L616.85,195.83 L617.08,195.41 L617.31,194.96 L617.54,194.48 L617.77,193.97 L618,193.43 L618.23,192.87 L618.46,192.27 L618.69,191.65 L618.93,190.99 L619.16,190.29 L619.39,189.57 L619.62,188.81 L619.85,188.01 L620.08,187.18 L620.31,186.32 L620.54,185.42 L620.77,184.48 L621,183.51 L621.24,182.51 L621.47,181.46 L621.7,180.39 L621.93,179.28 L622.16,178.14 L622.39,176.97 L622.62,175.76 L622.85,174.53 L623.08,173.26 L623.31,171.97 L623.55,170.66 L623.78,169.32 L624.01,167.96 L624.24,166.58 L624.47,165.18 L624.7,163.77 L624.93,162.34 L625.16,160.91 L625.39,159.47 L625.62,158.03 L625.86,156.59 L626.09,155.15 L626.32,153.72 L626.55,152.3 L626.78,150.89 L627.01,149.5 L627.24,148.13 L627.47,146.78 L627.7,145.46 L627.93,144.18 L628.17,142.92 L628.4,141.71 L628.63,140.54 L628.86,139.42 L629.09,138.34 L629.32,137.32 L629.55,136.35 L629.78,135.44 L630.01,134.6 L630.25,133.82 L630.48,133.1 L630.71,132.45 L630.94,131.88 L631.17,131.37 L631.4,130.94 L631.63,130.59 L631.86,130.32 L632.09,130.12 L632.32,130 L632.55,129.96 L632.79,130 L633.02,130.12 L633.25,130.32 L633.48,130.59 L633.71,130.94 L633.94,131.37 L634.17,131.88 L634.4,132.45 L634.63,133.1 L634.87,133.82 L635.1,134.6 L635.33,135.44 L635.56,136.35 L635.79,137.32 L636.02,138.34 L636.25,139.42 L636.48,140.54 L636.71,141.71 L636.94,142.92 L637.17,144.18 L637.41,145.46 L637.64,146.78 L637.87,148.13 L638.1,149.5 L638.33,150.89 L638.56,152.3 L638.79,153.72 L639.02,155.15 L639.25,156.59 L639.49,158.03 L639.72,159.47 L639.95,160.91 L640.18,162.34 L640.41,163.77 L640.64,165.18 L640.87,166.58 L641.1,167.96 L641.33,169.32 L641.56,170.66 L641.79,171.97 L642.03,173.26 L642.26,174.53 L642.49,175.76 L642.72,176.97 L642.95,178.14 L643.18,179.28 L643.41,180.39 L643.64,181.46 L643.87,182.51 L644.11,183.51 L644.34,184.48 L644.57,185.42 L644.8,186.32 L645.03,187.18 L645.26,188.01 L645.49,188.81 L645.72,189.57 L645.95,190.29 L646.18,190.99 L646.41,191.65 L646.65,192.27 L646.88,192.87 L647.11,193.43 L647.34,193.97 L647.57,194.48 L647.8,194.96 L648.03,195.41 L648.26,195.83 L648.49,196.23 L648.73,196.61 L648.96,196.96 L649.19,197.3 L649.42,197.61 L649.65,197.9 L649.88,198.17 L650.11,198.42 L650.34,198.65 L650.57,198.87 L650.8,199.07 L651.03,199.26 L651.27,199.44 L651.5,199.6 L651.73,199.75 L651.96,199.88 L652.19,200.01 L652.42,200.13 L652.65,200.24 L652.88,200.33 L653.11,200.42 L653.35,200.51 L653.58,200.58 L653.81,200.65 L654.04,200.72 L654.27,200.77 L654.5,200.83 L654.73,200.87 L654.96,200.92 L655.19,200.96 L655.42,200.99 L655.65,201.02 L655.89,201.05 L656.12,201.08 L656.35,201.1 L656.58,201.12 L656.81,201.14 L657.04,201.16 L657.27,201.18 L657.5,201.19 L657.73,201.2 L657.97,201.21 L658.2,201.22 L658.43,201.23 L658.66,201.24 L658.89,201.25 L659.12,201.25 L659.35,201.26 L659.58,201.26 L659.81,201.27 L660.04,201.27 L660.27,201.28 L660.51,201.28 L660.74,201.28 L660.97,201.28 L661.2,201.29 L661.43,201.29 L661.66,201.29 L661.89,201.29 L662.12,201.29 L662.35,201.29 L662.59,201.29 L662.82,201.29 L663.05,201.3 L663.28,201.3 L663.51,201.3 L663.74,201.3 L663.97,201.3 L664.2,201.3 L664.43,201.3 L664.66,201.3 L664.89,201.3 L665.13,201.3 L665.36,201.3 L665.59,201.3 L665.82,201.3 L666.05,201.3 L666.28,201.3 L666.51,201.3 L666.74,201.3 L666.97,201.3 L667.2,201.3 L667.2,201.3 L597.9,201.3 Z" fill="#e88a8a" stroke="none" stroke-width="1"/>
<path d="M597.9,201.3 L598.14,201.3 L598.37,201.3 L598.6,201.3 L598.83,201.3 L599.06,201.3 L599.29,201.3 L599.52,201.3 L599.75,201.3 L599.98,201.3 L600.22,201.3 L600.45,201.3 L600.68,201.3 L600.91,201.3 L601.14,201.3 L601.37,201.3 L601.6,201.3 L601.83,201.3 L602.06,201.3 L602.29,201.3 L602.52,201.29 L602.76,201.29 L602.99,201.29 L603.22,201.29 L603.45,201.29 L603.68,201.29 L603.91,201.29 L604.14,201.28 L604.37,201.28 L604.6,201.28 L604.83,201.28 L605.07,201.27 L605.3,201.27 L605.53,201.26 L605.76,201.26 L605.99,201.25 L606.22,201.25 L606.45,201.24 L606.68,201.23 L606.91,201.22 L607.14,201.21 L607.38,201.2 L607.61,201.19 L607.84,201.18 L608.07,201.16 L608.3,201.14 L608.53,201.12 L608.76,201.1 L608.99,201.08 L609.22,201.05 L609.45,201.02 L609.69,200.99 L609.92,200.96 L610.15,200.92 L610.38,200.87 L610.61,200.83 L610.84,200.77 L611.07,200.72 L611.3,200.65 L611.53,200.58 L611.76,200.51 L612,200.42 L612.23,200.33 L612.46,200.24 L612.69,200.13 L612.92,200.01 L613.15,199.88 L613.38,199.75 L613.61,199.6 L613.84,199.44 L614.07,199.26 L614.31,199.07 L614.54,198.87 L614.77,198.65 L615,198.42 L615.23,198.17 L615.46,197.9 L615.69,197.61 L615.92,197.3 L616.15,196.96 L616.38,196.61 L616.62,196.23 L616.85,195.83 L617.08,195.41 L617.31,194.96 L617.54,194.48 L617.77,193.97 L618,193.43 L618.23,192.87 L618.46,192.27 L618.69,191.65 L618.93,190.99 L619.16,190.29 L619.39,189.57 L619.62,188.81 L619.85,188.01 L620.08,187.18 L620.31,186.32 L620.54,185.42 L620.77,184.48 L621,183.51 L621.24,182.51 L621.47,181.46 L621.7,180.39 L621.93,179.28 L622.16,178.14 L622.39,176.97 L622.62,175.76 L622.85,174.53 L623.08,173.26 L623.31,171.97 L623.55,170.66 L623.78,169.32 L624.01,167.96 L624.24,166.58 L624.47,165.18 L624.7,163.77 L624.93,162.34 L625.16,160.91 L625.39,159.47 L625.62,158.03 L625.86,156.59 L626.09,155.15 L626.32,153.72 L626.55,152.3 L626.78,150.89 L627.01,149.5 L627.24,148.13 L627.47,146.78 L627.7,145.46 L627.93,144.18 L628.17,142.92 L628.4,141.71 L628.63,140.54 L628.86,139.42 L629.09,138.34 L629.32,137.32 L629.55,136.35 L629.78,135.44 L630.01,134.6 L630.25,133.82 L630.48,133.1 L630.71,132.45 L630.94,131.88 L631.17,131.37 L631.4,130.94 L631.63,130.59 L631.86,130.32 L632.09,130.12 L632.32,130 L632.55,129.96 L632.79,130 L633.02,130.12 L633.25,130.94 L633.48,131.83 L633.71,132.79 L633.94,133.81 L634.17,134.89 L634.4,136.02 L634.63,137.21 L634.87,138.44 L635.1,139.72 L635.33,141.04 L635.56,142.4 L635.79,143.79 L636.02,145.21 L636.25,146.65 L636.48,148.12 L636.71,149.61 L636.94,151.11 L637.17,152.62 L637.41,154.13 L637.64,155.66 L637.87,157.18 L638.1,158.69 L638.33,160.21 L638.56,161.71 L638.79,163.2 L639.02,164.67 L639.25,166.13 L639.49,167.56 L639.72,168.97 L639.95,170.36 L640.18,171.72 L640.41,173.06 L640.64,174.36 L640.87,175.63 L641.1,176.87 L641.33,178.07 L641.56,179.24 L641.79,180.38 L642.03,181.47 L642.26,182.53 L642.49,183.56 L642.72,184.55 L642.95,185.49 L643.18,186.41 L643.41,187.28 L643.64,188.12 L643.87,188.92 L644.11,189.69 L644.34,190.42 L644.57,191.12 L644.8,191.78 L645.03,192.41 L645.26,193 L645.49,193.57 L645.72,194.1 L645.95,194.61 L646.18,195.08 L646.41,195.53 L646.65,195.96 L646.88,196.35 L647.11,196.73 L647.34,197.08 L647.57,197.4 L647.8,197.71 L648.03,197.99 L648.26,198.26 L648.49,198.51 L648.73,198.74 L648.96,198.95 L649.19,199.15 L649.42,199.33 L649.65,199.5 L649.88,199.66 L650.11,199.81 L650.34,199.94 L650.57,200.06 L650.8,200.18 L651.03,200.28 L651.27,200.38 L651.5,200.46 L651.73,200.54 L651.96,200.62 L652.19,200.68 L652.42,200.74 L652.65,200.8 L652.88,200.85 L653.11,200.9 L653.35,200.94 L653.58,200.98 L653.81,201.01 L654.04,201.04 L654.27,201.07 L654.5,201.09 L654.73,201.12 L654.96,201.14 L655.19,201.15 L655.42,201.17 L655.65,201.18 L655.89,201.2 L656.12,201.21 L656.35,201.22 L656.58,201.23 L656.81,201.24 L657.04,201.24 L657.27,201.25 L657.5,201.26 L657.73,201.26 L657.97,201.27 L658.2,201.27 L658.43,201.27 L658.66,201.28 L658.89,201.28 L659.12,201.28 L659.35,201.29 L659.58,201.29 L659.81,201.29 L660.04,201.29 L660.27,201.29 L660.51,201.29 L660.74,201.29 L660.97,201.29 L661.2,201.3 L661.43,201.3 L661.66,201.3 L661.89,201.3 L662.12,201.3 L662.35,201.3 L662.59,201.3 L662.82,201.3 L663.05,201.3 L663.28,201.3 L663.51,201.3 L663.74,201.3 L663.97,201.3 L664.2,201.3 L664.43,201.3 L664.66,201.3 L664.89,201.3 L665.13,201.3 L665.36,201.3 L665.59,201.3 L665.82,201.3 L666.05,201.3 L666.28,201.3 L666.51,201.3 L666.74,201.3 L666.97,201.3 L667.2,201.3 L667.2,201.3 L597.9,201.3 Z" fill="#dd4848" stroke="none" stroke-width="1"/>
<path d="M597.9,201.3 L598.14,201.3 L598.37,201.3 L598.6,201.3 L598.83,201.3 L599.06,201.3 L599.29,201.3 L599.52,201.3 L599.75,201.3 L599.98,201.3 L600.22,201.3 L600.45,201.3 L600.68,201.3 L600.91,201.3 L601.14,201.3 L601.37,201.3 L601.6,201.3 L601.83,201.3 L602.06,201.3 L602.29,201.3 L602.52,201.29 L602.76,201.29 L602.99,201.29 L603.22,201.29 L603.45,201.29 L603.68,201.29 L603.91,201.29 L604.14,201.28 L604.37,201.28 L604.6,201.28 L604.83,201.27 L605.07,201.27 L605.3,201.27 L605.53,201.26 L605.76,201.26 L605.99,201.25 L606.22,201.24 L606.45,201.23 L606.68,201.22 L606.91,201.21 L607.14,201.2 L607.38,201.19 L607.61,201.17 L607.84,201.15 L608.07,201.14 L608.3,201.11 L608.53,201.09 L608.76,201.06 L608.99,201.03 L609.22,201 L609.45,200.96 L609.69,200.92 L609.92,200.87 L610.15,200.82 L610.38,200.76 L610.61,200.7 L610.84,200.63 L611.07,200.55 L611.3,200.46 L611.53,200.37 L611.76,200.27 L612,200.15 L612.23,200.03 L612.46,199.89 L612.69,199.75 L612.92,199.58 L613.15,199.41 L613.38,199.22 L613.61,199.01 L613.84,198.78 L614.07,198.54 L614.31,198.28 L614.54,197.99 L614.77,197.69 L615,197.36 L615.23,197 L615.46,196.62 L615.69,196.21 L615.92,195.78 L616.15,195.31 L616.38,194.82 L616.62,194.29 L616.85,193.72 L617.08,193.13 L617.31,192.49 L617.54,191.82 L617.77,191.12 L618,190.37 L618.23,189.58 L618.46,188.75 L618.69,187.88 L618.93,186.97 L619.16,186.02 L619.39,185.02 L619.62,183.99 L619.85,182.9 L620.08,181.78 L620.31,180.61 L620.54,179.41 L620.77,178.16 L621,176.87 L621.24,175.54 L621.47,174.17 L621.7,172.77 L621.93,171.34 L622.16,169.87 L622.39,168.37 L622.62,166.85 L622.85,165.3 L623.08,163.72 L623.31,162.13 L623.55,160.53 L623.78,158.91 L624.01,157.29 L624.24,155.66 L624.47,154.03 L624.7,152.4 L624.93,150.78 L625.16,149.18 L625.39,147.59 L625.62,146.03 L625.86,144.49 L626.09,142.99 L626.32,141.52 L626.55,140.09 L626.78,138.71 L627.01,137.38 L627.24,136.1 L627.47,134.89 L627.7,133.73 L627.93,132.65 L628.17,131.63 L628.4,130.69 L628.63,129.83 L628.86,129.05 L629.09,128.36 L629.32,127.75 L629.55,127.24 L629.78,126.81 L630.01,126.48 L630.25,126.24 L630.48,126.09 L630.71,126.05 L630.94,126.09 L631.17,126.21 L631.4,126.42 L631.63,126.71 L631.86,127.08 L632.09,127.54 L632.32,128.07 L632.55,128.67 L632.79,129.36 L633.02,130.11 L633.25,130.94 L633.48,131.83 L633.71,132.79 L633.94,133.81 L634.17,134.89 L634.4,136.02 L634.63,137.21 L634.87,138.44 L635.1,139.72 L635.33,141.04 L635.56,142.4 L635.79,143.79 L636.02,145.21 L636.25,146.65 L636.48,148.12 L636.71,149.61 L636.94,151.11 L637.17,152.62 L637.41,154.13 L637.64,155.66 L637.87,157.18 L638.1,158.69 L638.33,160.21 L638.56,161.71 L638.79,163.2 L639.02,164.67 L639.25,166.13 L639.49,167.56 L639.72,168.97 L639.95,170.36 L640.18,171.72 L640.41,173.06 L640.64,174.36 L640.87,175.63 L641.1,176.87 L641.33,178.07 L641.56,179.24 L641.79,180.38 L642.03,181.47 L642.26,182.53 L642.49,183.56 L642.72,184.55 L642.95,185.49 L643.18,186.41 L643.41,187.28 L643.64,188.12 L643.87,188.92 L644.11,189.69 L644.34,190.42 L644.57,191.12 L644.8,191.78 L645.03,192.41 L645.26,193 L645.49,193.57 L645.72,194.1 L645.95,194.61 L646.18,195.08 L646.41,195.53 L646.65,195.96 L646.88,196.35 L647.11,196.73 L647.34,197.08 L647.57,197.4 L647.8,197.71 L648.03,197.99 L648.26,198.26 L648.49,198.51 L648.73,198.74 L648.96,198.95 L649.19,199.15 L649.42,199.33 L649.65,199.5 L649.88,199.66 L650.11,199.81 L650.34,199.94 L650.57,200.06 L650.8,200.18 L651.03,200.28 L651.27,200.38 L651.5,200.46 L651.73,200.54 L651.96,200.62 L652.19,200.68 L652.42,200.74 L652.65,200.8 L652.88,200.85 L653.11,200.9 L653.35,200.94 L653.58,200.98 L653.81,201.01 L654.04,201.04 L654.27,201.07 L654.5,201.09 L654.73,201.12 L654.96,201.14 L655.19,201.15 L655.42,201.17 L655.65,201.18 L655.89,201.2 L656.12,201.21 L656.35,201.22 L656.58,201.23 L656.81,201.24 L657.04,201.24 L657.27,201.25 L657.5,201.26 L657.73,201.26 L657.97,201.27 L658.2,201.27 L658.43,201.27 L658.66,201.28 L658.89,201.28 L659.12,201.28 L659.35,201.29 L659.58,201.29 L659.81,201.29 L660.04,201.29 L660.27,201.29 L660.51,201.29 L660.74,201.29 L660.97,201.29 L661.2,201.3 L661.43,201.3 L661.66,201.3 L661.89,201.3 L662.12,201.3 L662.35,201.3 L662.59,201.3 L662.82,201.3 L663.05,201.3 L663.28,201.3 L663.51,201.3 L663.74,201.3 L663.97,201.3 L664.2,201.3 L664.43,201.3 L664.66,201.3 L664.89,201.3 L665.13,201.3 L665.36,201.3 L665.59,201.3 L665.82,201.3 L666.05,201.3 L666.28,201.3 L666.51,201.3 L666.74,201.3 L666.97,201.3 L667.2,201.3" fill="none" stroke="#444" stroke-width="0.6"/>
<path d="M597.9,201.3 L598.14,201.3 L598.37,201.3 L598.6,201.3 L598.83,201.3 L599.06,201.3 L599.29,201.3 L599.52,201.3 L599.75,201.3 L599.98,201.3 L600.22,201.3 L600.45,201.3 L600.68,201.3 L600.91,201.3 L601.14,201.3 L601.37,201.3 L601.6,201.3 L601.83,201.3 L602.06,201.29 L602.29,201.29 L602.52,201.29 L602.76,201.29 L602.99,201.29 L603.22,201.29 L603.45,201.29 L603.68,201.29 L603.91,201.28 L604.14,201.28 L604.37,201.28 L604.6,201.28 L604.83,201.27 L605.07,201.27 L605.3,201.26 L605.53,201.26 L605.76,201.25 L605.99,201.24 L606.22,201.24 L606.45,201.23 L606.68,201.22 L606.91,201.21 L607.14,201.19 L607.38,201.18 L607.61,201.17 L607.84,201.15 L608.07,201.13 L608.3,201.11 L608.53,201.08 L608.76,201.05 L608.99,201.02 L609.22,200.99 L609.45,200.95 L609.69,200.91 L609.92,200.87 L610.15,200.82 L610.38,200.76 L610.61,200.7 L610.84,200.63 L611.07,200.56 L611.3,200.48 L611.53,200.39 L611.76,200.29 L612,200.19 L612.23,200.07 L612.46,199.94 L612.69,199.8 L612.92,199.65 L613.15,199.49 L613.38,199.31 L613.61,199.12 L613.84,198.91 L614.07,198.69 L614.31,198.45 L614.54,198.19 L614.77,197.91 L615,197.61 L615.23,197.28 L615.46,196.94 L615.69,196.57 L615.92,196.17 L616.15,195.75 L616.38,195.3 L616.62,194.82 L616.85,194.32 L617.08,193.78 L617.31,193.21 L617.54,192.6 L617.77,191.96 L618,191.29 L618.23,190.58 L618.46,189.84 L618.69,189.06 L618.93,188.24 L619.16,187.38 L619.39,186.48 L619.62,185.55 L619.85,184.57 L620.08,183.56 L620.31,182.5 L620.54,181.41 L620.77,180.28 L621,179.11 L621.24,177.91 L621.47,176.67 L621.7,175.39 L621.93,174.08 L622.16,172.74 L622.39,171.36 L622.62,169.96 L622.85,168.53 L623.08,167.08 L623.31,165.6 L623.55,164.11 L623.78,162.6 L624.01,161.07 L624.24,159.54 L624.47,157.99 L624.7,156.45 L624.93,154.9 L625.16,153.36 L625.39,151.82 L625.62,150.3 L625.86,148.79 L626.09,147.31 L626.32,145.84 L626.55,144.41 L626.78,143 L627.01,141.63 L627.24,140.31 L627.47,139.02 L627.7,137.79 L627.93,136.61 L628.17,135.48 L628.4,134.42 L628.63,133.42 L628.86,132.48 L629.09,131.62 L629.32,130.83 L629.55,130.11 L629.78,129.47 L630.01,128.92 L630.25,128.44 L630.48,128.05 L630.71,127.74 L630.94,127.53 L631.17,127.39 L631.4,127.35 L631.63,127.39 L631.86,127.51 L632.09,127.72 L632.32,128 L632.55,128.37 L632.79,128.81 L633.02,129.34 L633.25,129.93 L633.48,130.6 L633.71,131.35 L633.94,132.16 L634.17,133.04 L634.4,133.98 L634.63,134.98 L634.87,136.04 L635.1,137.15 L635.33,138.32 L635.56,139.53 L635.79,140.79 L636.02,142.09 L636.25,143.42 L636.48,144.79 L636.71,146.18 L636.94,147.6 L637.17,149.04 L637.41,150.5 L637.64,151.98 L637.87,153.46 L638.1,154.95 L638.33,156.45 L638.56,157.94 L638.79,159.43 L639.02,160.92 L639.25,162.39 L639.49,163.86 L639.72,165.3 L639.95,166.74 L640.18,168.15 L640.41,169.53 L640.64,170.9 L640.87,172.24 L641.1,173.55 L641.33,174.83 L641.56,176.08 L641.79,177.29 L642.03,178.48 L642.26,179.62 L642.49,180.74 L642.72,181.82 L642.95,182.86 L643.18,183.87 L643.41,184.84 L643.64,185.77 L643.87,186.67 L644.11,187.53 L644.34,188.35 L644.57,189.14 L644.8,189.89 L645.03,190.61 L645.26,191.29 L645.49,191.94 L645.72,192.56 L645.95,193.15 L646.18,193.7 L646.41,194.23 L646.65,194.72 L646.88,195.19 L647.11,195.63 L647.34,196.05 L647.57,196.44 L647.8,196.81 L648.03,197.15 L648.26,197.47 L648.49,197.77 L648.73,198.05 L648.96,198.31 L649.19,198.56 L649.42,198.78 L649.65,198.99 L649.88,199.19 L650.11,199.37 L650.34,199.54 L650.57,199.69 L650.8,199.83 L651.03,199.96 L651.27,200.09 L651.5,200.2 L651.73,200.3 L651.96,200.39 L652.19,200.48 L652.42,200.56 L652.65,200.63 L652.88,200.69 L653.11,200.75 L653.35,200.81 L653.58,200.86 L653.81,200.9 L654.04,200.94 L654.27,200.98 L654.5,201.01 L654.73,201.04 L654.96,201.07 L655.19,201.1 L655.42,201.12 L655.65,201.14 L655.89,201.16 L656.12,201.17 L656.35,201.19 L656.58,201.2 L656.81,201.21 L657.04,201.22 L657.27,201.23 L657.5,201.24 L657.73,201.25 L657.97,201.25 L658.2,201.26 L658.43,201.26 L658.66,201.27 L658.89,201.27 L659.12,201.28 L659.35,201.28 L659.58,201.28 L659.81,201.28 L660.04,201.29 L660.27,201.29 L660.51,201.29 L660.74,201.29 L660.97,201.29 L661.2,201.29 L661.43,201.29 L661.66,201.29 L661.89,201.3 L662.12,201.3 L662.35,201.3 L662.59,201.3 L662.82,201.3 L663.05,201.3 L663.28,201.3 L663.51,201.3 L663.74,201.3 L663.97,201.3 L664.2,201.3 L664.43,201.3 L664.66,201.3 L664.89,201.3 L665.13,201.3 L665.36,201.3 L665.59,201.3 L665.82,201.3 L666.05,201.3 L666.28,201.3 L666.51,201.3 L666.74,201.3 L666.97,201.3 L667.2,201.3" fill="none" stroke="#444" stroke-width="0.6"/>
<path d="M597.9,201.3 L598.14,201.3 L598.37,201.3 L598.6,201.3 L598.83,201.3 L599.06,201.3 L599.29,201.3 L599.52,201.3 L599.75,201.3 L599.98,201.3 L600.22,201.3 L600.45,201.3 L600.68,201.3 L600.91,201.3 L601.14,201.3 L601.37,201.3 L601.6,201.3 L601.83,201.3 L602.06,201.3 L602.29,201.29 L602.52,201.29 L602.76,201.29 L602.99,201.29 L603.22,201.29 L603.45,201.29 L603.68,201.29 L603.91,201.29 L604.14,201.28 L604.37,201.28 L604.6,201.28 L604.83,201.28 L605.07,201.27 L605.3,201.27 L605.53,201.26 L605.76,201.26 L605.99,201.25 L606.22,201.25 L606.45,201.24 L606.68,201.23 L606.91,201.22 L607.14,201.21 L607.38,201.2 L607.61,201.19 L607.84,201.18 L608.07,201.16 L608.3,201.14 L608.53,201.12 L608.76,201.1 L608.99,201.08 L609.22,201.05 L609.45,201.02 L609.69,200.99 L609.92,200.96 L610.15,200.92 L610.38,200.87 L610.61,200.83 L610.84,200.77 L611.07,200.72 L611.3,200.65 L611.53,200.58 L611.76,200.51 L612,200.42 L612.23,200.33 L612.46,200.24 L612.69,200.13 L612.92,200.01 L613.15,199.88 L613.38,199.75 L613.61,199.6 L613.84,199.44 L614.07,199.26 L614.31,199.07 L614.54,198.87 L614.77,198.65 L615,198.42 L615.23,198.17 L615.46,197.9 L615.69,197.61 L615.92,197.3 L616.15,196.96 L616.38,196.61 L616.62,196.23 L616.85,195.83 L617.08,195.41 L617.31,194.96 L617.54,194.48 L617.77,193.97 L618,193.43 L618.23,192.87 L618.46,192.27 L618.69,191.65 L618.93,190.99 L619.16,190.29 L619.39,189.57 L619.62,188.81 L619.85,188.01 L620.08,187.18 L620.31,186.32 L620.54,185.42 L620.77,184.48 L621,183.51 L621.24,182.51 L621.47,181.46 L621.7,180.39 L621.93,179.28 L622.16,178.14 L622.39,176.97 L622.62,175.76 L622.85,174.53 L623.08,173.26 L623.31,171.97 L623.55,170.66 L623.78,169.32 L624.01,167.96 L624.24,166.58 L624.47,165.18 L624.7,163.77 L624.93,162.34 L625.16,160.91 L625.39,159.47 L625.62,158.03 L625.86,156.59 L626.09,155.15 L626.32,153.72 L626.55,152.3 L626.78,150.89 L627.01,149.5 L627.24,148.13 L627.47,146.78 L627.7,145.46 L627.93,144.18 L628.17,142.92 L628.4,141.71 L628.63,140.54 L628.86,139.42 L629.09,138.34 L629.32,137.32 L629.55,136.35 L629.78,135.44 L630.01,134.6 L630.25,133.82 L630.48,133.1 L630.71,132.45 L630.94,131.88 L631.17,131.37 L631.4,130.94 L631.63,130.59 L631.86,130.32 L632.09,130.12 L632.32,130 L632.55,129.96 L632.79,130 L633.02,130.12 L633.25,130.32 L633.48,130.59 L633.71,130.94 L633.94,131.37 L634.17,131.88 L634.4,132.45 L634.63,133.1 L634.87,133.82 L635.1,134.6 L635.33,135.44 L635.56,136.35 L635.79,137.32 L636.02,138.34 L636.25,139.42 L636.48,140.54 L636.71,141.71 L636.94,142.92 L637.17,144.18 L637.41,145.46 L637.64,146.78 L637.87,148.13 L638.1,149.5 L638.33,150.89 L638.56,152.3 L638.79,153.72 L639.02,155.15 L639.25,156.59 L639.49,158.03 L639.72,159.47 L639.95,160.91 L640.18,162.34 L640.41,163.77 L640.64,165.18 L640.87,166.58 L641.1,167.96 L641.33,169.32 L641.56,170.66 L641.79,171.97 L642.03,173.26 L642.26,174.53 L642.49,175.76 L642.72,176.97 L642.95,178.14 L643.18,179.28 L643.41,180.39 L643.64,181.46 L643.87,182.51 L644.11,183.51 L644.34,184.48 L644.57,185.42 L644.8,186.32 L645.03,187.18 L645.26,188.01 L645.49,188.81 L645.72,189.57 L645.95,190.29 L646.18,190.99 L646.41,191.65 L646.65,192.27 L646.88,192.87 L647.11,193.43 L647.34,193.97 L647.57,194.48 L647.8,194.96 L648.03,195.41 L648.26,195.83 L648.49,196.23 L648.73,196.61 L648.96,196.96 L649.19,197.3 L649.42,197.61 L649.65,197.9 L649.88,198.17 L650.11,198.42 L650.34,198.65 L650.57,198.87 L650.8,199.07 L651.03,199.26 L651.27,199.44 L651.5,199.6 L651.73,199.75 L651.96,199.88 L652.19,200.01 L652.42,200.13 L652.65,200.24 L652.88,200.33 L653.11,200.42 L653.35,200.51 L653.58,200.58 L653.81,200.65 L654.04,200.72 L654.27,200.77 L654.5,200.83 L654.73,200.87 L654.96,200.92 L655.19,200.96 L655.42,200.99 L655.65,201.02 L655.89,201.05 L656.12,201.08 L656.35,201.1 L656.58,201.12 L656.81,201.14 L657.04,201.16 L657.27,201.18 L657.5,201.19 L657.73,201.2 L657.97,201.21 L658.2,201.22 L658.43,201.23 L658.66,201.24 L658.89,201.25 L659.12,201.25 L659.35,201.26 L659.58,201.26 L659.81,201.27 L660.04,201.27 L660.27,201.28 L660.51,201.28 L660.74,201.28 L660.97,201.28 L661.2,201.29 L661.43,201.29 L661.66,201.29 L661.89,201.29 L662.12,201.29 L662.35,201.29 L662.59,201.29 L662.82,201.29 L663.05,201.3 L663.28,201.3 L663.51,201.3 L663.74,201.3 L663.97,201.3 L664.2,201.3 L664.43,201.3 L664.66,201.3 L664.89,201.3 L665.13,201.3 L665.36,201.3 L665.59,201.3 L665.82,201.3 L666.05,201.3 L666.28,201.3 L666.51,201.3 L666.74,201.3 L666.97,201.3 L667.2,201.3" fill="none" stroke="#555" stroke-width="0.6"/>
<line x1="631.4" y1="122" x2="631.4" y2="203" stroke="#333" stroke-width="0.6"/>
<line x1="580.6" y1="203.3" x2="580.6" y2="125" stroke="#9a9a9a" stroke-width="0.9"/>
<line x1="580.6" y1="203.3" x2="681.5" y2="203.3" stroke="#9a9a9a" stroke-width="0.9"/>
<path d="M580.6,123.5 L581.6,125.5 L579.6,125.5 Z" fill="#9a9a9a" stroke="none" stroke-width="1"/>
<path d="M683,203.3 L681,204.3 L681,202.3 Z" fill="#9a9a9a" stroke="none" stroke-width="1"/>
<text x="577.8" y="204.14" font-size="7.1" text-anchor="end" fill="#000" stroke="#000" stroke-width="0.2">0.0</text>
<text x="577.8" y="186.74" font-size="7.1" text-anchor="end" fill="#000" stroke="#000" stroke-width="0.2">0.2</text>
<text x="577.8" y="169.34" font-size="7.1" text-anchor="end" fill="#000" stroke="#000" stroke-width="0.2">0.4</text>
<text x="577.8" y="151.94" font-size="7.1" text-anchor="end" fill="#000" stroke="#000" stroke-width="0.2">0.6</text>
<text x="577.8" y="134.54" font-size="7.1" text-anchor="end" fill="#000" stroke="#000" stroke-width="0.2">0.8</text>
<text x="584.7" y="212.44" font-size="7.1" text-anchor="middle" fill="#000" stroke="#000" stroke-width="0.2">-4</text>
<text x="607.8" y="212.44" font-size="7.1" text-anchor="middle" fill="#000" stroke="#000" stroke-width="0.2">-2</text>
<text x="631.4" y="212.44" font-size="7.1" text-anchor="middle" fill="#000" stroke="#000" stroke-width="0.2">0</text>
<text x="654.5" y="212.44" font-size="7.1" text-anchor="middle" fill="#000" stroke="#000" stroke-width="0.2">2</text>
<text x="677.6" y="212.44" font-size="7.1" text-anchor="middle" fill="#000" stroke="#000" stroke-width="0.2">4</text>
<text x="580.8" y="123.2" font-size="7.6" text-anchor="end" fill="#000" stroke="#000" stroke-width="0.2">Density</text>
<text x="635.2" y="103" font-size="11" text-anchor="middle" fill="#000" font-weight="bold" stroke="#000" stroke-width="0.1">2021</text>
<text x="1.5" y="321.9" font-size="9.2" text-anchor="start" fill="#000" font-weight="bold" stroke="#000" stroke-width="0.1">B. Math gender gaps as a function of class size, class initial math level, class</text>
<text x="1.5" y="332.1" font-size="9.2" text-anchor="start" fill="#000" font-weight="bold" stroke="#000" stroke-width="0.1">heterogeneity and boys-girls ratio per class</text>
<text x="212.3" y="361.4" font-size="11" text-anchor="middle" fill="#000" font-weight="bold" stroke="#000" stroke-width="0.1">2018</text>
<text x="50.9" y="382.1" font-size="8" text-anchor="end" fill="#000" stroke="#000" stroke-width="0.2">Gender gap</text>
<text x="50.9" y="391.6" font-size="8" text-anchor="end" fill="#000" stroke="#000" stroke-width="0.2">in math</text>
<text x="50.9" y="401.1" font-size="8" text-anchor="end" fill="#000" stroke="#000" stroke-width="0.2">(Cohen’s d)</text>
<text x="37.4" y="454.11" font-size="7" text-anchor="end" fill="#000" stroke="#000" stroke-width="0.2">Advantage</text>
<text x="37.4" y="461.55" font-size="7" text-anchor="end" fill="#000" stroke="#000" stroke-width="0.2">for boys</text>
<text x="37.4" y="475.21" font-size="7" text-anchor="end" fill="#000" stroke="#000" stroke-width="0.2">Advantage</text>
<text x="37.4" y="482.05" font-size="7" text-anchor="end" fill="#000" stroke="#000" stroke-width="0.2">for girls</text>
<line x1="42.3" y1="453" x2="42.3" y2="463.6" stroke="#000" stroke-width="1.6"/>
<path d="M42.3,447.1 L45.7,453.8 L38.9,453.8 Z" fill="#000" stroke="none" stroke-width="1"/>
<line x1="42.3" y1="468.1" x2="42.3" y2="479" stroke="#000" stroke-width="1.6"/>
<path d="M42.3,484.6 L38.9,478.1 L45.7,478.1 Z" fill="#000" stroke="none" stroke-width="1"/>
<line x1="59.9" y1="475" x2="124.5" y2="475" stroke="#f7f7f7" stroke-width="0.6"/>
<line x1="59.9" y1="467.2" x2="124.5" y2="467.2" stroke="#f0f0f0" stroke-width="0.6"/>
<line x1="59.9" y1="459.4" x2="124.5" y2="459.4" stroke="#f7f7f7" stroke-width="0.6"/>
<line x1="59.9" y1="451.6" x2="124.5" y2="451.6" stroke="#f0f0f0" stroke-width="0.6"/>
<line x1="59.9" y1="443.8" x2="124.5" y2="443.8" stroke="#f7f7f7" stroke-width="0.6"/>
<line x1="59.9" y1="436" x2="124.5" y2="436" stroke="#f0f0f0" stroke-width="0.6"/>
<line x1="59.9" y1="428.2" x2="124.5" y2="428.2" stroke="#f7f7f7" stroke-width="0.6"/>
<line x1="59.9" y1="420.4" x2="124.5" y2="420.4" stroke="#f0f0f0" stroke-width="0.6"/>
<line x1="59.9" y1="412.6" x2="124.5" y2="412.6" stroke="#f7f7f7" stroke-width="0.6"/>
<line x1="70.5" y1="410.8" x2="70.5" y2="479.4" stroke="#f2f2f2" stroke-width="0.6"/>
<line x1="87.7" y1="410.8" x2="87.7" y2="479.4" stroke="#f2f2f2" stroke-width="0.6"/>
<line x1="104.6" y1="410.8" x2="104.6" y2="479.4" stroke="#f2f2f2" stroke-width="0.6"/>
<line x1="121.6" y1="410.8" x2="121.6" y2="479.4" stroke="#f2f2f2" stroke-width="0.6"/>
<path d="M62.2,427.9 L121.6,420.9 L121.6,425.3 L62.2,432.3 Z" fill="#c8c8cc" stroke="none" stroke-width="1" fill-opacity="0.75"/>
<line x1="62.2" y1="430.1" x2="121.6" y2="423.1" stroke="#26266e" stroke-width="0.8"/>
<circle cx="62.2" cy="428.6" r="1.0" fill="#1b1b63"/>
<circle cx="68.8" cy="429" r="1.0" fill="#1b1b63"/>
<circle cx="75.4" cy="431.8" r="1.0" fill="#1b1b63"/>
<circle cx="82" cy="428.6" r="1.0" fill="#1b1b63"/>
<circle cx="88.6" cy="425.9" r="1.0" fill="#1b1b63"/>
<circle cx="95.2" cy="424.9" r="1.0" fill="#1b1b63"/>
<circle cx="101.8" cy="425.7" r="1.0" fill="#1b1b63"/>
<circle cx="108.4" cy="424.5" r="1.0" fill="#1b1b63"/>
<circle cx="115" cy="422.8" r="1.0" fill="#1b1b63"/>
<circle cx="121.6" cy="423.4" r="1.0" fill="#1b1b63"/>
<path d="M62.2,455.2 L121.6,452.1 L121.6,456.1 L62.2,459.2 Z" fill="#c8c8cc" stroke="none" stroke-width="1" fill-opacity="0.75"/>
<line x1="62.2" y1="457.2" x2="121.6" y2="454.1" stroke="#3a33c8" stroke-width="0.8"/>
<circle cx="62.2" cy="454.9" r="1.0" fill="#2b23c6"/>
<circle cx="68.8" cy="457.2" r="1.0" fill="#2b23c6"/>
<circle cx="75.4" cy="459" r="1.0" fill="#2b23c6"/>
<circle cx="82" cy="455.8" r="1.0" fill="#2b23c6"/>
<circle cx="88.6" cy="455.8" r="1.0" fill="#2b23c6"/>
<circle cx="95.2" cy="455.8" r="1.0" fill="#2b23c6"/>
<circle cx="101.8" cy="454.5" r="1.0" fill="#2b23c6"/>
<circle cx="108.4" cy="455.5" r="1.0" fill="#2b23c6"/>
<circle cx="115" cy="453.2" r="1.0" fill="#2b23c6"/>
<circle cx="121.6" cy="454.7" r="1.0" fill="#2b23c6"/>
<path d="M62.2,466.9 L121.6,463.8 L121.6,467.4 L62.2,470.5 Z" fill="#cfe3e6" stroke="none" stroke-width="1" fill-opacity="0.75"/>
<line x1="62.2" y1="468.7" x2="121.6" y2="465.6" stroke="#6dcde0" stroke-width="0.8"/>
<circle cx="62.2" cy="467.5" r="1.0" fill="#5cc6dc"/>
<circle cx="68.8" cy="468" r="1.0" fill="#5cc6dc"/>
<circle cx="75.4" cy="469.8" r="1.0" fill="#5cc6dc"/>
<circle cx="82" cy="467" r="1.0" fill="#5cc6dc"/>
<circle cx="88.6" cy="467.5" r="1.0" fill="#5cc6dc"/>
<circle cx="95.2" cy="466.5" r="1.0" fill="#5cc6dc"/>
<circle cx="101.8" cy="468.8" r="1.0" fill="#5cc6dc"/>
<circle cx="108.4" cy="466.5" r="1.0" fill="#5cc6dc"/>
<circle cx="115" cy="466" r="1.0" fill="#5cc6dc"/>
<circle cx="121.6" cy="465.5" r="1.0" fill="#5cc6dc"/>
<line x1="59.4" y1="467.2" x2="124.5" y2="467.2" stroke="#3c4a4a" stroke-width="1.1"/>
<line x1="59.4" y1="409.8" x2="59.4" y2="479.4" stroke="#555" stroke-width="1.1"/>
<text x="56.9" y="422.91" font-size="7" text-anchor="end" fill="#000" stroke="#000" stroke-width="0.2">0.3</text>
<text x="56.9" y="438.51" font-size="7" text-anchor="end" fill="#000" stroke="#000" stroke-width="0.2">0.2</text>
<text x="56.9" y="454.11" font-size="7" text-anchor="end" fill="#000" stroke="#000" stroke-width="0.2">0.1</text>
<text x="56.9" y="469.71" font-size="7" text-anchor="end" fill="#000" stroke="#000" stroke-width="0.2">0.0</text>
<text x="94" y="395.4" font-size="8" text-anchor="middle" fill="#000" stroke="#000" stroke-width="0.2">Class size</text>
<text x="70.5" y="486.01" font-size="7" text-anchor="middle" fill="#000" stroke="#000" stroke-width="0.2">9</text>
<text x="87.7" y="486.01" font-size="7" text-anchor="middle" fill="#000" stroke="#000" stroke-width="0.2">15</text>
<text x="104.6" y="486.01" font-size="7" text-anchor="middle" fill="#000" stroke="#000" stroke-width="0.2">21</text>
<text x="121.6" y="486.01" font-size="7" text-anchor="middle" fill="#000" stroke="#000" stroke-width="0.2">27</text>
<text x="86.3" y="494.66" font-size="7" text-anchor="middle" fill="#000" stroke="#000" stroke-width="0.2">Number of children</text>
<text x="86.3" y="502.86" font-size="7" text-anchor="middle" fill="#000" stroke="#000" stroke-width="0.2">per class</text>
<text x="90" y="423.36" font-size="6.3" text-anchor="middle" fill="#26266e" font-weight="bold" stroke="#26266e" stroke-width="0.1">T3</text>
<text x="89.8" y="451.06" font-size="6.3" text-anchor="middle" fill="#3a33c8" font-weight="bold" stroke="#3a33c8" stroke-width="0.1">T2</text>
<text x="90" y="464.76" font-size="6.3" text-anchor="middle" fill="#8ad6e6" font-weight="bold" stroke="#8ad6e6" stroke-width="0.1">T1</text>
<line x1="141.6" y1="474.15" x2="207.7" y2="474.15" stroke="#f7f7f7" stroke-width="0.6"/>
<line x1="141.6" y1="466.4" x2="207.7" y2="466.4" stroke="#f0f0f0" stroke-width="0.6"/>
<line x1="141.6" y1="458.65" x2="207.7" y2="458.65" stroke="#f7f7f7" stroke-width="0.6"/>
<line x1="141.6" y1="450.9" x2="207.7" y2="450.9" stroke="#f0f0f0" stroke-width="0.6"/>
<line x1="141.6" y1="443.15" x2="207.7" y2="443.15" stroke="#f7f7f7" stroke-width="0.6"/>
<line x1="141.6" y1="435.4" x2="207.7" y2="435.4" stroke="#f0f0f0" stroke-width="0.6"/>
<line x1="141.6" y1="427.65" x2="207.7" y2="427.65" stroke="#f7f7f7" stroke-width="0.6"/>
<line x1="141.6" y1="419.9" x2="207.7" y2="419.9" stroke="#f0f0f0" stroke-width="0.6"/>
<line x1="141.6" y1="412.15" x2="207.7" y2="412.15" stroke="#f7f7f7" stroke-width="0.6"/>
<line x1="157.6" y1="410.7" x2="157.6" y2="478.7" stroke="#f2f2f2" stroke-width="0.6"/>
<line x1="174.8" y1="410.7" x2="174.8" y2="478.7" stroke="#f2f2f2" stroke-width="0.6"/>
<line x1="192" y1="410.7" x2="192" y2="478.7" stroke="#f2f2f2" stroke-width="0.6"/>
<path d="M143.9,429.6 L205.4,412.2 L205.4,420.2 L143.9,435.6 Z" fill="#c8c8cc" stroke="none" stroke-width="1" fill-opacity="0.75"/>
<line x1="143.9" y1="432.6" x2="205.4" y2="416.2" stroke="#26266e" stroke-width="0.8"/>
<circle cx="143.9" cy="439.8" r="1.0" fill="#1b1b63"/>
<circle cx="150.73" cy="427.7" r="1.0" fill="#1b1b63"/>
<circle cx="157.57" cy="427.7" r="1.0" fill="#1b1b63"/>
<circle cx="164.4" cy="425.8" r="1.0" fill="#1b1b63"/>
<circle cx="171.23" cy="422.4" r="1.0" fill="#1b1b63"/>
<circle cx="178.07" cy="421.7" r="1.0" fill="#1b1b63"/>
<circle cx="184.9" cy="421.7" r="1.0" fill="#1b1b63"/>
<circle cx="191.73" cy="419.9" r="1.0" fill="#1b1b63"/>
<circle cx="198.57" cy="418.1" r="1.0" fill="#1b1b63"/>
<circle cx="205.4" cy="419.9" r="1.0" fill="#1b1b63"/>
<path d="M143.9,457 L205.4,445.4 L205.4,451.8 L143.9,462.2 Z" fill="#c8c8cc" stroke="none" stroke-width="1" fill-opacity="0.75"/>
<line x1="143.9" y1="459.6" x2="205.4" y2="448.6" stroke="#3a33c8" stroke-width="0.8"/>
<circle cx="143.9" cy="464.7" r="1.0" fill="#2b23c6"/>
<circle cx="150.73" cy="456.2" r="1.0" fill="#2b23c6"/>
<circle cx="157.57" cy="456.2" r="1.0" fill="#2b23c6"/>
<circle cx="164.4" cy="455.9" r="1.0" fill="#2b23c6"/>
<circle cx="171.23" cy="453.7" r="1.0" fill="#2b23c6"/>
<circle cx="178.07" cy="453.7" r="1.0" fill="#2b23c6"/>
<circle cx="184.9" cy="450" r="1.0" fill="#2b23c6"/>
<circle cx="191.73" cy="449.7" r="1.0" fill="#2b23c6"/>
<circle cx="198.57" cy="449.1" r="1.0" fill="#2b23c6"/>
<circle cx="205.4" cy="452.5" r="1.0" fill="#2b23c6"/>
<path d="M143.9,472 L205.4,454.3 L205.4,460.7 L143.9,477.2 Z" fill="#cfe3e6" stroke="none" stroke-width="1" fill-opacity="0.75"/>
<line x1="143.9" y1="474.6" x2="205.4" y2="457.5" stroke="#6dcde0" stroke-width="0.8"/>
<circle cx="143.9" cy="478" r="1.0" fill="#5cc6dc"/>
<circle cx="150.73" cy="471.9" r="1.0" fill="#5cc6dc"/>
<circle cx="157.57" cy="469.8" r="1.0" fill="#5cc6dc"/>
<circle cx="164.4" cy="468.2" r="1.0" fill="#5cc6dc"/>
<circle cx="171.23" cy="466.4" r="1.0" fill="#5cc6dc"/>
<circle cx="178.07" cy="464.4" r="1.0" fill="#5cc6dc"/>
<circle cx="184.9" cy="463.3" r="1.0" fill="#5cc6dc"/>
<circle cx="191.73" cy="461.6" r="1.0" fill="#5cc6dc"/>
<circle cx="198.57" cy="460.3" r="1.0" fill="#5cc6dc"/>
<circle cx="205.4" cy="458.9" r="1.0" fill="#5cc6dc"/>
<line x1="141.1" y1="466.4" x2="207.7" y2="466.4" stroke="#3c4a4a" stroke-width="1.1"/>
<line x1="141.1" y1="409.7" x2="141.1" y2="478.7" stroke="#555" stroke-width="1.1"/>
<text x="138.6" y="422.41" font-size="7" text-anchor="end" fill="#000" stroke="#000" stroke-width="0.2">0.3</text>
<text x="138.6" y="437.91" font-size="7" text-anchor="end" fill="#000" stroke="#000" stroke-width="0.2">0.2</text>
<text x="138.6" y="453.41" font-size="7" text-anchor="end" fill="#000" stroke="#000" stroke-width="0.2">0.1</text>
<text x="138.6" y="468.91" font-size="7" text-anchor="end" fill="#000" stroke="#000" stroke-width="0.2">0.0</text>
<text x="171.7" y="395" font-size="8" text-anchor="middle" fill="#000" stroke="#000" stroke-width="0.2">Math at T1</text>
<text x="171.7" y="404.2" font-size="8" text-anchor="middle" fill="#000" stroke="#000" stroke-width="0.2">per class</text>
<text x="142.8" y="488.26" font-size="7" text-anchor="middle" fill="#000" stroke="#000" stroke-width="0.2">Lowest</text>
<text x="200.9" y="488.26" font-size="7" text-anchor="middle" fill="#000" stroke="#000" stroke-width="0.2">Highest</text>
<text x="172.6" y="495.76" font-size="7" text-anchor="middle" fill="#000" stroke="#000" stroke-width="0.2">Deciles</text>
<text x="174.5" y="420.16" font-size="6.3" text-anchor="middle" fill="#26266e" font-weight="bold" stroke="#26266e" stroke-width="0.1">T3</text>
<text x="174.5" y="450.26" font-size="6.3" text-anchor="middle" fill="#3a33c8" font-weight="bold" stroke="#3a33c8" stroke-width="0.1">T2</text>
<text x="174.2" y="463.86" font-size="6.3" text-anchor="middle" fill="#8ad6e6" font-weight="bold" stroke="#8ad6e6" stroke-width="0.1">T1</text>
<line x1="224" y1="474.15" x2="292.5" y2="474.15" stroke="#f7f7f7" stroke-width="0.6"/>
<line x1="224" y1="466.4" x2="292.5" y2="466.4" stroke="#f0f0f0" stroke-width="0.6"/>
<line x1="224" y1="458.65" x2="292.5" y2="458.65" stroke="#f7f7f7" stroke-width="0.6"/>
<line x1="224" y1="450.9" x2="292.5" y2="450.9" stroke="#f0f0f0" stroke-width="0.6"/>
<line x1="224" y1="443.15" x2="292.5" y2="443.15" stroke="#f7f7f7" stroke-width="0.6"/>
<line x1="224" y1="435.4" x2="292.5" y2="435.4" stroke="#f0f0f0" stroke-width="0.6"/>
<line x1="224" y1="427.65" x2="292.5" y2="427.65" stroke="#f7f7f7" stroke-width="0.6"/>
<line x1="224" y1="419.9" x2="292.5" y2="419.9" stroke="#f0f0f0" stroke-width="0.6"/>
<line x1="224" y1="412.15" x2="292.5" y2="412.15" stroke="#f7f7f7" stroke-width="0.6"/>
<line x1="240.5" y1="410.7" x2="240.5" y2="478.7" stroke="#f2f2f2" stroke-width="0.6"/>
<line x1="258" y1="410.7" x2="258" y2="478.7" stroke="#f2f2f2" stroke-width="0.6"/>
<line x1="275.5" y1="410.7" x2="275.5" y2="478.7" stroke="#f2f2f2" stroke-width="0.6"/>
<path d="M226.6,418.8 L290.1,426.5 L290.1,432.5 L226.6,423.8 Z" fill="#c8c8cc" stroke="none" stroke-width="1" fill-opacity="0.75"/>
<line x1="226.6" y1="421.3" x2="290.1" y2="429.5" stroke="#26266e" stroke-width="0.8"/>
<circle cx="226.6" cy="421.7" r="1.0" fill="#1b1b63"/>
<circle cx="233.66" cy="423.8" r="1.0" fill="#1b1b63"/>
<circle cx="240.71" cy="425.1" r="1.0" fill="#1b1b63"/>
<circle cx="247.77" cy="422.9" r="1.0" fill="#1b1b63"/>
<circle cx="254.82" cy="424.3" r="1.0" fill="#1b1b63"/>
<circle cx="261.88" cy="426.5" r="1.0" fill="#1b1b63"/>
<circle cx="268.93" cy="424.7" r="1.0" fill="#1b1b63"/>
<circle cx="275.99" cy="426.5" r="1.0" fill="#1b1b63"/>
<circle cx="283.04" cy="428" r="1.0" fill="#1b1b63"/>
<circle cx="290.1" cy="433.6" r="1.0" fill="#1b1b63"/>
<path d="M226.6,449.8 L290.1,453.8 L290.1,459.4 L226.6,454.4 Z" fill="#c8c8cc" stroke="none" stroke-width="1" fill-opacity="0.75"/>
<line x1="226.6" y1="452.1" x2="290.1" y2="456.6" stroke="#3a33c8" stroke-width="0.8"/>
<circle cx="226.6" cy="452.8" r="1.0" fill="#2b23c6"/>
<circle cx="233.66" cy="454.4" r="1.0" fill="#2b23c6"/>
<circle cx="240.71" cy="455.2" r="1.0" fill="#2b23c6"/>
<circle cx="247.77" cy="451" r="1.0" fill="#2b23c6"/>
<circle cx="254.82" cy="453.7" r="1.0" fill="#2b23c6"/>
<circle cx="261.88" cy="455.1" r="1.0" fill="#2b23c6"/>
<circle cx="268.93" cy="452.5" r="1.0" fill="#2b23c6"/>
<circle cx="275.99" cy="455.1" r="1.0" fill="#2b23c6"/>
<circle cx="283.04" cy="456.2" r="1.0" fill="#2b23c6"/>
<circle cx="290.1" cy="460" r="1.0" fill="#2b23c6"/>
<path d="M226.6,463.5 L290.1,465.3 L290.1,469.3 L226.6,467.1 Z" fill="#cfe3e6" stroke="none" stroke-width="1" fill-opacity="0.75"/>
<line x1="226.6" y1="465.3" x2="290.1" y2="467.3" stroke="#6dcde0" stroke-width="0.8"/>
<circle cx="226.6" cy="465.2" r="1.0" fill="#5cc6dc"/>
<circle cx="233.66" cy="465.6" r="1.0" fill="#5cc6dc"/>
<circle cx="240.71" cy="467.8" r="1.0" fill="#5cc6dc"/>
<circle cx="247.77" cy="464.4" r="1.0" fill="#5cc6dc"/>
<circle cx="254.82" cy="465.6" r="1.0" fill="#5cc6dc"/>
<circle cx="261.88" cy="467.6" r="1.0" fill="#5cc6dc"/>
<circle cx="268.93" cy="464.8" r="1.0" fill="#5cc6dc"/>
<circle cx="275.99" cy="466.2" r="1.0" fill="#5cc6dc"/>
<circle cx="283.04" cy="467.2" r="1.0" fill="#5cc6dc"/>
<circle cx="290.1" cy="468.2" r="1.0" fill="#5cc6dc"/>
<line x1="223.5" y1="466.4" x2="292.5" y2="466.4" stroke="#3c4a4a" stroke-width="1.1"/>
<line x1="223.5" y1="409.7" x2="223.5" y2="478.7" stroke="#555" stroke-width="1.1"/>
<text x="221" y="422.41" font-size="7" text-anchor="end" fill="#000" stroke="#000" stroke-width="0.2">0.3</text>
<text x="221" y="437.91" font-size="7" text-anchor="end" fill="#000" stroke="#000" stroke-width="0.2">0.2</text>
<text x="221" y="453.41" font-size="7" text-anchor="end" fill="#000" stroke="#000" stroke-width="0.2">0.1</text>
<text x="221" y="468.91" font-size="7" text-anchor="end" fill="#000" stroke="#000" stroke-width="0.2">0.0</text>
<text x="254.4" y="395.3" font-size="8" text-anchor="middle" fill="#000" stroke="#000" stroke-width="0.2">Class heterogeneity</text>
<text x="254.4" y="404.3" font-size="8" text-anchor="middle" fill="#000" stroke="#000" stroke-width="0.2">in math</text>
<text x="228.8" y="488.26" font-size="7" text-anchor="middle" fill="#000" stroke="#000" stroke-width="0.2">Lowest</text>
<text x="286.9" y="488.26" font-size="7" text-anchor="middle" fill="#000" stroke="#000" stroke-width="0.2">Highest</text>
<text x="259" y="495.16" font-size="7" text-anchor="middle" fill="#000" stroke="#000" stroke-width="0.2">Deciles</text>
<text x="259.7" y="421.76" font-size="6.3" text-anchor="middle" fill="#26266e" font-weight="bold" stroke="#26266e" stroke-width="0.1">T3</text>
<text x="259.7" y="451.16" font-size="6.3" text-anchor="middle" fill="#3a33c8" font-weight="bold" stroke="#3a33c8" stroke-width="0.1">T2</text>
<text x="259.7" y="464.56" font-size="6.3" text-anchor="middle" fill="#8ad6e6" font-weight="bold" stroke="#8ad6e6" stroke-width="0.1">T1</text>
<line x1="309.9" y1="474.3" x2="376.2" y2="474.3" stroke="#f7f7f7" stroke-width="0.6"/>
<line x1="309.9" y1="466.5" x2="376.2" y2="466.5" stroke="#f0f0f0" stroke-width="0.6"/>
<line x1="309.9" y1="458.7" x2="376.2" y2="458.7" stroke="#f7f7f7" stroke-width="0.6"/>
<line x1="309.9" y1="450.9" x2="376.2" y2="450.9" stroke="#f0f0f0" stroke-width="0.6"/>
<line x1="309.9" y1="443.1" x2="376.2" y2="443.1" stroke="#f7f7f7" stroke-width="0.6"/>
<line x1="309.9" y1="435.3" x2="376.2" y2="435.3" stroke="#f0f0f0" stroke-width="0.6"/>
<line x1="309.9" y1="427.5" x2="376.2" y2="427.5" stroke="#f7f7f7" stroke-width="0.6"/>
<line x1="309.9" y1="419.7" x2="376.2" y2="419.7" stroke="#f0f0f0" stroke-width="0.6"/>
<line x1="309.9" y1="411.9" x2="376.2" y2="411.9" stroke="#f7f7f7" stroke-width="0.6"/>
<line x1="316.2" y1="410.5" x2="316.2" y2="479" stroke="#f2f2f2" stroke-width="0.6"/>
<line x1="330.7" y1="410.5" x2="330.7" y2="479" stroke="#f2f2f2" stroke-width="0.6"/>
<line x1="345.2" y1="410.5" x2="345.2" y2="479" stroke="#f2f2f2" stroke-width="0.6"/>
<line x1="360" y1="410.5" x2="360" y2="479" stroke="#f2f2f2" stroke-width="0.6"/>
<line x1="374.7" y1="410.5" x2="374.7" y2="479" stroke="#f2f2f2" stroke-width="0.6"/>
<path d="M312.8,424.3 L373.7,422.8 L373.7,427.6 L312.8,429.1 Z" fill="#c8c8cc" stroke="none" stroke-width="1" fill-opacity="0.75"/>
<line x1="312.8" y1="426.7" x2="373.7" y2="425.2" stroke="#26266e" stroke-width="0.8"/>
<circle cx="312.8" cy="427.4" r="1.0" fill="#1b1b63"/>
<circle cx="319.57" cy="426.7" r="1.0" fill="#1b1b63"/>
<circle cx="326.33" cy="427" r="1.0" fill="#1b1b63"/>
<circle cx="333.1" cy="425.5" r="1.0" fill="#1b1b63"/>
<circle cx="339.87" cy="427.4" r="1.0" fill="#1b1b63"/>
<circle cx="346.63" cy="423" r="1.0" fill="#1b1b63"/>
<circle cx="353.4" cy="423.3" r="1.0" fill="#1b1b63"/>
<circle cx="360.17" cy="428.6" r="1.0" fill="#1b1b63"/>
<circle cx="366.93" cy="426.3" r="1.0" fill="#1b1b63"/>
<circle cx="373.7" cy="424.2" r="1.0" fill="#1b1b63"/>
<path d="M312.8,453 L373.7,452.3 L373.7,456.3 L312.8,457 Z" fill="#c8c8cc" stroke="none" stroke-width="1" fill-opacity="0.75"/>
<line x1="312.8" y1="455" x2="373.7" y2="454.3" stroke="#3a33c8" stroke-width="0.8"/>
<circle cx="312.8" cy="455.1" r="1.0" fill="#2b23c6"/>
<circle cx="319.57" cy="455.1" r="1.0" fill="#2b23c6"/>
<circle cx="326.33" cy="456.9" r="1.0" fill="#2b23c6"/>
<circle cx="333.1" cy="454" r="1.0" fill="#2b23c6"/>
<circle cx="339.87" cy="454" r="1.0" fill="#2b23c6"/>
<circle cx="346.63" cy="452" r="1.0" fill="#2b23c6"/>
<circle cx="353.4" cy="454" r="1.0" fill="#2b23c6"/>
<circle cx="360.17" cy="456.9" r="1.0" fill="#2b23c6"/>
<circle cx="366.93" cy="453.5" r="1.0" fill="#2b23c6"/>
<circle cx="373.7" cy="454.7" r="1.0" fill="#2b23c6"/>
<path d="M312.8,463.8 L373.7,463.8 L373.7,467.4 L312.8,467.4 Z" fill="#cfe3e6" stroke="none" stroke-width="1" fill-opacity="0.75"/>
<line x1="312.8" y1="465.6" x2="373.7" y2="465.6" stroke="#6dcde0" stroke-width="0.8"/>
<circle cx="312.8" cy="465" r="1.0" fill="#5cc6dc"/>
<circle cx="319.57" cy="464.6" r="1.0" fill="#5cc6dc"/>
<circle cx="326.33" cy="466.5" r="1.0" fill="#5cc6dc"/>
<circle cx="333.1" cy="465.7" r="1.0" fill="#5cc6dc"/>
<circle cx="339.87" cy="467.2" r="1.0" fill="#5cc6dc"/>
<circle cx="346.63" cy="465" r="1.0" fill="#5cc6dc"/>
<circle cx="353.4" cy="464.3" r="1.0" fill="#5cc6dc"/>
<circle cx="360.17" cy="468.4" r="1.0" fill="#5cc6dc"/>
<circle cx="366.93" cy="467" r="1.0" fill="#5cc6dc"/>
<circle cx="373.7" cy="465.4" r="1.0" fill="#5cc6dc"/>
<line x1="309.4" y1="466.5" x2="376.2" y2="466.5" stroke="#3c4a4a" stroke-width="1.1"/>
<line x1="309.4" y1="409.5" x2="309.4" y2="479" stroke="#555" stroke-width="1.1"/>
<text x="306.9" y="422.21" font-size="7" text-anchor="end" fill="#000" stroke="#000" stroke-width="0.2">0.3</text>
<text x="306.9" y="437.81" font-size="7" text-anchor="end" fill="#000" stroke="#000" stroke-width="0.2">0.2</text>
<text x="306.9" y="453.41" font-size="7" text-anchor="end" fill="#000" stroke="#000" stroke-width="0.2">0.1</text>
<text x="306.9" y="469.01" font-size="7" text-anchor="end" fill="#000" stroke="#000" stroke-width="0.2">0.0</text>
<text x="345" y="395" font-size="8" text-anchor="middle" fill="#000" stroke="#000" stroke-width="0.2">Boys/Girls ratio</text>
<text x="345" y="404.6" font-size="8" text-anchor="middle" fill="#000" stroke="#000" stroke-width="0.2">per class</text>
<text x="316.2" y="485.91" font-size="7" text-anchor="middle" fill="#000" stroke="#000" stroke-width="0.2">30%</text>
<text x="345.2" y="485.91" font-size="7" text-anchor="middle" fill="#000" stroke="#000" stroke-width="0.2">50%</text>
<text x="374.7" y="485.91" font-size="7" text-anchor="middle" fill="#000" stroke="#000" stroke-width="0.2">70%</text>
<text x="346.7" y="493.96" font-size="7" text-anchor="middle" fill="#000" stroke="#000" stroke-width="0.2">Boys proportion</text>
<text x="346.7" y="502.36" font-size="7" text-anchor="middle" fill="#000" stroke="#000" stroke-width="0.2">per class</text>
<text x="342.7" y="420.86" font-size="6.3" text-anchor="middle" fill="#26266e" font-weight="bold" stroke="#26266e" stroke-width="0.1">T3</text>
<text x="344.5" y="449.56" font-size="6.3" text-anchor="middle" fill="#3a33c8" font-weight="bold" stroke="#3a33c8" stroke-width="0.1">T2</text>
<text x="344.5" y="463.56" font-size="6.3" text-anchor="middle" fill="#8ad6e6" font-weight="bold" stroke="#8ad6e6" stroke-width="0.1">T1</text>
<text x="461.4" y="293.6" font-size="7" text-anchor="middle" fill="#000" stroke="#000" stroke-width="0.2">Class size</text>
<text x="526.3" y="293.6" font-size="7" text-anchor="middle" fill="#000" stroke="#000" stroke-width="0.2">Math at T1</text>
<text x="593.1" y="293.6" font-size="7" text-anchor="middle" fill="#000" stroke="#000" stroke-width="0.2">Heterogeneity</text>
<text x="655" y="293.6" font-size="7" text-anchor="middle" fill="#000" stroke="#000" stroke-width="0.2">Boys-Girls ratio</text>
<text x="399.2" y="331.84" font-size="11" text-anchor="middle" fill="#000" font-weight="bold" stroke="#000" stroke-width="0.1">2019</text>
<line x1="436" y1="368.4" x2="481.5" y2="368.4" stroke="#f7f7f7" stroke-width="0.6"/>
<line x1="436" y1="360.4" x2="481.5" y2="360.4" stroke="#f0f0f0" stroke-width="0.6"/>
<line x1="436" y1="352.4" x2="481.5" y2="352.4" stroke="#f7f7f7" stroke-width="0.6"/>
<line x1="436" y1="344.4" x2="481.5" y2="344.4" stroke="#f0f0f0" stroke-width="0.6"/>
<line x1="436" y1="336.4" x2="481.5" y2="336.4" stroke="#f7f7f7" stroke-width="0.6"/>
<line x1="436" y1="328.4" x2="481.5" y2="328.4" stroke="#f0f0f0" stroke-width="0.6"/>
<line x1="436" y1="320.4" x2="481.5" y2="320.4" stroke="#f7f7f7" stroke-width="0.6"/>
<line x1="436" y1="312.4" x2="481.5" y2="312.4" stroke="#f0f0f0" stroke-width="0.6"/>
<line x1="436" y1="304.4" x2="481.5" y2="304.4" stroke="#f7f7f7" stroke-width="0.6"/>
<line x1="437.8" y1="301.5" x2="437.8" y2="372.5" stroke="#f3f3f3" stroke-width="0.6"/>
<line x1="448.25" y1="301.5" x2="448.25" y2="372.5" stroke="#f3f3f3" stroke-width="0.6"/>
<line x1="458.7" y1="301.5" x2="458.7" y2="372.5" stroke="#f3f3f3" stroke-width="0.6"/>
<line x1="469.15" y1="301.5" x2="469.15" y2="372.5" stroke="#f3f3f3" stroke-width="0.6"/>
<line x1="479.6" y1="301.5" x2="479.6" y2="372.5" stroke="#f3f3f3" stroke-width="0.6"/>
<path d="M437.8,324.6 L479.6,316.5 L479.6,321.3 L437.8,329 Z" fill="#c8c8cc" stroke="none" stroke-width="1" fill-opacity="0.75"/>
<line x1="437.8" y1="326.8" x2="479.6" y2="318.9" stroke="#26266e" stroke-width="0.8"/>
<circle cx="437.8" cy="325.6" r="0.95" fill="#1b1b63"/>
<circle cx="442.44" cy="328" r="0.95" fill="#1b1b63"/>
<circle cx="447.09" cy="326" r="0.95" fill="#1b1b63"/>
<circle cx="451.73" cy="323.5" r="0.95" fill="#1b1b63"/>
<circle cx="456.38" cy="322.6" r="0.95" fill="#1b1b63"/>
<circle cx="461.02" cy="322.5" r="0.95" fill="#1b1b63"/>
<circle cx="465.67" cy="320.5" r="0.95" fill="#1b1b63"/>
<circle cx="470.31" cy="320.8" r="0.95" fill="#1b1b63"/>
<circle cx="474.96" cy="319.7" r="0.95" fill="#1b1b63"/>
<circle cx="479.6" cy="318.6" r="0.95" fill="#1b1b63"/>
<path d="M437.8,341.7 L479.6,336.2 L479.6,340.2 L437.8,345.3 Z" fill="#c8c8cc" stroke="none" stroke-width="1" fill-opacity="0.75"/>
<line x1="437.8" y1="343.5" x2="479.6" y2="338.2" stroke="#3a33c8" stroke-width="0.8"/>
<circle cx="437.8" cy="343" r="0.95" fill="#2b23c6"/>
<circle cx="442.44" cy="343.5" r="0.95" fill="#2b23c6"/>
<circle cx="447.09" cy="345" r="0.95" fill="#2b23c6"/>
<circle cx="451.73" cy="341" r="0.95" fill="#2b23c6"/>
<circle cx="456.38" cy="341" r="0.95" fill="#2b23c6"/>
<circle cx="461.02" cy="343.5" r="0.95" fill="#2b23c6"/>
<circle cx="465.67" cy="340" r="0.95" fill="#2b23c6"/>
<circle cx="470.31" cy="339.5" r="0.95" fill="#2b23c6"/>
<circle cx="474.96" cy="341.5" r="0.95" fill="#2b23c6"/>
<circle cx="479.6" cy="337.5" r="0.95" fill="#2b23c6"/>
<path d="M437.8,355.1 L479.6,350.8 L479.6,354.8 L437.8,358.7 Z" fill="#cfe3e6" stroke="none" stroke-width="1" fill-opacity="0.75"/>
<line x1="437.8" y1="356.9" x2="479.6" y2="352.8" stroke="#6dcde0" stroke-width="0.8"/>
<circle cx="437.8" cy="357" r="0.95" fill="#5cc6dc"/>
<circle cx="442.44" cy="357" r="0.95" fill="#5cc6dc"/>
<circle cx="447.09" cy="357.5" r="0.95" fill="#5cc6dc"/>
<circle cx="451.73" cy="356" r="0.95" fill="#5cc6dc"/>
<circle cx="456.38" cy="355.5" r="0.95" fill="#5cc6dc"/>
<circle cx="461.02" cy="355.5" r="0.95" fill="#5cc6dc"/>
<circle cx="465.67" cy="354" r="0.95" fill="#5cc6dc"/>
<circle cx="470.31" cy="354.5" r="0.95" fill="#5cc6dc"/>
<circle cx="474.96" cy="355" r="0.95" fill="#5cc6dc"/>
<circle cx="479.6" cy="352.5" r="0.95" fill="#5cc6dc"/>
<line x1="435.5" y1="360.4" x2="481.5" y2="360.4" stroke="#3c4a4a" stroke-width="1.0"/>
<line x1="435.5" y1="300.5" x2="435.5" y2="372.5" stroke="#555" stroke-width="1.0"/>
<text x="432.9" y="315.81" font-size="7" text-anchor="end" fill="#000" stroke="#000" stroke-width="0.2">0.3</text>
<text x="432.9" y="331.81" font-size="7" text-anchor="end" fill="#000" stroke="#000" stroke-width="0.2">0.2</text>
<text x="432.9" y="347.81" font-size="7" text-anchor="end" fill="#000" stroke="#000" stroke-width="0.2">0.1</text>
<text x="432.9" y="363.81" font-size="7" text-anchor="end" fill="#000" stroke="#000" stroke-width="0.2">0.0</text>
<line x1="498.5" y1="367.5" x2="549.6" y2="367.5" stroke="#f7f7f7" stroke-width="0.6"/>
<line x1="498.5" y1="359.5" x2="549.6" y2="359.5" stroke="#f0f0f0" stroke-width="0.6"/>
<line x1="498.5" y1="351.5" x2="549.6" y2="351.5" stroke="#f7f7f7" stroke-width="0.6"/>
<line x1="498.5" y1="343.5" x2="549.6" y2="343.5" stroke="#f0f0f0" stroke-width="0.6"/>
<line x1="498.5" y1="335.5" x2="549.6" y2="335.5" stroke="#f7f7f7" stroke-width="0.6"/>
<line x1="498.5" y1="327.5" x2="549.6" y2="327.5" stroke="#f0f0f0" stroke-width="0.6"/>
<line x1="498.5" y1="319.5" x2="549.6" y2="319.5" stroke="#f7f7f7" stroke-width="0.6"/>
<line x1="498.5" y1="311.5" x2="549.6" y2="311.5" stroke="#f0f0f0" stroke-width="0.6"/>
<line x1="498.5" y1="303.5" x2="549.6" y2="303.5" stroke="#f7f7f7" stroke-width="0.6"/>
<line x1="500.4" y1="301.5" x2="500.4" y2="372.5" stroke="#f3f3f3" stroke-width="0.6"/>
<line x1="512.27" y1="301.5" x2="512.27" y2="372.5" stroke="#f3f3f3" stroke-width="0.6"/>
<line x1="524.15" y1="301.5" x2="524.15" y2="372.5" stroke="#f3f3f3" stroke-width="0.6"/>
<line x1="536.02" y1="301.5" x2="536.02" y2="372.5" stroke="#f3f3f3" stroke-width="0.6"/>
<line x1="547.9" y1="301.5" x2="547.9" y2="372.5" stroke="#f3f3f3" stroke-width="0.6"/>
<path d="M500.4,324.8 L547.9,309 L547.9,316.6 L500.4,332 Z" fill="#c8c8cc" stroke="none" stroke-width="1" fill-opacity="0.75"/>
<line x1="500.4" y1="328.4" x2="547.9" y2="312.8" stroke="#26266e" stroke-width="0.8"/>
<circle cx="500.4" cy="334.9" r="0.95" fill="#1b1b63"/>
<circle cx="505.68" cy="322.7" r="0.95" fill="#1b1b63"/>
<circle cx="510.96" cy="323.1" r="0.95" fill="#1b1b63"/>
<circle cx="516.23" cy="322" r="0.95" fill="#1b1b63"/>
<circle cx="521.51" cy="319.2" r="0.95" fill="#1b1b63"/>
<circle cx="526.79" cy="319" r="0.95" fill="#1b1b63"/>
<circle cx="532.07" cy="316.8" r="0.95" fill="#1b1b63"/>
<circle cx="537.34" cy="316.8" r="0.95" fill="#1b1b63"/>
<circle cx="542.62" cy="314.4" r="0.95" fill="#1b1b63"/>
<circle cx="547.9" cy="312.8" r="0.95" fill="#1b1b63"/>
<path d="M500.4,342 L547.9,329.7 L547.9,336.7 L500.4,348 Z" fill="#c8c8cc" stroke="none" stroke-width="1" fill-opacity="0.75"/>
<line x1="500.4" y1="345" x2="547.9" y2="333.2" stroke="#3a33c8" stroke-width="0.8"/>
<circle cx="500.4" cy="351" r="0.95" fill="#2b23c6"/>
<circle cx="505.68" cy="341.8" r="0.95" fill="#2b23c6"/>
<circle cx="510.96" cy="341.8" r="0.95" fill="#2b23c6"/>
<circle cx="516.23" cy="340.7" r="0.95" fill="#2b23c6"/>
<circle cx="521.51" cy="338.5" r="0.95" fill="#2b23c6"/>
<circle cx="526.79" cy="337.8" r="0.95" fill="#2b23c6"/>
<circle cx="532.07" cy="336.8" r="0.95" fill="#2b23c6"/>
<circle cx="537.34" cy="336.8" r="0.95" fill="#2b23c6"/>
<circle cx="542.62" cy="333.9" r="0.95" fill="#2b23c6"/>
<circle cx="547.9" cy="335.8" r="0.95" fill="#2b23c6"/>
<path d="M500.4,356.4 L547.9,343 L547.9,355 L500.4,364.4 Z" fill="#cfe3e6" stroke="none" stroke-width="1" fill-opacity="0.75"/>
<line x1="500.4" y1="360.4" x2="547.9" y2="349" stroke="#6dcde0" stroke-width="0.8"/>
<circle cx="500.4" cy="366.7" r="0.95" fill="#5cc6dc"/>
<circle cx="505.68" cy="356" r="0.95" fill="#5cc6dc"/>
<circle cx="510.96" cy="356.9" r="0.95" fill="#5cc6dc"/>
<circle cx="516.23" cy="354.6" r="0.95" fill="#5cc6dc"/>
<circle cx="521.51" cy="352" r="0.95" fill="#5cc6dc"/>
<circle cx="526.79" cy="352" r="0.95" fill="#5cc6dc"/>
<circle cx="532.07" cy="350.6" r="0.95" fill="#5cc6dc"/>
<circle cx="537.34" cy="351" r="0.95" fill="#5cc6dc"/>
<circle cx="542.62" cy="347" r="0.95" fill="#5cc6dc"/>
<circle cx="547.9" cy="352" r="0.95" fill="#5cc6dc"/>
<line x1="498" y1="359.5" x2="549.6" y2="359.5" stroke="#3c4a4a" stroke-width="1.0"/>
<line x1="498" y1="300.5" x2="498" y2="372.5" stroke="#555" stroke-width="1.0"/>
<text x="495.4" y="314.91" font-size="7" text-anchor="end" fill="#000" stroke="#000" stroke-width="0.2">0.3</text>
<text x="495.4" y="330.91" font-size="7" text-anchor="end" fill="#000" stroke="#000" stroke-width="0.2">0.2</text>
<text x="495.4" y="346.91" font-size="7" text-anchor="end" fill="#000" stroke="#000" stroke-width="0.2">0.1</text>
<text x="495.4" y="362.91" font-size="7" text-anchor="end" fill="#000" stroke="#000" stroke-width="0.2">0.0</text>
<line x1="569" y1="367.5" x2="614" y2="367.5" stroke="#f7f7f7" stroke-width="0.6"/>
<line x1="569" y1="359.5" x2="614" y2="359.5" stroke="#f0f0f0" stroke-width="0.6"/>
<line x1="569" y1="351.5" x2="614" y2="351.5" stroke="#f7f7f7" stroke-width="0.6"/>
<line x1="569" y1="343.5" x2="614" y2="343.5" stroke="#f0f0f0" stroke-width="0.6"/>
<line x1="569" y1="335.5" x2="614" y2="335.5" stroke="#f7f7f7" stroke-width="0.6"/>
<line x1="569" y1="327.5" x2="614" y2="327.5" stroke="#f0f0f0" stroke-width="0.6"/>
<line x1="569" y1="319.5" x2="614" y2="319.5" stroke="#f7f7f7" stroke-width="0.6"/>
<line x1="569" y1="311.5" x2="614" y2="311.5" stroke="#f0f0f0" stroke-width="0.6"/>
<line x1="569" y1="303.5" x2="614" y2="303.5" stroke="#f7f7f7" stroke-width="0.6"/>
<line x1="570.7" y1="301.5" x2="570.7" y2="372.5" stroke="#f3f3f3" stroke-width="0.6"/>
<line x1="581.12" y1="301.5" x2="581.12" y2="372.5" stroke="#f3f3f3" stroke-width="0.6"/>
<line x1="591.55" y1="301.5" x2="591.55" y2="372.5" stroke="#f3f3f3" stroke-width="0.6"/>
<line x1="601.98" y1="301.5" x2="601.98" y2="372.5" stroke="#f3f3f3" stroke-width="0.6"/>
<line x1="612.4" y1="301.5" x2="612.4" y2="372.5" stroke="#f3f3f3" stroke-width="0.6"/>
<path d="M570.7,317 L612.4,320.8 L612.4,326 L570.7,321.4 Z" fill="#c8c8cc" stroke="none" stroke-width="1" fill-opacity="0.75"/>
<line x1="570.7" y1="319.2" x2="612.4" y2="323.4" stroke="#26266e" stroke-width="0.8"/>
<circle cx="570.7" cy="320.5" r="0.95" fill="#1b1b63"/>
<circle cx="575.33" cy="320.26" r="0.95" fill="#1b1b63"/>
<circle cx="579.97" cy="320.99" r="0.95" fill="#1b1b63"/>
<circle cx="584.6" cy="321.89" r="0.95" fill="#1b1b63"/>
<circle cx="589.23" cy="320.3" r="0.95" fill="#1b1b63"/>
<circle cx="593.87" cy="321.97" r="0.95" fill="#1b1b63"/>
<circle cx="598.5" cy="323.3" r="0.95" fill="#1b1b63"/>
<circle cx="603.13" cy="323.66" r="0.95" fill="#1b1b63"/>
<circle cx="607.77" cy="323.17" r="0.95" fill="#1b1b63"/>
<circle cx="612.4" cy="322.34" r="0.95" fill="#1b1b63"/>
<path d="M570.7,336.2 L612.4,338.1 L612.4,342.5 L570.7,340.2 Z" fill="#c8c8cc" stroke="none" stroke-width="1" fill-opacity="0.75"/>
<line x1="570.7" y1="338.2" x2="612.4" y2="340.3" stroke="#3a33c8" stroke-width="0.8"/>
<circle cx="570.7" cy="337.13" r="0.95" fill="#2b23c6"/>
<circle cx="575.33" cy="339.04" r="0.95" fill="#2b23c6"/>
<circle cx="579.97" cy="339.1" r="0.95" fill="#2b23c6"/>
<circle cx="584.6" cy="338.83" r="0.95" fill="#2b23c6"/>
<circle cx="589.23" cy="338.22" r="0.95" fill="#2b23c6"/>
<circle cx="593.87" cy="340.3" r="0.95" fill="#2b23c6"/>
<circle cx="598.5" cy="340.59" r="0.95" fill="#2b23c6"/>
<circle cx="603.13" cy="339.87" r="0.95" fill="#2b23c6"/>
<circle cx="607.77" cy="340.08" r="0.95" fill="#2b23c6"/>
<circle cx="612.4" cy="339.46" r="0.95" fill="#2b23c6"/>
<path d="M570.7,350.6 L612.4,350.8 L612.4,355.6 L570.7,355.4 Z" fill="#cfe3e6" stroke="none" stroke-width="1" fill-opacity="0.75"/>
<line x1="570.7" y1="353" x2="612.4" y2="353.2" stroke="#6dcde0" stroke-width="0.8"/>
<circle cx="570.7" cy="354.47" r="0.95" fill="#5cc6dc"/>
<circle cx="575.33" cy="351.87" r="0.95" fill="#5cc6dc"/>
<circle cx="579.97" cy="351.52" r="0.95" fill="#5cc6dc"/>
<circle cx="584.6" cy="354.66" r="0.95" fill="#5cc6dc"/>
<circle cx="589.23" cy="352.08" r="0.95" fill="#5cc6dc"/>
<circle cx="593.87" cy="351.9" r="0.95" fill="#5cc6dc"/>
<circle cx="598.5" cy="353.62" r="0.95" fill="#5cc6dc"/>
<circle cx="603.13" cy="352.66" r="0.95" fill="#5cc6dc"/>
<circle cx="607.77" cy="354.42" r="0.95" fill="#5cc6dc"/>
<circle cx="612.4" cy="352.34" r="0.95" fill="#5cc6dc"/>
<line x1="568.5" y1="359.5" x2="614" y2="359.5" stroke="#3c4a4a" stroke-width="1.0"/>
<line x1="568.5" y1="300.5" x2="568.5" y2="372.5" stroke="#555" stroke-width="1.0"/>
<text x="565.9" y="314.91" font-size="7" text-anchor="end" fill="#000" stroke="#000" stroke-width="0.2">0.3</text>
<text x="565.9" y="330.91" font-size="7" text-anchor="end" fill="#000" stroke="#000" stroke-width="0.2">0.2</text>
<text x="565.9" y="346.91" font-size="7" text-anchor="end" fill="#000" stroke="#000" stroke-width="0.2">0.1</text>
<text x="565.9" y="362.91" font-size="7" text-anchor="end" fill="#000" stroke="#000" stroke-width="0.2">0.0</text>
<line x1="633" y1="366.4" x2="678" y2="366.4" stroke="#f7f7f7" stroke-width="0.6"/>
<line x1="633" y1="358.4" x2="678" y2="358.4" stroke="#f0f0f0" stroke-width="0.6"/>
<line x1="633" y1="350.4" x2="678" y2="350.4" stroke="#f7f7f7" stroke-width="0.6"/>
<line x1="633" y1="342.4" x2="678" y2="342.4" stroke="#f0f0f0" stroke-width="0.6"/>
<line x1="633" y1="334.4" x2="678" y2="334.4" stroke="#f7f7f7" stroke-width="0.6"/>
<line x1="633" y1="326.4" x2="678" y2="326.4" stroke="#f0f0f0" stroke-width="0.6"/>
<line x1="633" y1="318.4" x2="678" y2="318.4" stroke="#f7f7f7" stroke-width="0.6"/>
<line x1="633" y1="310.4" x2="678" y2="310.4" stroke="#f0f0f0" stroke-width="0.6"/>
<line x1="633" y1="302.4" x2="678" y2="302.4" stroke="#f7f7f7" stroke-width="0.6"/>
<line x1="634.8" y1="301.5" x2="634.8" y2="372.5" stroke="#f3f3f3" stroke-width="0.6"/>
<line x1="645.07" y1="301.5" x2="645.07" y2="372.5" stroke="#f3f3f3" stroke-width="0.6"/>
<line x1="655.35" y1="301.5" x2="655.35" y2="372.5" stroke="#f3f3f3" stroke-width="0.6"/>
<line x1="665.62" y1="301.5" x2="665.62" y2="372.5" stroke="#f3f3f3" stroke-width="0.6"/>
<line x1="675.9" y1="301.5" x2="675.9" y2="372.5" stroke="#f3f3f3" stroke-width="0.6"/>
<path d="M634.8,320.3 L675.9,317.8 L675.9,321.8 L634.8,324.3 Z" fill="#c8c8cc" stroke="none" stroke-width="1" fill-opacity="0.75"/>
<line x1="634.8" y1="322.3" x2="675.9" y2="319.8" stroke="#26266e" stroke-width="0.8"/>
<circle cx="634.8" cy="322.43" r="0.95" fill="#1b1b63"/>
<circle cx="639.37" cy="321.35" r="0.95" fill="#1b1b63"/>
<circle cx="643.93" cy="320.24" r="0.95" fill="#1b1b63"/>
<circle cx="648.5" cy="321.96" r="0.95" fill="#1b1b63"/>
<circle cx="653.07" cy="320.26" r="0.95" fill="#1b1b63"/>
<circle cx="657.63" cy="320.13" r="0.95" fill="#1b1b63"/>
<circle cx="662.2" cy="320.3" r="0.95" fill="#1b1b63"/>
<circle cx="666.77" cy="320.81" r="0.95" fill="#1b1b63"/>
<circle cx="671.33" cy="321.64" r="0.95" fill="#1b1b63"/>
<circle cx="675.9" cy="319.68" r="0.95" fill="#1b1b63"/>
<path d="M634.8,337.7 L675.9,337.7 L675.9,340.9 L634.8,340.9 Z" fill="#c8c8cc" stroke="none" stroke-width="1" fill-opacity="0.75"/>
<line x1="634.8" y1="339.3" x2="675.9" y2="339.3" stroke="#3a33c8" stroke-width="0.8"/>
<circle cx="634.8" cy="337.74" r="0.95" fill="#2b23c6"/>
<circle cx="639.37" cy="338.06" r="0.95" fill="#2b23c6"/>
<circle cx="643.93" cy="338.96" r="0.95" fill="#2b23c6"/>
<circle cx="648.5" cy="339.89" r="0.95" fill="#2b23c6"/>
<circle cx="653.07" cy="338.14" r="0.95" fill="#2b23c6"/>
<circle cx="657.63" cy="338.06" r="0.95" fill="#2b23c6"/>
<circle cx="662.2" cy="338.44" r="0.95" fill="#2b23c6"/>
<circle cx="666.77" cy="340.12" r="0.95" fill="#2b23c6"/>
<circle cx="671.33" cy="338.17" r="0.95" fill="#2b23c6"/>
<circle cx="675.9" cy="340.07" r="0.95" fill="#2b23c6"/>
<path d="M634.8,351 L675.9,351.2 L675.9,355.2 L634.8,355 Z" fill="#cfe3e6" stroke="none" stroke-width="1" fill-opacity="0.75"/>
<line x1="634.8" y1="353" x2="675.9" y2="353.2" stroke="#6dcde0" stroke-width="0.8"/>
<circle cx="634.8" cy="351.65" r="0.95" fill="#5cc6dc"/>
<circle cx="639.37" cy="352.11" r="0.95" fill="#5cc6dc"/>
<circle cx="643.93" cy="352.41" r="0.95" fill="#5cc6dc"/>
<circle cx="648.5" cy="354.35" r="0.95" fill="#5cc6dc"/>
<circle cx="653.07" cy="353.08" r="0.95" fill="#5cc6dc"/>
<circle cx="657.63" cy="353.82" r="0.95" fill="#5cc6dc"/>
<circle cx="662.2" cy="351.85" r="0.95" fill="#5cc6dc"/>
<circle cx="666.77" cy="353.18" r="0.95" fill="#5cc6dc"/>
<circle cx="671.33" cy="354.28" r="0.95" fill="#5cc6dc"/>
<circle cx="675.9" cy="353.27" r="0.95" fill="#5cc6dc"/>
<line x1="632.5" y1="358.4" x2="678" y2="358.4" stroke="#3c4a4a" stroke-width="1.0"/>
<line x1="632.5" y1="300.5" x2="632.5" y2="372.5" stroke="#555" stroke-width="1.0"/>
<text x="629.9" y="311.91" font-size="7" text-anchor="end" fill="#000" stroke="#000" stroke-width="0.2">0.3</text>
<text x="629.9" y="327.91" font-size="7" text-anchor="end" fill="#000" stroke="#000" stroke-width="0.2">0.2</text>
<text x="629.9" y="343.91" font-size="7" text-anchor="end" fill="#000" stroke="#000" stroke-width="0.2">0.1</text>
<text x="629.9" y="359.91" font-size="7" text-anchor="end" fill="#000" stroke="#000" stroke-width="0.2">0.0</text>
<text x="399.2" y="420.64" font-size="11" text-anchor="middle" fill="#000" font-weight="bold" stroke="#000" stroke-width="0.1">2020</text>
<line x1="436" y1="448.45" x2="481.5" y2="448.45" stroke="#f7f7f7" stroke-width="0.6"/>
<line x1="436" y1="440.3" x2="481.5" y2="440.3" stroke="#f0f0f0" stroke-width="0.6"/>
<line x1="436" y1="432.15" x2="481.5" y2="432.15" stroke="#f7f7f7" stroke-width="0.6"/>
<line x1="436" y1="424" x2="481.5" y2="424" stroke="#f0f0f0" stroke-width="0.6"/>
<line x1="436" y1="415.85" x2="481.5" y2="415.85" stroke="#f7f7f7" stroke-width="0.6"/>
<line x1="436" y1="407.7" x2="481.5" y2="407.7" stroke="#f0f0f0" stroke-width="0.6"/>
<line x1="436" y1="399.55" x2="481.5" y2="399.55" stroke="#f7f7f7" stroke-width="0.6"/>
<line x1="436" y1="391.4" x2="481.5" y2="391.4" stroke="#f0f0f0" stroke-width="0.6"/>
<line x1="436" y1="383.25" x2="481.5" y2="383.25" stroke="#f7f7f7" stroke-width="0.6"/>
<line x1="437.8" y1="381" x2="437.8" y2="453" stroke="#f3f3f3" stroke-width="0.6"/>
<line x1="448.25" y1="381" x2="448.25" y2="453" stroke="#f3f3f3" stroke-width="0.6"/>
<line x1="458.7" y1="381" x2="458.7" y2="453" stroke="#f3f3f3" stroke-width="0.6"/>
<line x1="469.15" y1="381" x2="469.15" y2="453" stroke="#f3f3f3" stroke-width="0.6"/>
<line x1="479.6" y1="381" x2="479.6" y2="453" stroke="#f3f3f3" stroke-width="0.6"/>
<path d="M437.8,400.3 L479.6,395.4 L479.6,400.6 L437.8,405.1 Z" fill="#c8c8cc" stroke="none" stroke-width="1" fill-opacity="0.75"/>
<line x1="437.8" y1="402.7" x2="479.6" y2="398" stroke="#26266e" stroke-width="0.8"/>
<circle cx="437.8" cy="402.7" r="0.95" fill="#1b1b63"/>
<circle cx="442.44" cy="404.3" r="0.95" fill="#1b1b63"/>
<circle cx="447.09" cy="405.5" r="0.95" fill="#1b1b63"/>
<circle cx="451.73" cy="401.5" r="0.95" fill="#1b1b63"/>
<circle cx="456.38" cy="399.2" r="0.95" fill="#1b1b63"/>
<circle cx="461.02" cy="398.7" r="0.95" fill="#1b1b63"/>
<circle cx="465.67" cy="399.9" r="0.95" fill="#1b1b63"/>
<circle cx="470.31" cy="397.6" r="0.95" fill="#1b1b63"/>
<circle cx="474.96" cy="400.4" r="0.95" fill="#1b1b63"/>
<circle cx="479.6" cy="398" r="0.95" fill="#1b1b63"/>
<path d="M437.8,421.3 L479.6,416.8 L479.6,421.2 L437.8,425.3 Z" fill="#c8c8cc" stroke="none" stroke-width="1" fill-opacity="0.75"/>
<line x1="437.8" y1="423.3" x2="479.6" y2="419" stroke="#3a33c8" stroke-width="0.8"/>
<circle cx="437.8" cy="423.3" r="0.95" fill="#2b23c6"/>
<circle cx="442.44" cy="424.2" r="0.95" fill="#2b23c6"/>
<circle cx="447.09" cy="423.7" r="0.95" fill="#2b23c6"/>
<circle cx="451.73" cy="421.9" r="0.95" fill="#2b23c6"/>
<circle cx="456.38" cy="421.4" r="0.95" fill="#2b23c6"/>
<circle cx="461.02" cy="420.9" r="0.95" fill="#2b23c6"/>
<circle cx="465.67" cy="421.4" r="0.95" fill="#2b23c6"/>
<circle cx="470.31" cy="419.1" r="0.95" fill="#2b23c6"/>
<circle cx="474.96" cy="422.6" r="0.95" fill="#2b23c6"/>
<circle cx="479.6" cy="419.5" r="0.95" fill="#2b23c6"/>
<path d="M437.8,434 L479.6,431.6 L479.6,436.8 L437.8,439.2 Z" fill="#cfe3e6" stroke="none" stroke-width="1" fill-opacity="0.75"/>
<line x1="437.8" y1="436.6" x2="479.6" y2="434.2" stroke="#6dcde0" stroke-width="0.8"/>
<circle cx="437.8" cy="436.6" r="0.95" fill="#5cc6dc"/>
<circle cx="442.44" cy="436.1" r="0.95" fill="#5cc6dc"/>
<circle cx="447.09" cy="435.9" r="0.95" fill="#5cc6dc"/>
<circle cx="451.73" cy="435.4" r="0.95" fill="#5cc6dc"/>
<circle cx="456.38" cy="435.9" r="0.95" fill="#5cc6dc"/>
<circle cx="461.02" cy="434.9" r="0.95" fill="#5cc6dc"/>
<circle cx="465.67" cy="435.4" r="0.95" fill="#5cc6dc"/>
<circle cx="470.31" cy="433.5" r="0.95" fill="#5cc6dc"/>
<circle cx="474.96" cy="438.9" r="0.95" fill="#5cc6dc"/>
<circle cx="479.6" cy="433.5" r="0.95" fill="#5cc6dc"/>
<line x1="435.5" y1="440.3" x2="481.5" y2="440.3" stroke="#3c4a4a" stroke-width="1.0"/>
<line x1="435.5" y1="380" x2="435.5" y2="453" stroke="#555" stroke-width="1.0"/>
<text x="432.9" y="394.81" font-size="7" text-anchor="end" fill="#000" stroke="#000" stroke-width="0.2">0.3</text>
<text x="432.9" y="411.11" font-size="7" text-anchor="end" fill="#000" stroke="#000" stroke-width="0.2">0.2</text>
<text x="432.9" y="427.41" font-size="7" text-anchor="end" fill="#000" stroke="#000" stroke-width="0.2">0.1</text>
<text x="432.9" y="443.71" font-size="7" text-anchor="end" fill="#000" stroke="#000" stroke-width="0.2">0.0</text>
<line x1="498.5" y1="448.45" x2="549.6" y2="448.45" stroke="#f7f7f7" stroke-width="0.6"/>
<line x1="498.5" y1="440.3" x2="549.6" y2="440.3" stroke="#f0f0f0" stroke-width="0.6"/>
<line x1="498.5" y1="432.15" x2="549.6" y2="432.15" stroke="#f7f7f7" stroke-width="0.6"/>
<line x1="498.5" y1="424" x2="549.6" y2="424" stroke="#f0f0f0" stroke-width="0.6"/>
<line x1="498.5" y1="415.85" x2="549.6" y2="415.85" stroke="#f7f7f7" stroke-width="0.6"/>
<line x1="498.5" y1="407.7" x2="549.6" y2="407.7" stroke="#f0f0f0" stroke-width="0.6"/>
<line x1="498.5" y1="399.55" x2="549.6" y2="399.55" stroke="#f7f7f7" stroke-width="0.6"/>
<line x1="498.5" y1="391.4" x2="549.6" y2="391.4" stroke="#f0f0f0" stroke-width="0.6"/>
<line x1="498.5" y1="383.25" x2="549.6" y2="383.25" stroke="#f7f7f7" stroke-width="0.6"/>
<line x1="500.4" y1="381" x2="500.4" y2="453" stroke="#f3f3f3" stroke-width="0.6"/>
<line x1="512.27" y1="381" x2="512.27" y2="453" stroke="#f3f3f3" stroke-width="0.6"/>
<line x1="524.15" y1="381" x2="524.15" y2="453" stroke="#f3f3f3" stroke-width="0.6"/>
<line x1="536.02" y1="381" x2="536.02" y2="453" stroke="#f3f3f3" stroke-width="0.6"/>
<line x1="547.9" y1="381" x2="547.9" y2="453" stroke="#f3f3f3" stroke-width="0.6"/>
<path d="M500.4,404.8 L547.9,385.2 L547.9,393.6 L500.4,412.8 Z" fill="#c8c8cc" stroke="none" stroke-width="1" fill-opacity="0.75"/>
<line x1="500.4" y1="408.8" x2="547.9" y2="389.4" stroke="#26266e" stroke-width="0.8"/>
<circle cx="500.4" cy="416" r="0.95" fill="#1b1b63"/>
<circle cx="505.68" cy="405.5" r="0.95" fill="#1b1b63"/>
<circle cx="510.96" cy="400.9" r="0.95" fill="#1b1b63"/>
<circle cx="516.23" cy="399.6" r="0.95" fill="#1b1b63"/>
<circle cx="521.51" cy="396" r="0.95" fill="#1b1b63"/>
<circle cx="526.79" cy="397.3" r="0.95" fill="#1b1b63"/>
<circle cx="532.07" cy="395.6" r="0.95" fill="#1b1b63"/>
<circle cx="537.34" cy="393.9" r="0.95" fill="#1b1b63"/>
<circle cx="542.62" cy="392.1" r="0.95" fill="#1b1b63"/>
<circle cx="547.9" cy="392.1" r="0.95" fill="#1b1b63"/>
<path d="M500.4,424.2 L547.9,409.4 L547.9,417.4 L500.4,431.4 Z" fill="#c8c8cc" stroke="none" stroke-width="1" fill-opacity="0.75"/>
<line x1="500.4" y1="427.8" x2="547.9" y2="413.4" stroke="#3a33c8" stroke-width="0.8"/>
<circle cx="500.4" cy="434.6" r="0.95" fill="#2b23c6"/>
<circle cx="505.68" cy="426.2" r="0.95" fill="#2b23c6"/>
<circle cx="510.96" cy="420.3" r="0.95" fill="#2b23c6"/>
<circle cx="516.23" cy="420.6" r="0.95" fill="#2b23c6"/>
<circle cx="521.51" cy="418.6" r="0.95" fill="#2b23c6"/>
<circle cx="526.79" cy="420.6" r="0.95" fill="#2b23c6"/>
<circle cx="532.07" cy="416.6" r="0.95" fill="#2b23c6"/>
<circle cx="537.34" cy="416" r="0.95" fill="#2b23c6"/>
<circle cx="542.62" cy="416.2" r="0.95" fill="#2b23c6"/>
<circle cx="547.9" cy="415.3" r="0.95" fill="#2b23c6"/>
<path d="M500.4,439.6 L547.9,422.8 L547.9,432.8 L500.4,447.6 Z" fill="#cfe3e6" stroke="none" stroke-width="1" fill-opacity="0.75"/>
<line x1="500.4" y1="443.6" x2="547.9" y2="427.8" stroke="#6dcde0" stroke-width="0.8"/>
<circle cx="500.4" cy="448.8" r="0.95" fill="#5cc6dc"/>
<circle cx="505.68" cy="441" r="0.95" fill="#5cc6dc"/>
<circle cx="510.96" cy="439" r="0.95" fill="#5cc6dc"/>
<circle cx="516.23" cy="436.4" r="0.95" fill="#5cc6dc"/>
<circle cx="521.51" cy="434.4" r="0.95" fill="#5cc6dc"/>
<circle cx="526.79" cy="434.6" r="0.95" fill="#5cc6dc"/>
<circle cx="532.07" cy="433" r="0.95" fill="#5cc6dc"/>
<circle cx="537.34" cy="431.1" r="0.95" fill="#5cc6dc"/>
<circle cx="542.62" cy="429.8" r="0.95" fill="#5cc6dc"/>
<circle cx="547.9" cy="429.1" r="0.95" fill="#5cc6dc"/>
<line x1="498" y1="440.3" x2="549.6" y2="440.3" stroke="#3c4a4a" stroke-width="1.0"/>
<line x1="498" y1="380" x2="498" y2="453" stroke="#555" stroke-width="1.0"/>
<text x="495.4" y="394.81" font-size="7" text-anchor="end" fill="#000" stroke="#000" stroke-width="0.2">0.3</text>
<text x="495.4" y="411.11" font-size="7" text-anchor="end" fill="#000" stroke="#000" stroke-width="0.2">0.2</text>
<text x="495.4" y="427.41" font-size="7" text-anchor="end" fill="#000" stroke="#000" stroke-width="0.2">0.1</text>
<text x="495.4" y="443.71" font-size="7" text-anchor="end" fill="#000" stroke="#000" stroke-width="0.2">0.0</text>
<line x1="569" y1="448.45" x2="614" y2="448.45" stroke="#f7f7f7" stroke-width="0.6"/>
<line x1="569" y1="440.3" x2="614" y2="440.3" stroke="#f0f0f0" stroke-width="0.6"/>
<line x1="569" y1="432.15" x2="614" y2="432.15" stroke="#f7f7f7" stroke-width="0.6"/>
<line x1="569" y1="424" x2="614" y2="424" stroke="#f0f0f0" stroke-width="0.6"/>
<line x1="569" y1="415.85" x2="614" y2="415.85" stroke="#f7f7f7" stroke-width="0.6"/>
<line x1="569" y1="407.7" x2="614" y2="407.7" stroke="#f0f0f0" stroke-width="0.6"/>
<line x1="569" y1="399.55" x2="614" y2="399.55" stroke="#f7f7f7" stroke-width="0.6"/>
<line x1="569" y1="391.4" x2="614" y2="391.4" stroke="#f0f0f0" stroke-width="0.6"/>
<line x1="569" y1="383.25" x2="614" y2="383.25" stroke="#f7f7f7" stroke-width="0.6"/>
<line x1="570.7" y1="381" x2="570.7" y2="453" stroke="#f3f3f3" stroke-width="0.6"/>
<line x1="581.12" y1="381" x2="581.12" y2="453" stroke="#f3f3f3" stroke-width="0.6"/>
<line x1="591.55" y1="381" x2="591.55" y2="453" stroke="#f3f3f3" stroke-width="0.6"/>
<line x1="601.98" y1="381" x2="601.98" y2="453" stroke="#f3f3f3" stroke-width="0.6"/>
<line x1="612.4" y1="381" x2="612.4" y2="453" stroke="#f3f3f3" stroke-width="0.6"/>
<path d="M570.7,395.3 L612.4,400 L612.4,405.2 L570.7,399.7 Z" fill="#c8c8cc" stroke="none" stroke-width="1" fill-opacity="0.75"/>
<line x1="570.7" y1="397.5" x2="612.4" y2="402.6" stroke="#26266e" stroke-width="0.8"/>
<circle cx="570.7" cy="397.55" r="0.95" fill="#1b1b63"/>
<circle cx="575.33" cy="397.07" r="0.95" fill="#1b1b63"/>
<circle cx="579.97" cy="400.08" r="0.95" fill="#1b1b63"/>
<circle cx="584.6" cy="399.63" r="0.95" fill="#1b1b63"/>
<circle cx="589.23" cy="400.05" r="0.95" fill="#1b1b63"/>
<circle cx="593.87" cy="401.74" r="0.95" fill="#1b1b63"/>
<circle cx="598.5" cy="399.59" r="0.95" fill="#1b1b63"/>
<circle cx="603.13" cy="402.4" r="0.95" fill="#1b1b63"/>
<circle cx="607.77" cy="401.15" r="0.95" fill="#1b1b63"/>
<circle cx="612.4" cy="401.8" r="0.95" fill="#1b1b63"/>
<path d="M570.7,417 L612.4,421.1 L612.4,425.9 L570.7,421 Z" fill="#c8c8cc" stroke="none" stroke-width="1" fill-opacity="0.75"/>
<line x1="570.7" y1="419" x2="612.4" y2="423.5" stroke="#3a33c8" stroke-width="0.8"/>
<circle cx="570.7" cy="417.68" r="0.95" fill="#2b23c6"/>
<circle cx="575.33" cy="419.77" r="0.95" fill="#2b23c6"/>
<circle cx="579.97" cy="419.67" r="0.95" fill="#2b23c6"/>
<circle cx="584.6" cy="421.83" r="0.95" fill="#2b23c6"/>
<circle cx="589.23" cy="421.37" r="0.95" fill="#2b23c6"/>
<circle cx="593.87" cy="421.57" r="0.95" fill="#2b23c6"/>
<circle cx="598.5" cy="423.4" r="0.95" fill="#2b23c6"/>
<circle cx="603.13" cy="421.81" r="0.95" fill="#2b23c6"/>
<circle cx="607.77" cy="424.12" r="0.95" fill="#2b23c6"/>
<circle cx="612.4" cy="423.25" r="0.95" fill="#2b23c6"/>
<path d="M570.7,431.9 L612.4,432.9 L612.4,438.1 L570.7,437.1 Z" fill="#cfe3e6" stroke="none" stroke-width="1" fill-opacity="0.75"/>
<line x1="570.7" y1="434.5" x2="612.4" y2="435.5" stroke="#6dcde0" stroke-width="0.8"/>
<circle cx="570.7" cy="434.53" r="0.95" fill="#5cc6dc"/>
<circle cx="575.33" cy="434.92" r="0.95" fill="#5cc6dc"/>
<circle cx="579.97" cy="434.09" r="0.95" fill="#5cc6dc"/>
<circle cx="584.6" cy="436.21" r="0.95" fill="#5cc6dc"/>
<circle cx="589.23" cy="435.68" r="0.95" fill="#5cc6dc"/>
<circle cx="593.87" cy="435.89" r="0.95" fill="#5cc6dc"/>
<circle cx="598.5" cy="435.03" r="0.95" fill="#5cc6dc"/>
<circle cx="603.13" cy="436.35" r="0.95" fill="#5cc6dc"/>
<circle cx="607.77" cy="436.14" r="0.95" fill="#5cc6dc"/>
<circle cx="612.4" cy="435.8" r="0.95" fill="#5cc6dc"/>
<line x1="568.5" y1="440.3" x2="614" y2="440.3" stroke="#3c4a4a" stroke-width="1.0"/>
<line x1="568.5" y1="380" x2="568.5" y2="453" stroke="#555" stroke-width="1.0"/>
<text x="565.9" y="394.81" font-size="7" text-anchor="end" fill="#000" stroke="#000" stroke-width="0.2">0.3</text>
<text x="565.9" y="411.11" font-size="7" text-anchor="end" fill="#000" stroke="#000" stroke-width="0.2">0.2</text>
<text x="565.9" y="427.41" font-size="7" text-anchor="end" fill="#000" stroke="#000" stroke-width="0.2">0.1</text>
<text x="565.9" y="443.71" font-size="7" text-anchor="end" fill="#000" stroke="#000" stroke-width="0.2">0.0</text>
<line x1="633" y1="447.55" x2="678" y2="447.55" stroke="#f7f7f7" stroke-width="0.6"/>
<line x1="633" y1="439.4" x2="678" y2="439.4" stroke="#f0f0f0" stroke-width="0.6"/>
<line x1="633" y1="431.25" x2="678" y2="431.25" stroke="#f7f7f7" stroke-width="0.6"/>
<line x1="633" y1="423.1" x2="678" y2="423.1" stroke="#f0f0f0" stroke-width="0.6"/>
<line x1="633" y1="414.95" x2="678" y2="414.95" stroke="#f7f7f7" stroke-width="0.6"/>
<line x1="633" y1="406.8" x2="678" y2="406.8" stroke="#f0f0f0" stroke-width="0.6"/>
<line x1="633" y1="398.65" x2="678" y2="398.65" stroke="#f7f7f7" stroke-width="0.6"/>
<line x1="633" y1="390.5" x2="678" y2="390.5" stroke="#f0f0f0" stroke-width="0.6"/>
<line x1="633" y1="382.35" x2="678" y2="382.35" stroke="#f7f7f7" stroke-width="0.6"/>
<line x1="634.8" y1="381" x2="634.8" y2="453" stroke="#f3f3f3" stroke-width="0.6"/>
<line x1="645.07" y1="381" x2="645.07" y2="453" stroke="#f3f3f3" stroke-width="0.6"/>
<line x1="655.35" y1="381" x2="655.35" y2="453" stroke="#f3f3f3" stroke-width="0.6"/>
<line x1="665.62" y1="381" x2="665.62" y2="453" stroke="#f3f3f3" stroke-width="0.6"/>
<line x1="675.9" y1="381" x2="675.9" y2="453" stroke="#f3f3f3" stroke-width="0.6"/>
<path d="M634.8,398.2 L675.9,396.1 L675.9,399.7 L634.8,401.8 Z" fill="#c8c8cc" stroke="none" stroke-width="1" fill-opacity="0.75"/>
<line x1="634.8" y1="400" x2="675.9" y2="397.9" stroke="#26266e" stroke-width="0.8"/>
<circle cx="634.8" cy="400.06" r="0.95" fill="#1b1b63"/>
<circle cx="639.37" cy="399.04" r="0.95" fill="#1b1b63"/>
<circle cx="643.93" cy="400.3" r="0.95" fill="#1b1b63"/>
<circle cx="648.5" cy="400.25" r="0.95" fill="#1b1b63"/>
<circle cx="653.07" cy="399.54" r="0.95" fill="#1b1b63"/>
<circle cx="657.63" cy="397.3" r="0.95" fill="#1b1b63"/>
<circle cx="662.2" cy="397.77" r="0.95" fill="#1b1b63"/>
<circle cx="666.77" cy="397.85" r="0.95" fill="#1b1b63"/>
<circle cx="671.33" cy="399.66" r="0.95" fill="#1b1b63"/>
<circle cx="675.9" cy="398.41" r="0.95" fill="#1b1b63"/>
<path d="M634.8,418.3 L675.9,418.3 L675.9,421.5 L634.8,421.5 Z" fill="#c8c8cc" stroke="none" stroke-width="1" fill-opacity="0.75"/>
<line x1="634.8" y1="419.9" x2="675.9" y2="419.9" stroke="#3a33c8" stroke-width="0.8"/>
<circle cx="634.8" cy="419.31" r="0.95" fill="#2b23c6"/>
<circle cx="639.37" cy="420.76" r="0.95" fill="#2b23c6"/>
<circle cx="643.93" cy="418.58" r="0.95" fill="#2b23c6"/>
<circle cx="648.5" cy="419.22" r="0.95" fill="#2b23c6"/>
<circle cx="653.07" cy="419.55" r="0.95" fill="#2b23c6"/>
<circle cx="657.63" cy="421.17" r="0.95" fill="#2b23c6"/>
<circle cx="662.2" cy="419.41" r="0.95" fill="#2b23c6"/>
<circle cx="666.77" cy="420.2" r="0.95" fill="#2b23c6"/>
<circle cx="671.33" cy="418.62" r="0.95" fill="#2b23c6"/>
<circle cx="675.9" cy="418.85" r="0.95" fill="#2b23c6"/>
<path d="M634.8,432.2 L675.9,432.2 L675.9,435.8 L634.8,435.8 Z" fill="#cfe3e6" stroke="none" stroke-width="1" fill-opacity="0.75"/>
<line x1="634.8" y1="434" x2="675.9" y2="434" stroke="#6dcde0" stroke-width="0.8"/>
<circle cx="634.8" cy="433.72" r="0.95" fill="#5cc6dc"/>
<circle cx="639.37" cy="433.7" r="0.95" fill="#5cc6dc"/>
<circle cx="643.93" cy="435.27" r="0.95" fill="#5cc6dc"/>
<circle cx="648.5" cy="435.27" r="0.95" fill="#5cc6dc"/>
<circle cx="653.07" cy="433.38" r="0.95" fill="#5cc6dc"/>
<circle cx="657.63" cy="435.12" r="0.95" fill="#5cc6dc"/>
<circle cx="662.2" cy="435.47" r="0.95" fill="#5cc6dc"/>
<circle cx="666.77" cy="435.07" r="0.95" fill="#5cc6dc"/>
<circle cx="671.33" cy="432.48" r="0.95" fill="#5cc6dc"/>
<circle cx="675.9" cy="435.54" r="0.95" fill="#5cc6dc"/>
<line x1="632.5" y1="439.4" x2="678" y2="439.4" stroke="#3c4a4a" stroke-width="1.0"/>
<line x1="632.5" y1="380" x2="632.5" y2="453" stroke="#555" stroke-width="1.0"/>
<text x="629.9" y="392.01" font-size="7" text-anchor="end" fill="#000" stroke="#000" stroke-width="0.2">0.3</text>
<text x="629.9" y="408.31" font-size="7" text-anchor="end" fill="#000" stroke="#000" stroke-width="0.2">0.2</text>
<text x="629.9" y="424.61" font-size="7" text-anchor="end" fill="#000" stroke="#000" stroke-width="0.2">0.1</text>
<text x="629.9" y="440.91" font-size="7" text-anchor="end" fill="#000" stroke="#000" stroke-width="0.2">0.0</text>
<text x="399.2" y="497.14" font-size="11" text-anchor="middle" fill="#000" font-weight="bold" stroke="#000" stroke-width="0.1">2021</text>
<line x1="436" y1="521.5" x2="481.5" y2="521.5" stroke="#f7f7f7" stroke-width="0.6"/>
<line x1="436" y1="514.3" x2="481.5" y2="514.3" stroke="#f0f0f0" stroke-width="0.6"/>
<line x1="436" y1="507.1" x2="481.5" y2="507.1" stroke="#f7f7f7" stroke-width="0.6"/>
<line x1="436" y1="499.9" x2="481.5" y2="499.9" stroke="#f0f0f0" stroke-width="0.6"/>
<line x1="436" y1="492.7" x2="481.5" y2="492.7" stroke="#f7f7f7" stroke-width="0.6"/>
<line x1="436" y1="485.5" x2="481.5" y2="485.5" stroke="#f0f0f0" stroke-width="0.6"/>
<line x1="436" y1="478.3" x2="481.5" y2="478.3" stroke="#f7f7f7" stroke-width="0.6"/>
<line x1="436" y1="471.1" x2="481.5" y2="471.1" stroke="#f0f0f0" stroke-width="0.6"/>
<line x1="436" y1="463.9" x2="481.5" y2="463.9" stroke="#f7f7f7" stroke-width="0.6"/>
<line x1="437.8" y1="461.7" x2="437.8" y2="525.5" stroke="#f3f3f3" stroke-width="0.6"/>
<line x1="448.25" y1="461.7" x2="448.25" y2="525.5" stroke="#f3f3f3" stroke-width="0.6"/>
<line x1="458.7" y1="461.7" x2="458.7" y2="525.5" stroke="#f3f3f3" stroke-width="0.6"/>
<line x1="469.15" y1="461.7" x2="469.15" y2="525.5" stroke="#f3f3f3" stroke-width="0.6"/>
<line x1="479.6" y1="461.7" x2="479.6" y2="525.5" stroke="#f3f3f3" stroke-width="0.6"/>
<path d="M437.8,479.4 L479.6,469.4 L479.6,477.4 L437.8,488.4 Z" fill="#c8c8cc" stroke="none" stroke-width="1" fill-opacity="0.75"/>
<line x1="437.8" y1="483.9" x2="479.6" y2="473.4" stroke="#26266e" stroke-width="0.8"/>
<circle cx="437.8" cy="489.1" r="0.95" fill="#1b1b63"/>
<circle cx="442.44" cy="481" r="0.95" fill="#1b1b63"/>
<circle cx="447.09" cy="481.8" r="0.95" fill="#1b1b63"/>
<circle cx="451.73" cy="477.4" r="0.95" fill="#1b1b63"/>
<circle cx="456.38" cy="477.1" r="0.95" fill="#1b1b63"/>
<circle cx="461.02" cy="476.9" r="0.95" fill="#1b1b63"/>
<circle cx="465.67" cy="475.1" r="0.95" fill="#1b1b63"/>
<circle cx="470.31" cy="475.7" r="0.95" fill="#1b1b63"/>
<circle cx="474.96" cy="473.9" r="0.95" fill="#1b1b63"/>
<circle cx="479.6" cy="474.5" r="0.95" fill="#1b1b63"/>
<path d="M437.8,500.1 L479.6,491.4 L479.6,497.4 L437.8,506.1 Z" fill="#c8c8cc" stroke="none" stroke-width="1" fill-opacity="0.75"/>
<line x1="437.8" y1="503.1" x2="479.6" y2="494.4" stroke="#3a33c8" stroke-width="0.8"/>
<circle cx="437.8" cy="505.8" r="0.95" fill="#2b23c6"/>
<circle cx="442.44" cy="500.8" r="0.95" fill="#2b23c6"/>
<circle cx="447.09" cy="502.3" r="0.95" fill="#2b23c6"/>
<circle cx="451.73" cy="497.9" r="0.95" fill="#2b23c6"/>
<circle cx="456.38" cy="498.1" r="0.95" fill="#2b23c6"/>
<circle cx="461.02" cy="496.7" r="0.95" fill="#2b23c6"/>
<circle cx="465.67" cy="495.8" r="0.95" fill="#2b23c6"/>
<circle cx="470.31" cy="496.1" r="0.95" fill="#2b23c6"/>
<circle cx="474.96" cy="496.7" r="0.95" fill="#2b23c6"/>
<circle cx="479.6" cy="497.3" r="0.95" fill="#2b23c6"/>
<path d="M437.8,514.2 L479.6,499.9 L479.6,508.7 L437.8,521.4 Z" fill="#cfe3e6" stroke="none" stroke-width="1" fill-opacity="0.75"/>
<line x1="437.8" y1="517.8" x2="479.6" y2="504.3" stroke="#6dcde0" stroke-width="0.8"/>
<circle cx="437.8" cy="520.1" r="0.95" fill="#5cc6dc"/>
<circle cx="442.44" cy="513.7" r="0.95" fill="#5cc6dc"/>
<circle cx="447.09" cy="513.1" r="0.95" fill="#5cc6dc"/>
<circle cx="451.73" cy="509.6" r="0.95" fill="#5cc6dc"/>
<circle cx="456.38" cy="509.6" r="0.95" fill="#5cc6dc"/>
<circle cx="461.02" cy="508.4" r="0.95" fill="#5cc6dc"/>
<circle cx="465.67" cy="506.7" r="0.95" fill="#5cc6dc"/>
<circle cx="470.31" cy="506.1" r="0.95" fill="#5cc6dc"/>
<circle cx="474.96" cy="505.5" r="0.95" fill="#5cc6dc"/>
<circle cx="479.6" cy="507" r="0.95" fill="#5cc6dc"/>
<line x1="435.5" y1="514.3" x2="481.5" y2="514.3" stroke="#3c4a4a" stroke-width="1.0"/>
<line x1="435.5" y1="460.7" x2="435.5" y2="525.5" stroke="#555" stroke-width="1.0"/>
<text x="432.9" y="474.51" font-size="7" text-anchor="end" fill="#000" stroke="#000" stroke-width="0.2">0.3</text>
<text x="432.9" y="488.91" font-size="7" text-anchor="end" fill="#000" stroke="#000" stroke-width="0.2">0.2</text>
<text x="432.9" y="503.31" font-size="7" text-anchor="end" fill="#000" stroke="#000" stroke-width="0.2">0.1</text>
<text x="432.9" y="517.71" font-size="7" text-anchor="end" fill="#000" stroke="#000" stroke-width="0.2">0.0</text>
<line x1="498.5" y1="521.5" x2="549.6" y2="521.5" stroke="#f7f7f7" stroke-width="0.6"/>
<line x1="498.5" y1="514.3" x2="549.6" y2="514.3" stroke="#f0f0f0" stroke-width="0.6"/>
<line x1="498.5" y1="507.1" x2="549.6" y2="507.1" stroke="#f7f7f7" stroke-width="0.6"/>
<line x1="498.5" y1="499.9" x2="549.6" y2="499.9" stroke="#f0f0f0" stroke-width="0.6"/>
<line x1="498.5" y1="492.7" x2="549.6" y2="492.7" stroke="#f7f7f7" stroke-width="0.6"/>
<line x1="498.5" y1="485.5" x2="549.6" y2="485.5" stroke="#f0f0f0" stroke-width="0.6"/>
<line x1="498.5" y1="478.3" x2="549.6" y2="478.3" stroke="#f7f7f7" stroke-width="0.6"/>
<line x1="498.5" y1="471.1" x2="549.6" y2="471.1" stroke="#f0f0f0" stroke-width="0.6"/>
<line x1="498.5" y1="463.9" x2="549.6" y2="463.9" stroke="#f7f7f7" stroke-width="0.6"/>
<line x1="500.4" y1="461.7" x2="500.4" y2="525.5" stroke="#f3f3f3" stroke-width="0.6"/>
<line x1="512.27" y1="461.7" x2="512.27" y2="525.5" stroke="#f3f3f3" stroke-width="0.6"/>
<line x1="524.15" y1="461.7" x2="524.15" y2="525.5" stroke="#f3f3f3" stroke-width="0.6"/>
<line x1="536.02" y1="461.7" x2="536.02" y2="525.5" stroke="#f3f3f3" stroke-width="0.6"/>
<line x1="547.9" y1="461.7" x2="547.9" y2="525.5" stroke="#f3f3f3" stroke-width="0.6"/>
<path d="M500.4,479.2 L547.9,472.6 L547.9,478.6 L500.4,485.2 Z" fill="#c8c8cc" stroke="none" stroke-width="1" fill-opacity="0.75"/>
<line x1="500.4" y1="482.2" x2="547.9" y2="475.6" stroke="#26266e" stroke-width="0.8"/>
<circle cx="500.4" cy="478.9" r="0.95" fill="#1b1b63"/>
<circle cx="505.68" cy="482.2" r="0.95" fill="#1b1b63"/>
<circle cx="510.96" cy="485.5" r="0.95" fill="#1b1b63"/>
<circle cx="516.23" cy="482.6" r="0.95" fill="#1b1b63"/>
<circle cx="521.51" cy="477.9" r="0.95" fill="#1b1b63"/>
<circle cx="526.79" cy="478.2" r="0.95" fill="#1b1b63"/>
<circle cx="532.07" cy="477.3" r="0.95" fill="#1b1b63"/>
<circle cx="537.34" cy="476.9" r="0.95" fill="#1b1b63"/>
<circle cx="542.62" cy="477.6" r="0.95" fill="#1b1b63"/>
<circle cx="547.9" cy="476" r="0.95" fill="#1b1b63"/>
<path d="M500.4,498.6 L547.9,494 L547.9,499.2 L500.4,503.8 Z" fill="#c8c8cc" stroke="none" stroke-width="1" fill-opacity="0.75"/>
<line x1="500.4" y1="501.2" x2="547.9" y2="496.6" stroke="#3a33c8" stroke-width="0.8"/>
<circle cx="500.4" cy="497.6" r="0.95" fill="#2b23c6"/>
<circle cx="505.68" cy="501.5" r="0.95" fill="#2b23c6"/>
<circle cx="510.96" cy="503.6" r="0.95" fill="#2b23c6"/>
<circle cx="516.23" cy="502.3" r="0.95" fill="#2b23c6"/>
<circle cx="521.51" cy="498.6" r="0.95" fill="#2b23c6"/>
<circle cx="526.79" cy="499.7" r="0.95" fill="#2b23c6"/>
<circle cx="532.07" cy="497.6" r="0.95" fill="#2b23c6"/>
<circle cx="537.34" cy="498.4" r="0.95" fill="#2b23c6"/>
<circle cx="542.62" cy="498" r="0.95" fill="#2b23c6"/>
<circle cx="547.9" cy="494.9" r="0.95" fill="#2b23c6"/>
<path d="M500.4,509.3 L547.9,506.9 L547.9,511.3 L500.4,513.7 Z" fill="#cfe3e6" stroke="none" stroke-width="1" fill-opacity="0.75"/>
<line x1="500.4" y1="511.5" x2="547.9" y2="509.1" stroke="#6dcde0" stroke-width="0.8"/>
<circle cx="500.4" cy="510.4" r="0.95" fill="#5cc6dc"/>
<circle cx="505.68" cy="510.8" r="0.95" fill="#5cc6dc"/>
<circle cx="510.96" cy="511.2" r="0.95" fill="#5cc6dc"/>
<circle cx="516.23" cy="510.6" r="0.95" fill="#5cc6dc"/>
<circle cx="521.51" cy="510.4" r="0.95" fill="#5cc6dc"/>
<circle cx="526.79" cy="510" r="0.95" fill="#5cc6dc"/>
<circle cx="532.07" cy="508.8" r="0.95" fill="#5cc6dc"/>
<circle cx="537.34" cy="508.8" r="0.95" fill="#5cc6dc"/>
<circle cx="542.62" cy="508.4" r="0.95" fill="#5cc6dc"/>
<circle cx="547.9" cy="508.4" r="0.95" fill="#5cc6dc"/>
<line x1="498" y1="514.3" x2="549.6" y2="514.3" stroke="#3c4a4a" stroke-width="1.0"/>
<line x1="498" y1="460.7" x2="498" y2="525.5" stroke="#555" stroke-width="1.0"/>
<text x="495.4" y="474.51" font-size="7" text-anchor="end" fill="#000" stroke="#000" stroke-width="0.2">0.3</text>
<text x="495.4" y="488.91" font-size="7" text-anchor="end" fill="#000" stroke="#000" stroke-width="0.2">0.2</text>
<text x="495.4" y="503.31" font-size="7" text-anchor="end" fill="#000" stroke="#000" stroke-width="0.2">0.1</text>
<text x="495.4" y="517.71" font-size="7" text-anchor="end" fill="#000" stroke="#000" stroke-width="0.2">0.0</text>
<line x1="569" y1="521.5" x2="614" y2="521.5" stroke="#f7f7f7" stroke-width="0.6"/>
<line x1="569" y1="514.3" x2="614" y2="514.3" stroke="#f0f0f0" stroke-width="0.6"/>
<line x1="569" y1="507.1" x2="614" y2="507.1" stroke="#f7f7f7" stroke-width="0.6"/>
<line x1="569" y1="499.9" x2="614" y2="499.9" stroke="#f0f0f0" stroke-width="0.6"/>
<line x1="569" y1="492.7" x2="614" y2="492.7" stroke="#f7f7f7" stroke-width="0.6"/>
<line x1="569" y1="485.5" x2="614" y2="485.5" stroke="#f0f0f0" stroke-width="0.6"/>
<line x1="569" y1="478.3" x2="614" y2="478.3" stroke="#f7f7f7" stroke-width="0.6"/>
<line x1="569" y1="471.1" x2="614" y2="471.1" stroke="#f0f0f0" stroke-width="0.6"/>
<line x1="569" y1="463.9" x2="614" y2="463.9" stroke="#f7f7f7" stroke-width="0.6"/>
<line x1="570.7" y1="461.7" x2="570.7" y2="525.5" stroke="#f3f3f3" stroke-width="0.6"/>
<line x1="581.12" y1="461.7" x2="581.12" y2="525.5" stroke="#f3f3f3" stroke-width="0.6"/>
<line x1="591.55" y1="461.7" x2="591.55" y2="525.5" stroke="#f3f3f3" stroke-width="0.6"/>
<line x1="601.98" y1="461.7" x2="601.98" y2="525.5" stroke="#f3f3f3" stroke-width="0.6"/>
<line x1="612.4" y1="461.7" x2="612.4" y2="525.5" stroke="#f3f3f3" stroke-width="0.6"/>
<path d="M570.7,475.3 L612.4,478.2 L612.4,482.6 L570.7,479.7 Z" fill="#c8c8cc" stroke="none" stroke-width="1" fill-opacity="0.75"/>
<line x1="570.7" y1="477.5" x2="612.4" y2="480.4" stroke="#26266e" stroke-width="0.8"/>
<circle cx="570.7" cy="478.29" r="0.95" fill="#1b1b63"/>
<circle cx="575.33" cy="476.97" r="0.95" fill="#1b1b63"/>
<circle cx="579.97" cy="477.34" r="0.95" fill="#1b1b63"/>
<circle cx="584.6" cy="477.75" r="0.95" fill="#1b1b63"/>
<circle cx="589.23" cy="478.48" r="0.95" fill="#1b1b63"/>
<circle cx="593.87" cy="479.08" r="0.95" fill="#1b1b63"/>
<circle cx="598.5" cy="480.11" r="0.95" fill="#1b1b63"/>
<circle cx="603.13" cy="478.91" r="0.95" fill="#1b1b63"/>
<circle cx="607.77" cy="481.35" r="0.95" fill="#1b1b63"/>
<circle cx="612.4" cy="480.06" r="0.95" fill="#1b1b63"/>
<path d="M570.7,497 L612.4,497.7 L612.4,501.7 L570.7,501 Z" fill="#c8c8cc" stroke="none" stroke-width="1" fill-opacity="0.75"/>
<line x1="570.7" y1="499" x2="612.4" y2="499.7" stroke="#3a33c8" stroke-width="0.8"/>
<circle cx="570.7" cy="498.19" r="0.95" fill="#2b23c6"/>
<circle cx="575.33" cy="497.78" r="0.95" fill="#2b23c6"/>
<circle cx="579.97" cy="498.45" r="0.95" fill="#2b23c6"/>
<circle cx="584.6" cy="500.26" r="0.95" fill="#2b23c6"/>
<circle cx="589.23" cy="498.45" r="0.95" fill="#2b23c6"/>
<circle cx="593.87" cy="500.23" r="0.95" fill="#2b23c6"/>
<circle cx="598.5" cy="499" r="0.95" fill="#2b23c6"/>
<circle cx="603.13" cy="499.39" r="0.95" fill="#2b23c6"/>
<circle cx="607.77" cy="500.27" r="0.95" fill="#2b23c6"/>
<circle cx="612.4" cy="498.31" r="0.95" fill="#2b23c6"/>
<path d="M570.7,508 L612.4,508 L612.4,512.8 L570.7,512.8 Z" fill="#cfe3e6" stroke="none" stroke-width="1" fill-opacity="0.75"/>
<line x1="570.7" y1="510.4" x2="612.4" y2="510.4" stroke="#6dcde0" stroke-width="0.8"/>
<circle cx="570.7" cy="511.29" r="0.95" fill="#5cc6dc"/>
<circle cx="575.33" cy="509.55" r="0.95" fill="#5cc6dc"/>
<circle cx="579.97" cy="509.78" r="0.95" fill="#5cc6dc"/>
<circle cx="584.6" cy="508.89" r="0.95" fill="#5cc6dc"/>
<circle cx="589.23" cy="509.51" r="0.95" fill="#5cc6dc"/>
<circle cx="593.87" cy="511.17" r="0.95" fill="#5cc6dc"/>
<circle cx="598.5" cy="510.21" r="0.95" fill="#5cc6dc"/>
<circle cx="603.13" cy="509.04" r="0.95" fill="#5cc6dc"/>
<circle cx="607.77" cy="508.85" r="0.95" fill="#5cc6dc"/>
<circle cx="612.4" cy="511.8" r="0.95" fill="#5cc6dc"/>
<line x1="568.5" y1="514.3" x2="614" y2="514.3" stroke="#3c4a4a" stroke-width="1.0"/>
<line x1="568.5" y1="460.7" x2="568.5" y2="525.5" stroke="#555" stroke-width="1.0"/>
<text x="565.9" y="474.51" font-size="7" text-anchor="end" fill="#000" stroke="#000" stroke-width="0.2">0.3</text>
<text x="565.9" y="488.91" font-size="7" text-anchor="end" fill="#000" stroke="#000" stroke-width="0.2">0.2</text>
<text x="565.9" y="503.31" font-size="7" text-anchor="end" fill="#000" stroke="#000" stroke-width="0.2">0.1</text>
<text x="565.9" y="517.71" font-size="7" text-anchor="end" fill="#000" stroke="#000" stroke-width="0.2">0.0</text>
<line x1="633" y1="521.6" x2="678" y2="521.6" stroke="#f7f7f7" stroke-width="0.6"/>
<line x1="633" y1="514.4" x2="678" y2="514.4" stroke="#f0f0f0" stroke-width="0.6"/>
<line x1="633" y1="507.2" x2="678" y2="507.2" stroke="#f7f7f7" stroke-width="0.6"/>
<line x1="633" y1="500" x2="678" y2="500" stroke="#f0f0f0" stroke-width="0.6"/>
<line x1="633" y1="492.8" x2="678" y2="492.8" stroke="#f7f7f7" stroke-width="0.6"/>
<line x1="633" y1="485.6" x2="678" y2="485.6" stroke="#f0f0f0" stroke-width="0.6"/>
<line x1="633" y1="478.4" x2="678" y2="478.4" stroke="#f7f7f7" stroke-width="0.6"/>
<line x1="633" y1="471.2" x2="678" y2="471.2" stroke="#f0f0f0" stroke-width="0.6"/>
<line x1="633" y1="464" x2="678" y2="464" stroke="#f7f7f7" stroke-width="0.6"/>
<line x1="634.8" y1="461.7" x2="634.8" y2="525.5" stroke="#f3f3f3" stroke-width="0.6"/>
<line x1="645.07" y1="461.7" x2="645.07" y2="525.5" stroke="#f3f3f3" stroke-width="0.6"/>
<line x1="655.35" y1="461.7" x2="655.35" y2="525.5" stroke="#f3f3f3" stroke-width="0.6"/>
<line x1="665.62" y1="461.7" x2="665.62" y2="525.5" stroke="#f3f3f3" stroke-width="0.6"/>
<line x1="675.9" y1="461.7" x2="675.9" y2="525.5" stroke="#f3f3f3" stroke-width="0.6"/>
<path d="M634.8,478.2 L675.9,477.6 L675.9,481.2 L634.8,481.8 Z" fill="#c8c8cc" stroke="none" stroke-width="1" fill-opacity="0.75"/>
<line x1="634.8" y1="480" x2="675.9" y2="479.4" stroke="#26266e" stroke-width="0.8"/>
<circle cx="634.8" cy="480.66" r="0.95" fill="#1b1b63"/>
<circle cx="639.37" cy="479.3" r="0.95" fill="#1b1b63"/>
<circle cx="643.93" cy="481.27" r="0.95" fill="#1b1b63"/>
<circle cx="648.5" cy="481.03" r="0.95" fill="#1b1b63"/>
<circle cx="653.07" cy="479.85" r="0.95" fill="#1b1b63"/>
<circle cx="657.63" cy="480.18" r="0.95" fill="#1b1b63"/>
<circle cx="662.2" cy="480.45" r="0.95" fill="#1b1b63"/>
<circle cx="666.77" cy="479.49" r="0.95" fill="#1b1b63"/>
<circle cx="671.33" cy="480.77" r="0.95" fill="#1b1b63"/>
<circle cx="675.9" cy="480.6" r="0.95" fill="#1b1b63"/>
<path d="M634.8,498.1 L675.9,498.1 L675.9,501.3 L634.8,501.3 Z" fill="#c8c8cc" stroke="none" stroke-width="1" fill-opacity="0.75"/>
<line x1="634.8" y1="499.7" x2="675.9" y2="499.7" stroke="#3a33c8" stroke-width="0.8"/>
<circle cx="634.8" cy="500.83" r="0.95" fill="#2b23c6"/>
<circle cx="639.37" cy="501.18" r="0.95" fill="#2b23c6"/>
<circle cx="643.93" cy="500.73" r="0.95" fill="#2b23c6"/>
<circle cx="648.5" cy="500.85" r="0.95" fill="#2b23c6"/>
<circle cx="653.07" cy="501.29" r="0.95" fill="#2b23c6"/>
<circle cx="657.63" cy="500.51" r="0.95" fill="#2b23c6"/>
<circle cx="662.2" cy="501.05" r="0.95" fill="#2b23c6"/>
<circle cx="666.77" cy="498.84" r="0.95" fill="#2b23c6"/>
<circle cx="671.33" cy="500.59" r="0.95" fill="#2b23c6"/>
<circle cx="675.9" cy="499.92" r="0.95" fill="#2b23c6"/>
<path d="M634.8,508.9 L675.9,508.9 L675.9,512.5 L634.8,512.5 Z" fill="#cfe3e6" stroke="none" stroke-width="1" fill-opacity="0.75"/>
<line x1="634.8" y1="510.7" x2="675.9" y2="510.7" stroke="#6dcde0" stroke-width="0.8"/>
<circle cx="634.8" cy="510" r="0.95" fill="#5cc6dc"/>
<circle cx="639.37" cy="509.85" r="0.95" fill="#5cc6dc"/>
<circle cx="643.93" cy="509.36" r="0.95" fill="#5cc6dc"/>
<circle cx="648.5" cy="511.84" r="0.95" fill="#5cc6dc"/>
<circle cx="653.07" cy="509.97" r="0.95" fill="#5cc6dc"/>
<circle cx="657.63" cy="510" r="0.95" fill="#5cc6dc"/>
<circle cx="662.2" cy="512.11" r="0.95" fill="#5cc6dc"/>
<circle cx="666.77" cy="510.44" r="0.95" fill="#5cc6dc"/>
<circle cx="671.33" cy="510.7" r="0.95" fill="#5cc6dc"/>
<circle cx="675.9" cy="509.49" r="0.95" fill="#5cc6dc"/>
<line x1="632.5" y1="514.4" x2="678" y2="514.4" stroke="#3c4a4a" stroke-width="1.0"/>
<line x1="632.5" y1="460.7" x2="632.5" y2="525.5" stroke="#555" stroke-width="1.0"/>
<text x="629.9" y="473.71" font-size="7" text-anchor="end" fill="#000" stroke="#000" stroke-width="0.2">0.3</text>
<text x="629.9" y="488.11" font-size="7" text-anchor="end" fill="#000" stroke="#000" stroke-width="0.2">0.2</text>
<text x="629.9" y="502.51" font-size="7" text-anchor="end" fill="#000" stroke="#000" stroke-width="0.2">0.1</text>
<text x="629.9" y="516.91" font-size="7" text-anchor="end" fill="#000" stroke="#000" stroke-width="0.2">0.0</text>
<text x="445.4" y="533.81" font-size="7" text-anchor="middle" fill="#000" stroke="#000" stroke-width="0.2">9</text>
<text x="457.1" y="533.81" font-size="7" text-anchor="middle" fill="#000" stroke="#000" stroke-width="0.2">15</text>
<text x="468.8" y="533.81" font-size="7" text-anchor="middle" fill="#000" stroke="#000" stroke-width="0.2">21</text>
<text x="480.4" y="533.81" font-size="7" text-anchor="middle" fill="#000" stroke="#000" stroke-width="0.2">27</text>
<text x="459.4" y="541.3" font-size="7" text-anchor="middle" fill="#000" stroke="#000" stroke-width="0.2">Number of</text>
<text x="458.7" y="549.7" font-size="7" text-anchor="middle" fill="#000" stroke="#000" stroke-width="0.2">children per class</text>
<text x="506.2" y="534.61" font-size="7" text-anchor="middle" fill="#000" stroke="#000" stroke-width="0.2">Lowest</text>
<text x="542.6" y="534.2" font-size="7" text-anchor="middle" fill="#000" stroke="#000" stroke-width="0.2">Highest</text>
<text x="523.4" y="545.81" font-size="7" text-anchor="middle" fill="#000" stroke="#000" stroke-width="0.2">Deciles</text>
<text x="573.7" y="534.51" font-size="7" text-anchor="middle" fill="#000" stroke="#000" stroke-width="0.2">Lowest</text>
<text x="609.9" y="534.1" font-size="7" text-anchor="middle" fill="#000" stroke="#000" stroke-width="0.2">Highest</text>
<text x="590.7" y="545.91" font-size="7" text-anchor="middle" fill="#000" stroke="#000" stroke-width="0.2">Deciles</text>
<text x="636.6" y="534.51" font-size="7" text-anchor="middle" fill="#000" stroke="#000" stroke-width="0.2">30%</text>
<text x="656.5" y="534.51" font-size="7" text-anchor="middle" fill="#000" stroke="#000" stroke-width="0.2">50%</text>
<text x="674.6" y="534.51" font-size="7" text-anchor="middle" fill="#000" stroke="#000" stroke-width="0.2">70%</text>
<text x="656.5" y="541.7" font-size="7" text-anchor="middle" fill="#000" stroke="#000" stroke-width="0.2">Boys proportion</text>
<text x="656.5" y="549.8" font-size="7" text-anchor="middle" fill="#000" stroke="#000" stroke-width="0.2">per class</text>
<text x="1.5" y="600.2" font-size="9.2" text-anchor="start" fill="#000" font-weight="bold" stroke="#000" stroke-width="0.1">C. Math gender gaps and the role model effect in math</text>
<text x="202.7" y="658.7" font-size="11" text-anchor="middle" fill="#000" font-weight="bold" stroke="#000" stroke-width="0.1">2018</text>
<text x="52.6" y="681.2" font-size="8" text-anchor="end" fill="#000" stroke="#000" stroke-width="0.2">Gender gap</text>
<text x="52.6" y="690.4" font-size="8" text-anchor="end" fill="#000" stroke="#000" stroke-width="0.2">in math</text>
<text x="52.6" y="699.6" font-size="8" text-anchor="end" fill="#000" stroke="#000" stroke-width="0.2">(Cohen’s d)</text>
<text x="133.3" y="681.3" font-size="8" text-anchor="middle" fill="#000" stroke="#000" stroke-width="0.2">Classes with boys as first of</text>
<text x="132.9" y="690.5" font-size="8" text-anchor="middle" fill="#000" stroke="#000" stroke-width="0.2">class n = 274,536</text>
<text x="278.5" y="681.3" font-size="8" text-anchor="middle" fill="#000" stroke="#000" stroke-width="0.2">Classes with girls as first of</text>
<text x="278.3" y="690.5" font-size="8" text-anchor="middle" fill="#000" stroke="#000" stroke-width="0.2">class n = 204,935</text>
<text x="44.1" y="773.8" font-size="8" text-anchor="end" fill="#000" stroke="#000" stroke-width="0.2">Advantage</text>
<text x="44.1" y="783" font-size="8" text-anchor="end" fill="#000" stroke="#000" stroke-width="0.2">for boys</text>
<text x="44.1" y="803.6" font-size="8" text-anchor="end" fill="#000" stroke="#000" stroke-width="0.2">Advantage</text>
<text x="44.1" y="812.8" font-size="8" text-anchor="end" fill="#000" stroke="#000" stroke-width="0.2">for girls</text>
<line x1="47.9" y1="769" x2="47.9" y2="786.4" stroke="#000" stroke-width="1.4"/>
<path d="M47.9,764 L51.3,770 L44.5,770 Z" fill="#000" stroke="none" stroke-width="1"/>
<line x1="47.9" y1="795.5" x2="47.9" y2="810.5" stroke="#000" stroke-width="1.4"/>
<path d="M47.9,815.8 L44.5,809.8 L51.3,809.8 Z" fill="#000" stroke="none" stroke-width="1"/>
<line x1="69" y1="805.15" x2="197" y2="805.15" stroke="#f5f5f5" stroke-width="0.6"/>
<line x1="69" y1="790.2" x2="197" y2="790.2" stroke="#ececec" stroke-width="0.6"/>
<line x1="69" y1="775.25" x2="197" y2="775.25" stroke="#f5f5f5" stroke-width="0.6"/>
<line x1="69" y1="760.3" x2="197" y2="760.3" stroke="#ececec" stroke-width="0.6"/>
<line x1="69" y1="745.35" x2="197" y2="745.35" stroke="#f5f5f5" stroke-width="0.6"/>
<line x1="69" y1="730.4" x2="197" y2="730.4" stroke="#ececec" stroke-width="0.6"/>
<line x1="69" y1="715.45" x2="197" y2="715.45" stroke="#f5f5f5" stroke-width="0.6"/>
<line x1="79.7" y1="702.5" x2="79.7" y2="812.8" stroke="#ececec" stroke-width="0.6"/>
<line x1="92.35" y1="702.5" x2="92.35" y2="812.8" stroke="#f5f5f5" stroke-width="0.6"/>
<line x1="105" y1="702.5" x2="105" y2="812.8" stroke="#ececec" stroke-width="0.6"/>
<line x1="117.65" y1="702.5" x2="117.65" y2="812.8" stroke="#f5f5f5" stroke-width="0.6"/>
<line x1="130.3" y1="702.5" x2="130.3" y2="812.8" stroke="#ececec" stroke-width="0.6"/>
<line x1="142.95" y1="702.5" x2="142.95" y2="812.8" stroke="#f5f5f5" stroke-width="0.6"/>
<line x1="155.6" y1="702.5" x2="155.6" y2="812.8" stroke="#ececec" stroke-width="0.6"/>
<line x1="168.25" y1="702.5" x2="168.25" y2="812.8" stroke="#f5f5f5" stroke-width="0.6"/>
<line x1="180.9" y1="702.5" x2="180.9" y2="812.8" stroke="#ececec" stroke-width="0.6"/>
<line x1="193.55" y1="702.5" x2="193.55" y2="812.8" stroke="#f5f5f5" stroke-width="0.6"/>
<path d="M135.3,710.4 L191.4,716.9 L191.4,722.9 L135.3,716.4 Z" fill="#c9c9cc" stroke="none" stroke-width="1" fill-opacity="0.75"/>
<line x1="135.3" y1="713.4" x2="191.4" y2="719.9" stroke="#26266e" stroke-width="0.9"/>
<circle cx="135.3" cy="712.7" r="1.75" fill="#1b1b63"/>
<circle cx="140.4" cy="710.3" r="1.75" fill="#1b1b63"/>
<circle cx="145.5" cy="713.4" r="1.75" fill="#1b1b63"/>
<circle cx="150.6" cy="719.9" r="1.75" fill="#1b1b63"/>
<circle cx="155.7" cy="716.9" r="1.75" fill="#1b1b63"/>
<circle cx="160.8" cy="719.2" r="1.75" fill="#1b1b63"/>
<circle cx="165.9" cy="715.7" r="1.75" fill="#1b1b63"/>
<circle cx="171" cy="717.6" r="1.75" fill="#1b1b63"/>
<circle cx="176.1" cy="715.7" r="1.75" fill="#1b1b63"/>
<circle cx="181.2" cy="715.7" r="1.75" fill="#1b1b63"/>
<circle cx="186.3" cy="725" r="1.75" fill="#1b1b63"/>
<circle cx="191.4" cy="717.6" r="1.75" fill="#1b1b63"/>
<path d="M94.9,764.9 L150.5,774.2 L150.5,781 L94.9,771.7 Z" fill="#c9c9cc" stroke="none" stroke-width="1" fill-opacity="0.75"/>
<line x1="94.9" y1="768.3" x2="150.5" y2="777.6" stroke="#3a33c8" stroke-width="0.9"/>
<circle cx="94.9" cy="769.9" r="1.75" fill="#2b23c6"/>
<circle cx="99.95" cy="764.7" r="1.75" fill="#2b23c6"/>
<circle cx="105.01" cy="767.6" r="1.75" fill="#2b23c6"/>
<circle cx="110.06" cy="776" r="1.75" fill="#2b23c6"/>
<circle cx="115.12" cy="772.2" r="1.75" fill="#2b23c6"/>
<circle cx="120.17" cy="770.6" r="1.75" fill="#2b23c6"/>
<circle cx="125.23" cy="767.6" r="1.75" fill="#2b23c6"/>
<circle cx="130.28" cy="772.9" r="1.75" fill="#2b23c6"/>
<circle cx="135.34" cy="778.8" r="1.75" fill="#2b23c6"/>
<circle cx="140.39" cy="774.6" r="1.75" fill="#2b23c6"/>
<circle cx="145.45" cy="778.3" r="1.75" fill="#2b23c6"/>
<circle cx="150.5" cy="776.4" r="1.75" fill="#2b23c6"/>
<path d="M74.6,792.9 L130.4,797.4 L130.4,804.6 L74.6,799.7 Z" fill="#c9c9cc" stroke="none" stroke-width="1" fill-opacity="0.75"/>
<line x1="74.6" y1="796.3" x2="130.4" y2="801" stroke="#6dcde0" stroke-width="0.9"/>
<circle cx="74.6" cy="794.4" r="1.75" fill="#5cc6dc"/>
<circle cx="79.67" cy="794" r="1.75" fill="#5cc6dc"/>
<circle cx="84.75" cy="793.5" r="1.75" fill="#5cc6dc"/>
<circle cx="89.82" cy="803.3" r="1.75" fill="#5cc6dc"/>
<circle cx="94.89" cy="798.6" r="1.75" fill="#5cc6dc"/>
<circle cx="99.96" cy="798.6" r="1.75" fill="#5cc6dc"/>
<circle cx="105.04" cy="805.2" r="1.75" fill="#5cc6dc"/>
<circle cx="110.11" cy="797.9" r="1.75" fill="#5cc6dc"/>
<circle cx="115.18" cy="797.9" r="1.75" fill="#5cc6dc"/>
<circle cx="120.25" cy="803.8" r="1.75" fill="#5cc6dc"/>
<circle cx="125.33" cy="797.9" r="1.75" fill="#5cc6dc"/>
<circle cx="130.4" cy="798.6" r="1.75" fill="#5cc6dc"/>
<line x1="68.5" y1="790.2" x2="197" y2="790.2" stroke="#707070" stroke-width="0.9"/>
<line x1="68.5" y1="703.5" x2="68.5" y2="812.8" stroke="#8a8a8a" stroke-width="1.0"/>
<path d="M68.5,701.5 L69.5,703.7 L67.5,703.7 Z" fill="#8a8a8a" stroke="none" stroke-width="1"/>
<text x="64.9" y="733.26" font-size="8" text-anchor="end" fill="#000" stroke="#000" stroke-width="0.2">0.2</text>
<text x="64.9" y="763.16" font-size="8" text-anchor="end" fill="#000" stroke="#000" stroke-width="0.2">0.1</text>
<text x="64.9" y="793.06" font-size="8" text-anchor="end" fill="#000" stroke="#000" stroke-width="0.2">0.0</text>
<text x="79.7" y="826.16" font-size="8" text-anchor="middle" fill="#000" stroke="#000" stroke-width="0.2">70</text>
<text x="105" y="826.16" font-size="8" text-anchor="middle" fill="#000" stroke="#000" stroke-width="0.2">75</text>
<text x="130.3" y="826.16" font-size="8" text-anchor="middle" fill="#000" stroke="#000" stroke-width="0.2">80</text>
<text x="155.6" y="826.16" font-size="8" text-anchor="middle" fill="#000" stroke="#000" stroke-width="0.2">85</text>
<text x="180.9" y="826.16" font-size="8" text-anchor="middle" fill="#000" stroke="#000" stroke-width="0.2">90</text>
<text x="166.1" y="708.58" font-size="7.5" text-anchor="middle" fill="#26266e" font-weight="bold" stroke="#26266e" stroke-width="0.1">T3</text>
<text x="135.8" y="759.98" font-size="7.5" text-anchor="middle" fill="#3a33c8" font-weight="bold" stroke="#3a33c8" stroke-width="0.1">T2</text>
<text x="108.9" y="788.48" font-size="7.5" text-anchor="middle" fill="#7fd0e2" font-weight="bold" stroke="#7fd0e2" stroke-width="0.1">T1</text>
<line x1="218.5" y1="804.85" x2="347" y2="804.85" stroke="#f5f5f5" stroke-width="0.6"/>
<line x1="218.5" y1="789.9" x2="347" y2="789.9" stroke="#ececec" stroke-width="0.6"/>
<line x1="218.5" y1="774.95" x2="347" y2="774.95" stroke="#f5f5f5" stroke-width="0.6"/>
<line x1="218.5" y1="760" x2="347" y2="760" stroke="#ececec" stroke-width="0.6"/>
<line x1="218.5" y1="745.05" x2="347" y2="745.05" stroke="#f5f5f5" stroke-width="0.6"/>
<line x1="218.5" y1="730.1" x2="347" y2="730.1" stroke="#ececec" stroke-width="0.6"/>
<line x1="218.5" y1="715.15" x2="347" y2="715.15" stroke="#f5f5f5" stroke-width="0.6"/>
<line x1="228.8" y1="702.5" x2="228.8" y2="812.8" stroke="#ececec" stroke-width="0.6"/>
<line x1="241.45" y1="702.5" x2="241.45" y2="812.8" stroke="#f5f5f5" stroke-width="0.6"/>
<line x1="254.1" y1="702.5" x2="254.1" y2="812.8" stroke="#ececec" stroke-width="0.6"/>
<line x1="266.75" y1="702.5" x2="266.75" y2="812.8" stroke="#f5f5f5" stroke-width="0.6"/>
<line x1="279.4" y1="702.5" x2="279.4" y2="812.8" stroke="#ececec" stroke-width="0.6"/>
<line x1="292.05" y1="702.5" x2="292.05" y2="812.8" stroke="#f5f5f5" stroke-width="0.6"/>
<line x1="304.7" y1="702.5" x2="304.7" y2="812.8" stroke="#ececec" stroke-width="0.6"/>
<line x1="317.35" y1="702.5" x2="317.35" y2="812.8" stroke="#f5f5f5" stroke-width="0.6"/>
<line x1="330" y1="702.5" x2="330" y2="812.8" stroke="#ececec" stroke-width="0.6"/>
<line x1="342.65" y1="702.5" x2="342.65" y2="812.8" stroke="#f5f5f5" stroke-width="0.6"/>
<path d="M284.6,714.5 L341.1,725.4 L341.1,732.6 L284.6,720.9 Z" fill="#c9c9cc" stroke="none" stroke-width="1" fill-opacity="0.75"/>
<line x1="284.6" y1="717.7" x2="341.1" y2="729" stroke="#26266e" stroke-width="0.9"/>
<circle cx="284.6" cy="717.7" r="1.75" fill="#1b1b63"/>
<circle cx="289.74" cy="718.4" r="1.75" fill="#1b1b63"/>
<circle cx="294.87" cy="724.3" r="1.75" fill="#1b1b63"/>
<circle cx="300.01" cy="718.2" r="1.75" fill="#1b1b63"/>
<circle cx="305.15" cy="718.9" r="1.75" fill="#1b1b63"/>
<circle cx="310.28" cy="716.1" r="1.75" fill="#1b1b63"/>
<circle cx="315.42" cy="724.7" r="1.75" fill="#1b1b63"/>
<circle cx="320.55" cy="724.7" r="1.75" fill="#1b1b63"/>
<circle cx="325.69" cy="721.9" r="1.75" fill="#1b1b63"/>
<circle cx="330.83" cy="724.7" r="1.75" fill="#1b1b63"/>
<circle cx="335.96" cy="735.3" r="1.75" fill="#1b1b63"/>
<circle cx="341.1" cy="729.9" r="1.75" fill="#1b1b63"/>
<path d="M244.2,767.7 L300.3,777.5 L300.3,785.1 L244.2,775.3 Z" fill="#c9c9cc" stroke="none" stroke-width="1" fill-opacity="0.75"/>
<line x1="244.2" y1="771.5" x2="300.3" y2="781.3" stroke="#3a33c8" stroke-width="0.9"/>
<circle cx="244.2" cy="767.3" r="1.75" fill="#2b23c6"/>
<circle cx="249.3" cy="778" r="1.75" fill="#2b23c6"/>
<circle cx="254.4" cy="771" r="1.75" fill="#2b23c6"/>
<circle cx="259.5" cy="772.2" r="1.75" fill="#2b23c6"/>
<circle cx="264.6" cy="779.6" r="1.75" fill="#2b23c6"/>
<circle cx="269.7" cy="768.7" r="1.75" fill="#2b23c6"/>
<circle cx="274.8" cy="781.5" r="1.75" fill="#2b23c6"/>
<circle cx="279.9" cy="777.3" r="1.75" fill="#2b23c6"/>
<circle cx="285" cy="777.3" r="1.75" fill="#2b23c6"/>
<circle cx="290.1" cy="775.7" r="1.75" fill="#2b23c6"/>
<circle cx="295.2" cy="787.1" r="1.75" fill="#2b23c6"/>
<circle cx="300.3" cy="778.5" r="1.75" fill="#2b23c6"/>
<path d="M223.9,794.9 L279.5,801.7 L279.5,808.9 L223.9,801.7 Z" fill="#c9c9cc" stroke="none" stroke-width="1" fill-opacity="0.75"/>
<line x1="223.9" y1="798.3" x2="279.5" y2="805.3" stroke="#6dcde0" stroke-width="0.9"/>
<circle cx="223.9" cy="794.4" r="1.75" fill="#5cc6dc"/>
<circle cx="228.95" cy="803" r="1.75" fill="#5cc6dc"/>
<circle cx="234.01" cy="799.5" r="1.75" fill="#5cc6dc"/>
<circle cx="239.06" cy="799.5" r="1.75" fill="#5cc6dc"/>
<circle cx="244.12" cy="800" r="1.75" fill="#5cc6dc"/>
<circle cx="249.17" cy="802.3" r="1.75" fill="#5cc6dc"/>
<circle cx="254.23" cy="809.3" r="1.75" fill="#5cc6dc"/>
<circle cx="259.28" cy="801.8" r="1.75" fill="#5cc6dc"/>
<circle cx="264.34" cy="804.2" r="1.75" fill="#5cc6dc"/>
<circle cx="269.39" cy="801.8" r="1.75" fill="#5cc6dc"/>
<circle cx="274.45" cy="803.7" r="1.75" fill="#5cc6dc"/>
<circle cx="279.5" cy="804.6" r="1.75" fill="#5cc6dc"/>
<line x1="218" y1="789.9" x2="347" y2="789.9" stroke="#707070" stroke-width="0.9"/>
<line x1="218" y1="703.5" x2="218" y2="812.8" stroke="#8a8a8a" stroke-width="1.0"/>
<path d="M218,701.5 L219,703.7 L217,703.7 Z" fill="#8a8a8a" stroke="none" stroke-width="1"/>
<text x="214.4" y="732.96" font-size="8" text-anchor="end" fill="#000" stroke="#000" stroke-width="0.2">0.2</text>
<text x="214.4" y="762.86" font-size="8" text-anchor="end" fill="#000" stroke="#000" stroke-width="0.2">0.1</text>
<text x="214.4" y="792.76" font-size="8" text-anchor="end" fill="#000" stroke="#000" stroke-width="0.2">0.0</text>
<text x="228.8" y="826.16" font-size="8" text-anchor="middle" fill="#000" stroke="#000" stroke-width="0.2">70</text>
<text x="254.1" y="826.16" font-size="8" text-anchor="middle" fill="#000" stroke="#000" stroke-width="0.2">75</text>
<text x="279.4" y="826.16" font-size="8" text-anchor="middle" fill="#000" stroke="#000" stroke-width="0.2">80</text>
<text x="304.7" y="826.16" font-size="8" text-anchor="middle" fill="#000" stroke="#000" stroke-width="0.2">85</text>
<text x="330" y="826.16" font-size="8" text-anchor="middle" fill="#000" stroke="#000" stroke-width="0.2">90</text>
<text x="318.5" y="715.28" font-size="7.5" text-anchor="middle" fill="#26266e" font-weight="bold" stroke="#26266e" stroke-width="0.1">T3</text>
<text x="280.6" y="768.98" font-size="7.5" text-anchor="middle" fill="#3a33c8" font-weight="bold" stroke="#3a33c8" stroke-width="0.1">T2</text>
<text x="256.6" y="797.48" font-size="7.5" text-anchor="middle" fill="#7fd0e2" font-weight="bold" stroke="#7fd0e2" stroke-width="0.1">T1</text>
<line x1="68.5" y1="812.8" x2="191.3" y2="812.8" stroke="#333" stroke-width="1.0"/>
<path d="M196.3,812.8 L189.3,816.4 L189.3,809.2 Z" fill="#000" stroke="none" stroke-width="1"/>
<line x1="218" y1="812.8" x2="341" y2="812.8" stroke="#333" stroke-width="1.0"/>
<path d="M346,812.8 L339,816.4 L339,809.2 Z" fill="#000" stroke="none" stroke-width="1"/>
<text x="136" y="839.8" font-size="8" text-anchor="middle" fill="#000" stroke="#000" stroke-width="0.2">Age when taking the test (month)</text>
<text x="284.6" y="839.8" font-size="8" text-anchor="middle" fill="#000" stroke="#000" stroke-width="0.2">Age when taking the test (month)</text>
<text x="484" y="588.3" font-size="8" text-anchor="middle" fill="#000" stroke="#000" stroke-width="0.2">Classes with boys</text>
<text x="484" y="597.5" font-size="8" text-anchor="middle" fill="#000" stroke="#000" stroke-width="0.2">as first of class</text>
<text x="611" y="588.4" font-size="8" text-anchor="middle" fill="#000" stroke="#000" stroke-width="0.2">Classes with girls</text>
<text x="611" y="598.4" font-size="8" text-anchor="middle" fill="#000" stroke="#000" stroke-width="0.2">as first of class</text>
<text x="389.6" y="653.94" font-size="11" text-anchor="middle" fill="#000" font-weight="bold" stroke="#000" stroke-width="0.1">2019</text>
<text x="389.6" y="769.64" font-size="11" text-anchor="middle" fill="#000" font-weight="bold" stroke="#000" stroke-width="0.1">2020</text>
<text x="389.6" y="880.04" font-size="11" text-anchor="middle" fill="#000" font-weight="bold" stroke="#000" stroke-width="0.1">2021</text>
<line x1="427.1" y1="687.98" x2="533" y2="687.98" stroke="#f5f5f5" stroke-width="0.6"/>
<line x1="427.1" y1="675.6" x2="533" y2="675.6" stroke="#ececec" stroke-width="0.6"/>
<line x1="427.1" y1="663.23" x2="533" y2="663.23" stroke="#f5f5f5" stroke-width="0.6"/>
<line x1="427.1" y1="650.85" x2="533" y2="650.85" stroke="#ececec" stroke-width="0.6"/>
<line x1="427.1" y1="638.48" x2="533" y2="638.48" stroke="#f5f5f5" stroke-width="0.6"/>
<line x1="427.1" y1="626.1" x2="533" y2="626.1" stroke="#ececec" stroke-width="0.6"/>
<line x1="427.1" y1="613.73" x2="533" y2="613.73" stroke="#f5f5f5" stroke-width="0.6"/>
<line x1="436.1" y1="603.5" x2="436.1" y2="693.3" stroke="#ececec" stroke-width="0.6"/>
<line x1="446.55" y1="603.5" x2="446.55" y2="693.3" stroke="#f5f5f5" stroke-width="0.6"/>
<line x1="457" y1="603.5" x2="457" y2="693.3" stroke="#ececec" stroke-width="0.6"/>
<line x1="467.45" y1="603.5" x2="467.45" y2="693.3" stroke="#f5f5f5" stroke-width="0.6"/>
<line x1="477.9" y1="603.5" x2="477.9" y2="693.3" stroke="#ececec" stroke-width="0.6"/>
<line x1="488.35" y1="603.5" x2="488.35" y2="693.3" stroke="#f5f5f5" stroke-width="0.6"/>
<line x1="498.8" y1="603.5" x2="498.8" y2="693.3" stroke="#ececec" stroke-width="0.6"/>
<line x1="509.25" y1="603.5" x2="509.25" y2="693.3" stroke="#f5f5f5" stroke-width="0.6"/>
<line x1="519.7" y1="603.5" x2="519.7" y2="693.3" stroke="#ececec" stroke-width="0.6"/>
<line x1="530.15" y1="603.5" x2="530.15" y2="693.3" stroke="#f5f5f5" stroke-width="0.6"/>
<path d="M481.6,615.3 L527.9,620.5 L527.9,626.5 L481.6,620.5 Z" fill="#c9c9cc" stroke="none" stroke-width="1" fill-opacity="0.75"/>
<line x1="481.6" y1="617.9" x2="527.9" y2="623.5" stroke="#26266e" stroke-width="0.9"/>
<circle cx="481.6" cy="618.4" r="1.55" fill="#1b1b63"/>
<circle cx="485.81" cy="616.5" r="1.55" fill="#1b1b63"/>
<circle cx="490.02" cy="620.2" r="1.55" fill="#1b1b63"/>
<circle cx="494.23" cy="617.2" r="1.55" fill="#1b1b63"/>
<circle cx="498.44" cy="621.2" r="1.55" fill="#1b1b63"/>
<circle cx="502.65" cy="621.2" r="1.55" fill="#1b1b63"/>
<circle cx="506.85" cy="618.8" r="1.55" fill="#1b1b63"/>
<circle cx="511.06" cy="620.2" r="1.55" fill="#1b1b63"/>
<circle cx="515.27" cy="622.6" r="1.55" fill="#1b1b63"/>
<circle cx="519.48" cy="622.6" r="1.55" fill="#1b1b63"/>
<circle cx="523.69" cy="628.9" r="1.55" fill="#1b1b63"/>
<circle cx="527.9" cy="618.4" r="1.55" fill="#1b1b63"/>
<path d="M447.7,641.8 L494.5,649.1 L494.5,656.7 L447.7,648.6 Z" fill="#c9c9cc" stroke="none" stroke-width="1" fill-opacity="0.75"/>
<line x1="447.7" y1="645.2" x2="494.5" y2="652.9" stroke="#3a33c8" stroke-width="0.9"/>
<circle cx="447.7" cy="645.9" r="1.55" fill="#2b23c6"/>
<circle cx="451.95" cy="643.4" r="1.55" fill="#2b23c6"/>
<circle cx="456.21" cy="645.2" r="1.55" fill="#2b23c6"/>
<circle cx="460.46" cy="648.3" r="1.55" fill="#2b23c6"/>
<circle cx="464.72" cy="651.5" r="1.55" fill="#2b23c6"/>
<circle cx="468.97" cy="647.6" r="1.55" fill="#2b23c6"/>
<circle cx="473.23" cy="646.4" r="1.55" fill="#2b23c6"/>
<circle cx="477.48" cy="650.6" r="1.55" fill="#2b23c6"/>
<circle cx="481.74" cy="654.1" r="1.55" fill="#2b23c6"/>
<circle cx="485.99" cy="653.4" r="1.55" fill="#2b23c6"/>
<circle cx="490.25" cy="658.5" r="1.55" fill="#2b23c6"/>
<circle cx="494.5" cy="645.9" r="1.55" fill="#2b23c6"/>
<path d="M430.9,665.9 L477.6,669.4 L477.6,679.4 L430.9,675.9 Z" fill="#d5dadb" stroke="none" stroke-width="1" fill-opacity="0.75"/>
<line x1="430.9" y1="670.9" x2="477.6" y2="674.4" stroke="#6dcde0" stroke-width="0.9"/>
<circle cx="430.9" cy="676.3" r="1.55" fill="#5cc6dc"/>
<circle cx="435.15" cy="671.6" r="1.55" fill="#5cc6dc"/>
<circle cx="439.39" cy="666.2" r="1.55" fill="#5cc6dc"/>
<circle cx="443.64" cy="670.9" r="1.55" fill="#5cc6dc"/>
<circle cx="447.88" cy="671.6" r="1.55" fill="#5cc6dc"/>
<circle cx="452.13" cy="675.6" r="1.55" fill="#5cc6dc"/>
<circle cx="456.37" cy="670.9" r="1.55" fill="#5cc6dc"/>
<circle cx="460.62" cy="669.7" r="1.55" fill="#5cc6dc"/>
<circle cx="464.86" cy="677.2" r="1.55" fill="#5cc6dc"/>
<circle cx="469.11" cy="673.3" r="1.55" fill="#5cc6dc"/>
<circle cx="473.35" cy="681.9" r="1.55" fill="#5cc6dc"/>
<circle cx="477.6" cy="672.1" r="1.55" fill="#5cc6dc"/>
<line x1="426.6" y1="675.6" x2="533" y2="675.6" stroke="#707070" stroke-width="0.9"/>
<line x1="426.6" y1="604.5" x2="426.6" y2="693.3" stroke="#8a8a8a" stroke-width="1.0"/>
<path d="M426.6,602.5 L427.6,604.7 L425.6,604.7 Z" fill="#8a8a8a" stroke="none" stroke-width="1"/>
<text x="423" y="628.96" font-size="8" text-anchor="end" fill="#000" stroke="#000" stroke-width="0.2">0.2</text>
<text x="423" y="653.71" font-size="8" text-anchor="end" fill="#000" stroke="#000" stroke-width="0.2">0.1</text>
<text x="423" y="678.46" font-size="8" text-anchor="end" fill="#000" stroke="#000" stroke-width="0.2">0.0</text>
<text x="436.1" y="702.96" font-size="8" text-anchor="middle" fill="#000" stroke="#000" stroke-width="0.2">70</text>
<text x="457" y="702.96" font-size="8" text-anchor="middle" fill="#000" stroke="#000" stroke-width="0.2">75</text>
<text x="477.9" y="702.96" font-size="8" text-anchor="middle" fill="#000" stroke="#000" stroke-width="0.2">80</text>
<text x="498.8" y="702.96" font-size="8" text-anchor="middle" fill="#000" stroke="#000" stroke-width="0.2">85</text>
<text x="519.7" y="702.96" font-size="8" text-anchor="middle" fill="#000" stroke="#000" stroke-width="0.2">90</text>
<line x1="555.4" y1="687.77" x2="662.8" y2="687.77" stroke="#f5f5f5" stroke-width="0.6"/>
<line x1="555.4" y1="675.4" x2="662.8" y2="675.4" stroke="#ececec" stroke-width="0.6"/>
<line x1="555.4" y1="663.02" x2="662.8" y2="663.02" stroke="#f5f5f5" stroke-width="0.6"/>
<line x1="555.4" y1="650.65" x2="662.8" y2="650.65" stroke="#ececec" stroke-width="0.6"/>
<line x1="555.4" y1="638.27" x2="662.8" y2="638.27" stroke="#f5f5f5" stroke-width="0.6"/>
<line x1="555.4" y1="625.9" x2="662.8" y2="625.9" stroke="#ececec" stroke-width="0.6"/>
<line x1="555.4" y1="613.52" x2="662.8" y2="613.52" stroke="#f5f5f5" stroke-width="0.6"/>
<line x1="563.5" y1="602.5" x2="563.5" y2="694" stroke="#ececec" stroke-width="0.6"/>
<line x1="574.1" y1="602.5" x2="574.1" y2="694" stroke="#f5f5f5" stroke-width="0.6"/>
<line x1="584.7" y1="602.5" x2="584.7" y2="694" stroke="#ececec" stroke-width="0.6"/>
<line x1="595.3" y1="602.5" x2="595.3" y2="694" stroke="#f5f5f5" stroke-width="0.6"/>
<line x1="605.9" y1="602.5" x2="605.9" y2="694" stroke="#ececec" stroke-width="0.6"/>
<line x1="616.5" y1="602.5" x2="616.5" y2="694" stroke="#f5f5f5" stroke-width="0.6"/>
<line x1="627.1" y1="602.5" x2="627.1" y2="694" stroke="#ececec" stroke-width="0.6"/>
<line x1="637.7" y1="602.5" x2="637.7" y2="694" stroke="#f5f5f5" stroke-width="0.6"/>
<line x1="648.3" y1="602.5" x2="648.3" y2="694" stroke="#ececec" stroke-width="0.6"/>
<line x1="658.9" y1="602.5" x2="658.9" y2="694" stroke="#f5f5f5" stroke-width="0.6"/>
<path d="M611.4,618.1 L658.1,627.1 L658.1,635.1 L611.4,625.3 Z" fill="#c9c9cc" stroke="none" stroke-width="1" fill-opacity="0.75"/>
<line x1="611.4" y1="621.7" x2="658.1" y2="631.1" stroke="#26266e" stroke-width="0.9"/>
<circle cx="611.4" cy="622.9" r="1.55" fill="#1b1b63"/>
<circle cx="615.65" cy="621.7" r="1.55" fill="#1b1b63"/>
<circle cx="619.89" cy="627.6" r="1.55" fill="#1b1b63"/>
<circle cx="624.14" cy="618.9" r="1.55" fill="#1b1b63"/>
<circle cx="628.38" cy="626.4" r="1.55" fill="#1b1b63"/>
<circle cx="632.63" cy="624.5" r="1.55" fill="#1b1b63"/>
<circle cx="636.87" cy="621.7" r="1.55" fill="#1b1b63"/>
<circle cx="641.12" cy="630.6" r="1.55" fill="#1b1b63"/>
<circle cx="645.36" cy="634.6" r="1.55" fill="#1b1b63"/>
<circle cx="649.61" cy="628.3" r="1.55" fill="#1b1b63"/>
<circle cx="653.85" cy="628.3" r="1.55" fill="#1b1b63"/>
<circle cx="658.1" cy="630.6" r="1.55" fill="#1b1b63"/>
<path d="M577.1,644.3 L624.3,654.2 L624.3,665 L577.1,654.3 Z" fill="#c9c9cc" stroke="none" stroke-width="1" fill-opacity="0.75"/>
<line x1="577.1" y1="649.3" x2="624.3" y2="659.6" stroke="#3a33c8" stroke-width="0.9"/>
<circle cx="577.1" cy="653.3" r="1.55" fill="#2b23c6"/>
<circle cx="581.39" cy="647.4" r="1.55" fill="#2b23c6"/>
<circle cx="585.68" cy="654" r="1.55" fill="#2b23c6"/>
<circle cx="589.97" cy="645.5" r="1.55" fill="#2b23c6"/>
<circle cx="594.26" cy="655.6" r="1.55" fill="#2b23c6"/>
<circle cx="598.55" cy="648.6" r="1.55" fill="#2b23c6"/>
<circle cx="602.85" cy="652.6" r="1.55" fill="#2b23c6"/>
<circle cx="607.14" cy="661.4" r="1.55" fill="#2b23c6"/>
<circle cx="611.43" cy="666.1" r="1.55" fill="#2b23c6"/>
<circle cx="615.72" cy="653.3" r="1.55" fill="#2b23c6"/>
<circle cx="620.01" cy="663.3" r="1.55" fill="#2b23c6"/>
<circle cx="624.3" cy="652.1" r="1.55" fill="#2b23c6"/>
<path d="M560,670.6 L606.8,677.4 L606.8,686.6 L560,679.4 Z" fill="#d5dadb" stroke="none" stroke-width="1" fill-opacity="0.75"/>
<line x1="560" y1="675" x2="606.8" y2="682" stroke="#6dcde0" stroke-width="0.9"/>
<circle cx="560" cy="679" r="1.55" fill="#5cc6dc"/>
<circle cx="564.25" cy="674.3" r="1.55" fill="#5cc6dc"/>
<circle cx="568.51" cy="680.6" r="1.55" fill="#5cc6dc"/>
<circle cx="572.76" cy="670.3" r="1.55" fill="#5cc6dc"/>
<circle cx="577.02" cy="677.3" r="1.55" fill="#5cc6dc"/>
<circle cx="581.27" cy="675.4" r="1.55" fill="#5cc6dc"/>
<circle cx="585.53" cy="675.4" r="1.55" fill="#5cc6dc"/>
<circle cx="589.78" cy="682.5" r="1.55" fill="#5cc6dc"/>
<circle cx="594.04" cy="685.3" r="1.55" fill="#5cc6dc"/>
<circle cx="598.29" cy="679" r="1.55" fill="#5cc6dc"/>
<circle cx="602.55" cy="684.3" r="1.55" fill="#5cc6dc"/>
<circle cx="606.8" cy="678.5" r="1.55" fill="#5cc6dc"/>
<line x1="554.9" y1="675.4" x2="662.8" y2="675.4" stroke="#707070" stroke-width="0.9"/>
<line x1="554.9" y1="603.5" x2="554.9" y2="694" stroke="#8a8a8a" stroke-width="1.0"/>
<path d="M554.9,601.5 L555.9,603.7 L553.9,603.7 Z" fill="#8a8a8a" stroke="none" stroke-width="1"/>
<text x="551.3" y="628.76" font-size="8" text-anchor="end" fill="#000" stroke="#000" stroke-width="0.2">0.2</text>
<text x="551.3" y="653.51" font-size="8" text-anchor="end" fill="#000" stroke="#000" stroke-width="0.2">0.1</text>
<text x="551.3" y="678.26" font-size="8" text-anchor="end" fill="#000" stroke="#000" stroke-width="0.2">0.0</text>
<text x="563.5" y="703.96" font-size="8" text-anchor="middle" fill="#000" stroke="#000" stroke-width="0.2">70</text>
<text x="584.7" y="703.96" font-size="8" text-anchor="middle" fill="#000" stroke="#000" stroke-width="0.2">75</text>
<text x="605.9" y="703.96" font-size="8" text-anchor="middle" fill="#000" stroke="#000" stroke-width="0.2">80</text>
<text x="627.1" y="703.96" font-size="8" text-anchor="middle" fill="#000" stroke="#000" stroke-width="0.2">85</text>
<text x="648.3" y="703.96" font-size="8" text-anchor="middle" fill="#000" stroke="#000" stroke-width="0.2">90</text>
<line x1="426.5" y1="800.5" x2="534.6" y2="800.5" stroke="#f5f5f5" stroke-width="0.6"/>
<line x1="426.5" y1="788.4" x2="534.6" y2="788.4" stroke="#ececec" stroke-width="0.6"/>
<line x1="426.5" y1="776.3" x2="534.6" y2="776.3" stroke="#f5f5f5" stroke-width="0.6"/>
<line x1="426.5" y1="764.2" x2="534.6" y2="764.2" stroke="#ececec" stroke-width="0.6"/>
<line x1="426.5" y1="752.1" x2="534.6" y2="752.1" stroke="#f5f5f5" stroke-width="0.6"/>
<line x1="426.5" y1="740" x2="534.6" y2="740" stroke="#ececec" stroke-width="0.6"/>
<line x1="426.5" y1="727.9" x2="534.6" y2="727.9" stroke="#f5f5f5" stroke-width="0.6"/>
<line x1="436.1" y1="716" x2="436.1" y2="806.6" stroke="#ececec" stroke-width="0.6"/>
<line x1="446.75" y1="716" x2="446.75" y2="806.6" stroke="#f5f5f5" stroke-width="0.6"/>
<line x1="457.4" y1="716" x2="457.4" y2="806.6" stroke="#ececec" stroke-width="0.6"/>
<line x1="468.05" y1="716" x2="468.05" y2="806.6" stroke="#f5f5f5" stroke-width="0.6"/>
<line x1="478.7" y1="716" x2="478.7" y2="806.6" stroke="#ececec" stroke-width="0.6"/>
<line x1="489.35" y1="716" x2="489.35" y2="806.6" stroke="#f5f5f5" stroke-width="0.6"/>
<line x1="500" y1="716" x2="500" y2="806.6" stroke="#ececec" stroke-width="0.6"/>
<line x1="510.65" y1="716" x2="510.65" y2="806.6" stroke="#f5f5f5" stroke-width="0.6"/>
<line x1="521.3" y1="716" x2="521.3" y2="806.6" stroke="#ececec" stroke-width="0.6"/>
<line x1="531.95" y1="716" x2="531.95" y2="806.6" stroke="#f5f5f5" stroke-width="0.6"/>
<path d="M482.3,725.8 L529.5,727.4 L529.5,732.6 L482.3,731 Z" fill="#c9c9cc" stroke="none" stroke-width="1" fill-opacity="0.75"/>
<line x1="482.3" y1="728.4" x2="529.5" y2="730" stroke="#26266e" stroke-width="0.9"/>
<circle cx="482.3" cy="731.2" r="1.55" fill="#1b1b63"/>
<circle cx="486.59" cy="726.5" r="1.55" fill="#1b1b63"/>
<circle cx="490.88" cy="727.2" r="1.55" fill="#1b1b63"/>
<circle cx="495.17" cy="730.7" r="1.55" fill="#1b1b63"/>
<circle cx="499.46" cy="728.4" r="1.55" fill="#1b1b63"/>
<circle cx="503.75" cy="728.4" r="1.55" fill="#1b1b63"/>
<circle cx="508.05" cy="734.2" r="1.55" fill="#1b1b63"/>
<circle cx="512.34" cy="728.4" r="1.55" fill="#1b1b63"/>
<circle cx="516.63" cy="733" r="1.55" fill="#1b1b63"/>
<circle cx="520.92" cy="728.4" r="1.55" fill="#1b1b63"/>
<circle cx="525.21" cy="731.9" r="1.55" fill="#1b1b63"/>
<circle cx="529.5" cy="729.5" r="1.55" fill="#1b1b63"/>
<path d="M448.2,760.3 L495.2,759.4 L495.2,764.2 L448.2,765.1 Z" fill="#c9c9cc" stroke="none" stroke-width="1" fill-opacity="0.75"/>
<line x1="448.2" y1="762.7" x2="495.2" y2="761.8" stroke="#3a33c8" stroke-width="0.9"/>
<circle cx="448.2" cy="765.7" r="1.55" fill="#2b23c6"/>
<circle cx="452.47" cy="759.9" r="1.55" fill="#2b23c6"/>
<circle cx="456.75" cy="759.9" r="1.55" fill="#2b23c6"/>
<circle cx="461.02" cy="761.1" r="1.55" fill="#2b23c6"/>
<circle cx="465.29" cy="762.2" r="1.55" fill="#2b23c6"/>
<circle cx="469.56" cy="764.1" r="1.55" fill="#2b23c6"/>
<circle cx="473.84" cy="762.9" r="1.55" fill="#2b23c6"/>
<circle cx="478.11" cy="759.2" r="1.55" fill="#2b23c6"/>
<circle cx="482.38" cy="764.6" r="1.55" fill="#2b23c6"/>
<circle cx="486.65" cy="762.2" r="1.55" fill="#2b23c6"/>
<circle cx="490.93" cy="761.8" r="1.55" fill="#2b23c6"/>
<circle cx="495.2" cy="759.9" r="1.55" fill="#2b23c6"/>
<path d="M430.9,780.4 L478.1,785.5 L478.1,792.7 L430.9,787.6 Z" fill="#d5dadb" stroke="none" stroke-width="1" fill-opacity="0.75"/>
<line x1="430.9" y1="784" x2="478.1" y2="789.1" stroke="#6dcde0" stroke-width="0.9"/>
<circle cx="430.9" cy="791.4" r="1.55" fill="#5cc6dc"/>
<circle cx="435.19" cy="784.4" r="1.55" fill="#5cc6dc"/>
<circle cx="439.48" cy="780.9" r="1.55" fill="#5cc6dc"/>
<circle cx="443.77" cy="781.6" r="1.55" fill="#5cc6dc"/>
<circle cx="448.06" cy="786.3" r="1.55" fill="#5cc6dc"/>
<circle cx="452.35" cy="786.8" r="1.55" fill="#5cc6dc"/>
<circle cx="456.65" cy="791" r="1.55" fill="#5cc6dc"/>
<circle cx="460.94" cy="786.8" r="1.55" fill="#5cc6dc"/>
<circle cx="465.23" cy="787.2" r="1.55" fill="#5cc6dc"/>
<circle cx="469.52" cy="787.2" r="1.55" fill="#5cc6dc"/>
<circle cx="473.81" cy="786.8" r="1.55" fill="#5cc6dc"/>
<circle cx="478.1" cy="787.2" r="1.55" fill="#5cc6dc"/>
<line x1="426" y1="788.4" x2="534.6" y2="788.4" stroke="#707070" stroke-width="0.9"/>
<line x1="426" y1="717" x2="426" y2="806.6" stroke="#8a8a8a" stroke-width="1.0"/>
<path d="M426,715 L427,717.2 L425,717.2 Z" fill="#8a8a8a" stroke="none" stroke-width="1"/>
<text x="422.4" y="742.86" font-size="8" text-anchor="end" fill="#000" stroke="#000" stroke-width="0.2">0.2</text>
<text x="422.4" y="767.06" font-size="8" text-anchor="end" fill="#000" stroke="#000" stroke-width="0.2">0.1</text>
<text x="422.4" y="791.26" font-size="8" text-anchor="end" fill="#000" stroke="#000" stroke-width="0.2">0.0</text>
<text x="436.1" y="816.96" font-size="8" text-anchor="middle" fill="#000" stroke="#000" stroke-width="0.2">70</text>
<text x="457.4" y="816.96" font-size="8" text-anchor="middle" fill="#000" stroke="#000" stroke-width="0.2">75</text>
<text x="478.7" y="816.96" font-size="8" text-anchor="middle" fill="#000" stroke="#000" stroke-width="0.2">80</text>
<text x="500" y="816.96" font-size="8" text-anchor="middle" fill="#000" stroke="#000" stroke-width="0.2">85</text>
<text x="521.3" y="816.96" font-size="8" text-anchor="middle" fill="#000" stroke="#000" stroke-width="0.2">90</text>
<line x1="555.2" y1="802.45" x2="669.8" y2="802.45" stroke="#f5f5f5" stroke-width="0.6"/>
<line x1="555.2" y1="789.6" x2="669.8" y2="789.6" stroke="#ececec" stroke-width="0.6"/>
<line x1="555.2" y1="776.75" x2="669.8" y2="776.75" stroke="#f5f5f5" stroke-width="0.6"/>
<line x1="555.2" y1="763.9" x2="669.8" y2="763.9" stroke="#ececec" stroke-width="0.6"/>
<line x1="555.2" y1="751.05" x2="669.8" y2="751.05" stroke="#f5f5f5" stroke-width="0.6"/>
<line x1="555.2" y1="738.2" x2="669.8" y2="738.2" stroke="#ececec" stroke-width="0.6"/>
<line x1="555.2" y1="725.35" x2="669.8" y2="725.35" stroke="#f5f5f5" stroke-width="0.6"/>
<line x1="563.5" y1="714.4" x2="563.5" y2="809" stroke="#ececec" stroke-width="0.6"/>
<line x1="574.75" y1="714.4" x2="574.75" y2="809" stroke="#f5f5f5" stroke-width="0.6"/>
<line x1="586" y1="714.4" x2="586" y2="809" stroke="#ececec" stroke-width="0.6"/>
<line x1="597.25" y1="714.4" x2="597.25" y2="809" stroke="#f5f5f5" stroke-width="0.6"/>
<line x1="608.5" y1="714.4" x2="608.5" y2="809" stroke="#ececec" stroke-width="0.6"/>
<line x1="619.75" y1="714.4" x2="619.75" y2="809" stroke="#f5f5f5" stroke-width="0.6"/>
<line x1="631" y1="714.4" x2="631" y2="809" stroke="#ececec" stroke-width="0.6"/>
<line x1="642.25" y1="714.4" x2="642.25" y2="809" stroke="#f5f5f5" stroke-width="0.6"/>
<line x1="653.5" y1="714.4" x2="653.5" y2="809" stroke="#ececec" stroke-width="0.6"/>
<line x1="664.75" y1="714.4" x2="664.75" y2="809" stroke="#f5f5f5" stroke-width="0.6"/>
<path d="M614.2,730.1 L664.5,739.2 L664.5,746.4 L614.2,736.9 Z" fill="#c9c9cc" stroke="none" stroke-width="1" fill-opacity="0.75"/>
<line x1="614.2" y1="733.5" x2="664.5" y2="742.8" stroke="#26266e" stroke-width="0.9"/>
<circle cx="614.2" cy="738.9" r="1.55" fill="#1b1b63"/>
<circle cx="618.77" cy="735.8" r="1.55" fill="#1b1b63"/>
<circle cx="623.35" cy="734.9" r="1.55" fill="#1b1b63"/>
<circle cx="627.92" cy="734.9" r="1.55" fill="#1b1b63"/>
<circle cx="632.49" cy="733.5" r="1.55" fill="#1b1b63"/>
<circle cx="637.06" cy="735.8" r="1.55" fill="#1b1b63"/>
<circle cx="641.64" cy="735.8" r="1.55" fill="#1b1b63"/>
<circle cx="646.21" cy="741.9" r="1.55" fill="#1b1b63"/>
<circle cx="650.78" cy="739.6" r="1.55" fill="#1b1b63"/>
<circle cx="655.35" cy="738.4" r="1.55" fill="#1b1b63"/>
<circle cx="659.93" cy="744.2" r="1.55" fill="#1b1b63"/>
<circle cx="664.5" cy="747.7" r="1.55" fill="#1b1b63"/>
<path d="M578.3,764.8 L627.8,770.2 L627.8,776.2 L578.3,770.4 Z" fill="#c9c9cc" stroke="none" stroke-width="1" fill-opacity="0.75"/>
<line x1="578.3" y1="767.6" x2="627.8" y2="773.2" stroke="#3a33c8" stroke-width="0.9"/>
<circle cx="578.3" cy="770.4" r="1.55" fill="#2b23c6"/>
<circle cx="582.8" cy="769.9" r="1.55" fill="#2b23c6"/>
<circle cx="587.3" cy="768.1" r="1.55" fill="#2b23c6"/>
<circle cx="591.8" cy="763.9" r="1.55" fill="#2b23c6"/>
<circle cx="596.3" cy="770.9" r="1.55" fill="#2b23c6"/>
<circle cx="600.8" cy="770.9" r="1.55" fill="#2b23c6"/>
<circle cx="605.3" cy="768.5" r="1.55" fill="#2b23c6"/>
<circle cx="609.8" cy="769.2" r="1.55" fill="#2b23c6"/>
<circle cx="614.3" cy="772.7" r="1.55" fill="#2b23c6"/>
<circle cx="618.8" cy="770.4" r="1.55" fill="#2b23c6"/>
<circle cx="623.3" cy="774.6" r="1.55" fill="#2b23c6"/>
<circle cx="627.8" cy="775.1" r="1.55" fill="#2b23c6"/>
<path d="M560,791.9 L609.6,792.6 L609.6,798.6 L560,797.9 Z" fill="#d5dadb" stroke="none" stroke-width="1" fill-opacity="0.75"/>
<line x1="560" y1="794.9" x2="609.6" y2="795.6" stroke="#6dcde0" stroke-width="0.9"/>
<circle cx="560" cy="798.9" r="1.55" fill="#5cc6dc"/>
<circle cx="564.51" cy="797.3" r="1.55" fill="#5cc6dc"/>
<circle cx="569.02" cy="793.3" r="1.55" fill="#5cc6dc"/>
<circle cx="573.53" cy="791.4" r="1.55" fill="#5cc6dc"/>
<circle cx="578.04" cy="795.6" r="1.55" fill="#5cc6dc"/>
<circle cx="582.55" cy="794.2" r="1.55" fill="#5cc6dc"/>
<circle cx="587.05" cy="798" r="1.55" fill="#5cc6dc"/>
<circle cx="591.56" cy="794.9" r="1.55" fill="#5cc6dc"/>
<circle cx="596.07" cy="796.6" r="1.55" fill="#5cc6dc"/>
<circle cx="600.58" cy="791" r="1.55" fill="#5cc6dc"/>
<circle cx="605.09" cy="794.2" r="1.55" fill="#5cc6dc"/>
<circle cx="609.6" cy="800.3" r="1.55" fill="#5cc6dc"/>
<line x1="554.7" y1="789.6" x2="669.8" y2="789.6" stroke="#707070" stroke-width="0.9"/>
<line x1="554.7" y1="715.4" x2="554.7" y2="809" stroke="#8a8a8a" stroke-width="1.0"/>
<path d="M554.7,713.4 L555.7,715.6 L553.7,715.6 Z" fill="#8a8a8a" stroke="none" stroke-width="1"/>
<text x="551.1" y="741.06" font-size="8" text-anchor="end" fill="#000" stroke="#000" stroke-width="0.2">0.2</text>
<text x="551.1" y="766.76" font-size="8" text-anchor="end" fill="#000" stroke="#000" stroke-width="0.2">0.1</text>
<text x="551.1" y="792.46" font-size="8" text-anchor="end" fill="#000" stroke="#000" stroke-width="0.2">0.0</text>
<text x="563.5" y="818.86" font-size="8" text-anchor="middle" fill="#000" stroke="#000" stroke-width="0.2">70</text>
<text x="586" y="818.86" font-size="8" text-anchor="middle" fill="#000" stroke="#000" stroke-width="0.2">75</text>
<text x="608.5" y="818.86" font-size="8" text-anchor="middle" fill="#000" stroke="#000" stroke-width="0.2">80</text>
<text x="631" y="818.86" font-size="8" text-anchor="middle" fill="#000" stroke="#000" stroke-width="0.2">85</text>
<text x="653.5" y="818.86" font-size="8" text-anchor="middle" fill="#000" stroke="#000" stroke-width="0.2">90</text>
<line x1="424.4" y1="912.35" x2="534.6" y2="912.35" stroke="#f5f5f5" stroke-width="0.6"/>
<line x1="424.4" y1="900.1" x2="534.6" y2="900.1" stroke="#ececec" stroke-width="0.6"/>
<line x1="424.4" y1="887.85" x2="534.6" y2="887.85" stroke="#f5f5f5" stroke-width="0.6"/>
<line x1="424.4" y1="875.6" x2="534.6" y2="875.6" stroke="#ececec" stroke-width="0.6"/>
<line x1="424.4" y1="863.35" x2="534.6" y2="863.35" stroke="#f5f5f5" stroke-width="0.6"/>
<line x1="424.4" y1="851.1" x2="534.6" y2="851.1" stroke="#ececec" stroke-width="0.6"/>
<line x1="424.4" y1="838.85" x2="534.6" y2="838.85" stroke="#f5f5f5" stroke-width="0.6"/>
<line x1="433.3" y1="827" x2="433.3" y2="916.9" stroke="#ececec" stroke-width="0.6"/>
<line x1="444.18" y1="827" x2="444.18" y2="916.9" stroke="#f5f5f5" stroke-width="0.6"/>
<line x1="455.05" y1="827" x2="455.05" y2="916.9" stroke="#ececec" stroke-width="0.6"/>
<line x1="465.93" y1="827" x2="465.93" y2="916.9" stroke="#f5f5f5" stroke-width="0.6"/>
<line x1="476.8" y1="827" x2="476.8" y2="916.9" stroke="#ececec" stroke-width="0.6"/>
<line x1="487.68" y1="827" x2="487.68" y2="916.9" stroke="#f5f5f5" stroke-width="0.6"/>
<line x1="498.55" y1="827" x2="498.55" y2="916.9" stroke="#ececec" stroke-width="0.6"/>
<line x1="509.43" y1="827" x2="509.43" y2="916.9" stroke="#f5f5f5" stroke-width="0.6"/>
<line x1="520.3" y1="827" x2="520.3" y2="916.9" stroke="#ececec" stroke-width="0.6"/>
<line x1="531.17" y1="827" x2="531.17" y2="916.9" stroke="#f5f5f5" stroke-width="0.6"/>
<path d="M480.9,835.6 L529.5,841.9 L529.5,847.1 L480.9,840.8 Z" fill="#c9c9cc" stroke="none" stroke-width="1" fill-opacity="0.75"/>
<line x1="480.9" y1="838.2" x2="529.5" y2="844.5" stroke="#26266e" stroke-width="0.9"/>
<circle cx="480.9" cy="836.8" r="1.55" fill="#1b1b63"/>
<circle cx="485.32" cy="839.9" r="1.55" fill="#1b1b63"/>
<circle cx="489.74" cy="838.2" r="1.55" fill="#1b1b63"/>
<circle cx="494.15" cy="843.4" r="1.55" fill="#1b1b63"/>
<circle cx="498.57" cy="840.6" r="1.55" fill="#1b1b63"/>
<circle cx="502.99" cy="841" r="1.55" fill="#1b1b63"/>
<circle cx="507.41" cy="843.4" r="1.55" fill="#1b1b63"/>
<circle cx="511.83" cy="841" r="1.55" fill="#1b1b63"/>
<circle cx="516.25" cy="839.9" r="1.55" fill="#1b1b63"/>
<circle cx="520.66" cy="845.7" r="1.55" fill="#1b1b63"/>
<circle cx="525.08" cy="843.4" r="1.55" fill="#1b1b63"/>
<circle cx="529.5" cy="844.5" r="1.55" fill="#1b1b63"/>
<path d="M446.6,873.8 L494.5,873.1 L494.5,879.9 L446.6,880.6 Z" fill="#c9c9cc" stroke="none" stroke-width="1" fill-opacity="0.75"/>
<line x1="446.6" y1="877.2" x2="494.5" y2="876.5" stroke="#3a33c8" stroke-width="0.9"/>
<circle cx="446.6" cy="876.5" r="1.55" fill="#2b23c6"/>
<circle cx="450.95" cy="876" r="1.55" fill="#2b23c6"/>
<circle cx="455.31" cy="879.6" r="1.55" fill="#2b23c6"/>
<circle cx="459.66" cy="879.6" r="1.55" fill="#2b23c6"/>
<circle cx="464.02" cy="881.2" r="1.55" fill="#2b23c6"/>
<circle cx="468.37" cy="878.4" r="1.55" fill="#2b23c6"/>
<circle cx="472.73" cy="879.6" r="1.55" fill="#2b23c6"/>
<circle cx="477.08" cy="874.9" r="1.55" fill="#2b23c6"/>
<circle cx="481.44" cy="870.2" r="1.55" fill="#2b23c6"/>
<circle cx="485.79" cy="878.4" r="1.55" fill="#2b23c6"/>
<circle cx="490.15" cy="876.5" r="1.55" fill="#2b23c6"/>
<circle cx="494.5" cy="881.9" r="1.55" fill="#2b23c6"/>
<path d="M429.1,892.5 L476.9,899.5 L476.9,908.7 L429.1,901.7 Z" fill="#d5dadb" stroke="none" stroke-width="1" fill-opacity="0.75"/>
<line x1="429.1" y1="897.1" x2="476.9" y2="904.1" stroke="#6dcde0" stroke-width="0.9"/>
<circle cx="429.1" cy="895.2" r="1.55" fill="#5cc6dc"/>
<circle cx="433.45" cy="899.9" r="1.55" fill="#5cc6dc"/>
<circle cx="437.79" cy="898.3" r="1.55" fill="#5cc6dc"/>
<circle cx="442.14" cy="899" r="1.55" fill="#5cc6dc"/>
<circle cx="446.48" cy="902.5" r="1.55" fill="#5cc6dc"/>
<circle cx="450.83" cy="899.9" r="1.55" fill="#5cc6dc"/>
<circle cx="455.17" cy="901.8" r="1.55" fill="#5cc6dc"/>
<circle cx="459.52" cy="902.9" r="1.55" fill="#5cc6dc"/>
<circle cx="463.86" cy="894.3" r="1.55" fill="#5cc6dc"/>
<circle cx="468.21" cy="899" r="1.55" fill="#5cc6dc"/>
<circle cx="472.55" cy="903.6" r="1.55" fill="#5cc6dc"/>
<circle cx="476.9" cy="906" r="1.55" fill="#5cc6dc"/>
<line x1="423.9" y1="900.1" x2="534.6" y2="900.1" stroke="#707070" stroke-width="0.9"/>
<line x1="423.9" y1="828" x2="423.9" y2="916.9" stroke="#8a8a8a" stroke-width="1.0"/>
<path d="M423.9,826 L424.9,828.2 L422.9,828.2 Z" fill="#8a8a8a" stroke="none" stroke-width="1"/>
<text x="420.3" y="853.96" font-size="8" text-anchor="end" fill="#000" stroke="#000" stroke-width="0.2">0.2</text>
<text x="420.3" y="878.46" font-size="8" text-anchor="end" fill="#000" stroke="#000" stroke-width="0.2">0.1</text>
<text x="420.3" y="902.96" font-size="8" text-anchor="end" fill="#000" stroke="#000" stroke-width="0.2">0.0</text>
<text x="433.3" y="929.16" font-size="8" text-anchor="middle" fill="#000" stroke="#000" stroke-width="0.2">70</text>
<text x="455.05" y="929.16" font-size="8" text-anchor="middle" fill="#000" stroke="#000" stroke-width="0.2">75</text>
<text x="476.8" y="929.16" font-size="8" text-anchor="middle" fill="#000" stroke="#000" stroke-width="0.2">80</text>
<text x="498.55" y="929.16" font-size="8" text-anchor="middle" fill="#000" stroke="#000" stroke-width="0.2">85</text>
<text x="520.3" y="929.16" font-size="8" text-anchor="middle" fill="#000" stroke="#000" stroke-width="0.2">90</text>
<line x1="554.7" y1="913.15" x2="668" y2="913.15" stroke="#f5f5f5" stroke-width="0.6"/>
<line x1="554.7" y1="900.4" x2="668" y2="900.4" stroke="#ececec" stroke-width="0.6"/>
<line x1="554.7" y1="887.65" x2="668" y2="887.65" stroke="#f5f5f5" stroke-width="0.6"/>
<line x1="554.7" y1="874.9" x2="668" y2="874.9" stroke="#ececec" stroke-width="0.6"/>
<line x1="554.7" y1="862.15" x2="668" y2="862.15" stroke="#f5f5f5" stroke-width="0.6"/>
<line x1="554.7" y1="849.4" x2="668" y2="849.4" stroke="#ececec" stroke-width="0.6"/>
<line x1="554.7" y1="836.65" x2="668" y2="836.65" stroke="#f5f5f5" stroke-width="0.6"/>
<line x1="564" y1="824.7" x2="564" y2="920" stroke="#ececec" stroke-width="0.6"/>
<line x1="575.05" y1="824.7" x2="575.05" y2="920" stroke="#f5f5f5" stroke-width="0.6"/>
<line x1="586.1" y1="824.7" x2="586.1" y2="920" stroke="#ececec" stroke-width="0.6"/>
<line x1="597.15" y1="824.7" x2="597.15" y2="920" stroke="#f5f5f5" stroke-width="0.6"/>
<line x1="608.2" y1="824.7" x2="608.2" y2="920" stroke="#ececec" stroke-width="0.6"/>
<line x1="619.25" y1="824.7" x2="619.25" y2="920" stroke="#f5f5f5" stroke-width="0.6"/>
<line x1="630.3" y1="824.7" x2="630.3" y2="920" stroke="#ececec" stroke-width="0.6"/>
<line x1="641.35" y1="824.7" x2="641.35" y2="920" stroke="#f5f5f5" stroke-width="0.6"/>
<line x1="652.4" y1="824.7" x2="652.4" y2="920" stroke="#ececec" stroke-width="0.6"/>
<line x1="663.45" y1="824.7" x2="663.45" y2="920" stroke="#f5f5f5" stroke-width="0.6"/>
<path d="M613.3,835.9 L663.3,851.5 L663.3,859.5 L613.3,843.9 Z" fill="#c9c9cc" stroke="none" stroke-width="1" fill-opacity="0.75"/>
<line x1="613.3" y1="839.9" x2="663.3" y2="855.5" stroke="#26266e" stroke-width="0.9"/>
<circle cx="613.3" cy="846.2" r="1.55" fill="#1b1b63"/>
<circle cx="617.85" cy="842.2" r="1.55" fill="#1b1b63"/>
<circle cx="622.39" cy="840.6" r="1.55" fill="#1b1b63"/>
<circle cx="626.94" cy="842.9" r="1.55" fill="#1b1b63"/>
<circle cx="631.48" cy="841" r="1.55" fill="#1b1b63"/>
<circle cx="636.03" cy="845.2" r="1.55" fill="#1b1b63"/>
<circle cx="640.57" cy="842.9" r="1.55" fill="#1b1b63"/>
<circle cx="645.12" cy="846.4" r="1.55" fill="#1b1b63"/>
<circle cx="649.66" cy="856.2" r="1.55" fill="#1b1b63"/>
<circle cx="654.21" cy="850.8" r="1.55" fill="#1b1b63"/>
<circle cx="658.75" cy="856.9" r="1.55" fill="#1b1b63"/>
<circle cx="663.3" cy="859.2" r="1.55" fill="#1b1b63"/>
<path d="M577.6,877.8 L627.1,882 L627.1,888.8 L577.6,884.6 Z" fill="#c9c9cc" stroke="none" stroke-width="1" fill-opacity="0.75"/>
<line x1="577.6" y1="881.2" x2="627.1" y2="885.4" stroke="#3a33c8" stroke-width="0.9"/>
<circle cx="577.6" cy="889.6" r="1.55" fill="#2b23c6"/>
<circle cx="582.1" cy="878.4" r="1.55" fill="#2b23c6"/>
<circle cx="586.6" cy="880.3" r="1.55" fill="#2b23c6"/>
<circle cx="591.1" cy="883.1" r="1.55" fill="#2b23c6"/>
<circle cx="595.6" cy="878.4" r="1.55" fill="#2b23c6"/>
<circle cx="600.1" cy="881.9" r="1.55" fill="#2b23c6"/>
<circle cx="604.6" cy="880.3" r="1.55" fill="#2b23c6"/>
<circle cx="609.1" cy="882.6" r="1.55" fill="#2b23c6"/>
<circle cx="613.6" cy="884.9" r="1.55" fill="#2b23c6"/>
<circle cx="618.1" cy="882.6" r="1.55" fill="#2b23c6"/>
<circle cx="622.6" cy="887.3" r="1.55" fill="#2b23c6"/>
<circle cx="627.1" cy="888.2" r="1.55" fill="#2b23c6"/>
<path d="M559.6,897.8 L608.6,905.7 L608.6,914.1 L559.6,905.8 Z" fill="#d5dadb" stroke="none" stroke-width="1" fill-opacity="0.75"/>
<line x1="559.6" y1="901.8" x2="608.6" y2="909.9" stroke="#6dcde0" stroke-width="0.9"/>
<circle cx="559.6" cy="906.9" r="1.55" fill="#5cc6dc"/>
<circle cx="564.05" cy="901.8" r="1.55" fill="#5cc6dc"/>
<circle cx="568.51" cy="902.2" r="1.55" fill="#5cc6dc"/>
<circle cx="572.96" cy="903.6" r="1.55" fill="#5cc6dc"/>
<circle cx="577.42" cy="907.6" r="1.55" fill="#5cc6dc"/>
<circle cx="581.87" cy="902.9" r="1.55" fill="#5cc6dc"/>
<circle cx="586.33" cy="905.3" r="1.55" fill="#5cc6dc"/>
<circle cx="590.78" cy="906" r="1.55" fill="#5cc6dc"/>
<circle cx="595.24" cy="906" r="1.55" fill="#5cc6dc"/>
<circle cx="599.69" cy="912.3" r="1.55" fill="#5cc6dc"/>
<circle cx="604.15" cy="906.9" r="1.55" fill="#5cc6dc"/>
<circle cx="608.6" cy="916.9" r="1.55" fill="#5cc6dc"/>
<line x1="554.2" y1="900.4" x2="668" y2="900.4" stroke="#707070" stroke-width="0.9"/>
<line x1="554.2" y1="825.7" x2="554.2" y2="920" stroke="#8a8a8a" stroke-width="1.0"/>
<path d="M554.2,823.7 L555.2,825.9 L553.2,825.9 Z" fill="#8a8a8a" stroke="none" stroke-width="1"/>
<text x="550.6" y="852.26" font-size="8" text-anchor="end" fill="#000" stroke="#000" stroke-width="0.2">0.2</text>
<text x="550.6" y="877.76" font-size="8" text-anchor="end" fill="#000" stroke="#000" stroke-width="0.2">0.1</text>
<text x="550.6" y="903.26" font-size="8" text-anchor="end" fill="#000" stroke="#000" stroke-width="0.2">0.0</text>
<text x="564" y="929.66" font-size="8" text-anchor="middle" fill="#000" stroke="#000" stroke-width="0.2">70</text>
<text x="586.1" y="929.66" font-size="8" text-anchor="middle" fill="#000" stroke="#000" stroke-width="0.2">75</text>
<text x="608.2" y="929.66" font-size="8" text-anchor="middle" fill="#000" stroke="#000" stroke-width="0.2">80</text>
<text x="630.3" y="929.66" font-size="8" text-anchor="middle" fill="#000" stroke="#000" stroke-width="0.2">85</text>
<text x="652.4" y="929.66" font-size="8" text-anchor="middle" fill="#000" stroke="#000" stroke-width="0.2">90</text>
<text x="481.6" y="938" font-size="8" text-anchor="middle" fill="#000" stroke="#000" stroke-width="0.2">Age when taking the</text>
<text x="481.6" y="948.1" font-size="8" text-anchor="middle" fill="#000" stroke="#000" stroke-width="0.2">test (month)</text>
<text x="618.4" y="938" font-size="8" text-anchor="middle" fill="#000" stroke="#000" stroke-width="0.2">Age when taking the</text>
<text x="618.4" y="947.6" font-size="8" text-anchor="middle" fill="#000" stroke="#000" stroke-width="0.2">test (month)</text>
</svg></body></html>
